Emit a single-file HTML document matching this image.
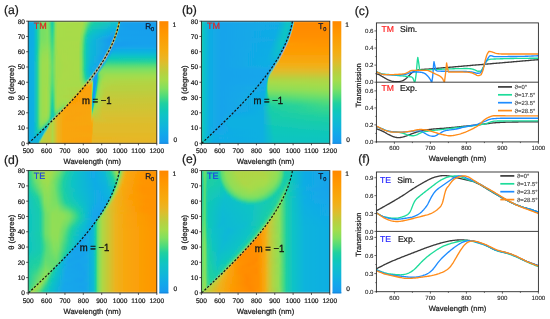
<!DOCTYPE html>
<html><head><meta charset="utf-8"><title>Figure</title>
<style>html,body{margin:0;padding:0;background:#fff;}svg{display:block;}text{font-family:"Liberation Sans", Arial, sans-serif;text-rendering:geometricPrecision;}</style>
</head><body>
<svg xmlns="http://www.w3.org/2000/svg" width="550" height="319" viewBox="0 0 550 319">
<defs>
<linearGradient id="cmap" x1="0" y1="1" x2="0" y2="0"><stop offset="0.0" stop-color="#1898F0"/><stop offset="0.08" stop-color="#12A8EA"/><stop offset="0.15" stop-color="#10B6DA"/><stop offset="0.24" stop-color="#10C4C4"/><stop offset="0.27" stop-color="#10C8B8"/><stop offset="0.33" stop-color="#20D0A0"/><stop offset="0.38" stop-color="#48DA80"/><stop offset="0.45" stop-color="#80E060"/><stop offset="0.52" stop-color="#A6DC4A"/><stop offset="0.58" stop-color="#B8D040"/><stop offset="0.65" stop-color="#D8C030"/><stop offset="0.7" stop-color="#EBB422"/><stop offset="0.76" stop-color="#F5AC10"/><stop offset="0.9" stop-color="#FF9800"/><stop offset="1.0" stop-color="#FF8800"/></linearGradient>
<filter id="vb" x="0" y="0" width="1" height="1"><feGaussianBlur stdDeviation="0 0.8" edgeMode="duplicate"/></filter>
<linearGradient id="a0"><stop offset="0.39%" stop-color="#11ace5"/><stop offset="4.26%" stop-color="#11afe2"/><stop offset="6.59%" stop-color="#10c7bb"/><stop offset="8.14%" stop-color="#33d591"/><stop offset="9.69%" stop-color="#67dd6e"/><stop offset="10.47%" stop-color="#74df67"/><stop offset="15.12%" stop-color="#80e060"/><stop offset="15.89%" stop-color="#77df65"/><stop offset="17.44%" stop-color="#41d886"/><stop offset="18.22%" stop-color="#20d0a0"/><stop offset="18.99%" stop-color="#1dcea5"/><stop offset="19.77%" stop-color="#30d493"/><stop offset="21.32%" stop-color="#88df5b"/><stop offset="22.87%" stop-color="#a6dc4a"/><stop offset="42.25%" stop-color="#a8da49"/><stop offset="45.35%" stop-color="#81e05f"/><stop offset="49.22%" stop-color="#2dd395"/><stop offset="51.55%" stop-color="#1dcfa4"/><stop offset="63.95%" stop-color="#10c5c0"/><stop offset="69.38%" stop-color="#10c0ca"/><stop offset="70.16%" stop-color="#abd947"/><stop offset="70.93%" stop-color="#f8a70c"/><stop offset="71.71%" stop-color="#10b6d9"/><stop offset="72.48%" stop-color="#169eee"/><stop offset="99.61%" stop-color="#169eee"/></linearGradient>
<linearGradient id="a1"><stop offset="0.39%" stop-color="#11ace5"/><stop offset="4.26%" stop-color="#11afe2"/><stop offset="6.59%" stop-color="#10c7bb"/><stop offset="8.14%" stop-color="#33d591"/><stop offset="9.69%" stop-color="#67dd6e"/><stop offset="10.47%" stop-color="#74df67"/><stop offset="15.12%" stop-color="#80e060"/><stop offset="15.89%" stop-color="#77df65"/><stop offset="17.44%" stop-color="#43d984"/><stop offset="18.22%" stop-color="#23d19e"/><stop offset="18.99%" stop-color="#1ecfa3"/><stop offset="19.77%" stop-color="#34d590"/><stop offset="21.32%" stop-color="#89df5b"/><stop offset="22.87%" stop-color="#a7dc4a"/><stop offset="42.25%" stop-color="#a7dc4a"/><stop offset="45.35%" stop-color="#75df66"/><stop offset="48.45%" stop-color="#2ad298"/><stop offset="50.78%" stop-color="#19cdaa"/><stop offset="68.6%" stop-color="#10bbd3"/><stop offset="69.38%" stop-color="#10c6bf"/><stop offset="70.16%" stop-color="#f6aa0e"/><stop offset="70.93%" stop-color="#a3dc4c"/><stop offset="71.71%" stop-color="#13a4eb"/><stop offset="99.61%" stop-color="#169eee"/></linearGradient>
<linearGradient id="a2"><stop offset="0.39%" stop-color="#11ace5"/><stop offset="4.26%" stop-color="#11afe2"/><stop offset="6.59%" stop-color="#10c7bb"/><stop offset="8.14%" stop-color="#33d591"/><stop offset="9.69%" stop-color="#67dd6e"/><stop offset="10.47%" stop-color="#74df67"/><stop offset="15.12%" stop-color="#80e060"/><stop offset="16.67%" stop-color="#63dd71"/><stop offset="18.22%" stop-color="#27d29b"/><stop offset="18.99%" stop-color="#1fd0a1"/><stop offset="19.77%" stop-color="#37d68d"/><stop offset="21.32%" stop-color="#8adf5a"/><stop offset="22.87%" stop-color="#a7dc4a"/><stop offset="41.47%" stop-color="#a8da49"/><stop offset="43.8%" stop-color="#8cdf59"/><stop offset="47.67%" stop-color="#29d299"/><stop offset="50%" stop-color="#15cbb0"/><stop offset="68.6%" stop-color="#10b8d7"/><stop offset="69.38%" stop-color="#6fde69"/><stop offset="70.16%" stop-color="#fba006"/><stop offset="70.93%" stop-color="#10c0cb"/><stop offset="71.71%" stop-color="#159fed"/><stop offset="99.61%" stop-color="#159fed"/></linearGradient>
<linearGradient id="a3"><stop offset="0.39%" stop-color="#11ace5"/><stop offset="4.26%" stop-color="#11afe2"/><stop offset="6.59%" stop-color="#10c7bb"/><stop offset="8.14%" stop-color="#33d591"/><stop offset="9.69%" stop-color="#67dd6e"/><stop offset="10.47%" stop-color="#74df67"/><stop offset="15.12%" stop-color="#80e060"/><stop offset="16.67%" stop-color="#64dd70"/><stop offset="18.22%" stop-color="#2ad398"/><stop offset="18.99%" stop-color="#22d19e"/><stop offset="19.77%" stop-color="#3bd78b"/><stop offset="21.32%" stop-color="#8adf5a"/><stop offset="22.87%" stop-color="#a7dc4a"/><stop offset="41.47%" stop-color="#a7db4a"/><stop offset="43.8%" stop-color="#84e05e"/><stop offset="46.9%" stop-color="#2ad398"/><stop offset="49.22%" stop-color="#13c9b4"/><stop offset="67.83%" stop-color="#11b2de"/><stop offset="68.6%" stop-color="#10bece"/><stop offset="69.38%" stop-color="#f3ae14"/><stop offset="70.16%" stop-color="#aed645"/><stop offset="70.93%" stop-color="#13a6eb"/><stop offset="78.68%" stop-color="#159fed"/><stop offset="99.61%" stop-color="#159fed"/></linearGradient>
<linearGradient id="a4"><stop offset="0.39%" stop-color="#11ace5"/><stop offset="4.26%" stop-color="#11afe2"/><stop offset="6.59%" stop-color="#10c7bb"/><stop offset="8.14%" stop-color="#33d591"/><stop offset="9.69%" stop-color="#67dd6e"/><stop offset="10.47%" stop-color="#74df67"/><stop offset="15.12%" stop-color="#81e060"/><stop offset="16.67%" stop-color="#65dd6f"/><stop offset="18.22%" stop-color="#2ed495"/><stop offset="18.99%" stop-color="#26d29b"/><stop offset="19.77%" stop-color="#3ed888"/><stop offset="21.32%" stop-color="#8bdf5a"/><stop offset="22.87%" stop-color="#a7dc4a"/><stop offset="40.7%" stop-color="#a9da48"/><stop offset="43.02%" stop-color="#8bdf59"/><stop offset="46.9%" stop-color="#1dcfa4"/><stop offset="50%" stop-color="#10c5c0"/><stop offset="66.28%" stop-color="#11b0e1"/><stop offset="67.83%" stop-color="#11b0e1"/><stop offset="68.6%" stop-color="#74df67"/><stop offset="69.38%" stop-color="#faa208"/><stop offset="70.16%" stop-color="#10bcd0"/><stop offset="70.93%" stop-color="#15a0ed"/><stop offset="99.61%" stop-color="#159fed"/></linearGradient>
<linearGradient id="a5"><stop offset="0.39%" stop-color="#11ace5"/><stop offset="4.26%" stop-color="#11afe2"/><stop offset="6.59%" stop-color="#10c7bb"/><stop offset="8.14%" stop-color="#33d591"/><stop offset="9.69%" stop-color="#67dd6e"/><stop offset="10.47%" stop-color="#74df67"/><stop offset="15.12%" stop-color="#81e060"/><stop offset="16.67%" stop-color="#66dd6f"/><stop offset="18.22%" stop-color="#32d492"/><stop offset="18.99%" stop-color="#2ad398"/><stop offset="19.77%" stop-color="#42d885"/><stop offset="21.32%" stop-color="#8cdf59"/><stop offset="22.87%" stop-color="#a7dc4a"/><stop offset="40.7%" stop-color="#a7db49"/><stop offset="43.02%" stop-color="#83e05e"/><stop offset="46.12%" stop-color="#1fcfa2"/><stop offset="48.45%" stop-color="#10c5c0"/><stop offset="67.05%" stop-color="#12a9e9"/><stop offset="67.83%" stop-color="#10bfcd"/><stop offset="68.6%" stop-color="#f9a40a"/><stop offset="69.38%" stop-color="#76df66"/><stop offset="70.16%" stop-color="#14a3ec"/><stop offset="99.61%" stop-color="#15a0ed"/></linearGradient>
<linearGradient id="a6"><stop offset="0.39%" stop-color="#11ace5"/><stop offset="4.26%" stop-color="#11afe2"/><stop offset="6.59%" stop-color="#10c7bb"/><stop offset="8.14%" stop-color="#33d591"/><stop offset="9.69%" stop-color="#67dd6e"/><stop offset="10.47%" stop-color="#74df67"/><stop offset="15.12%" stop-color="#81e060"/><stop offset="16.67%" stop-color="#68dd6e"/><stop offset="18.22%" stop-color="#35d58f"/><stop offset="18.99%" stop-color="#2fd494"/><stop offset="19.77%" stop-color="#45d982"/><stop offset="21.32%" stop-color="#8cdf59"/><stop offset="22.87%" stop-color="#a7dc4a"/><stop offset="39.92%" stop-color="#a9da48"/><stop offset="42.25%" stop-color="#8bdf5a"/><stop offset="44.57%" stop-color="#3fd887"/><stop offset="45.35%" stop-color="#23d19e"/><stop offset="46.9%" stop-color="#10c8b8"/><stop offset="50%" stop-color="#10c0cb"/><stop offset="63.18%" stop-color="#11ace5"/><stop offset="66.28%" stop-color="#13a5eb"/><stop offset="67.05%" stop-color="#12abe6"/><stop offset="67.83%" stop-color="#bbce3e"/><stop offset="68.6%" stop-color="#ecb320"/><stop offset="69.38%" stop-color="#11afe2"/><stop offset="70.16%" stop-color="#15a0ed"/><stop offset="99.61%" stop-color="#15a0ed"/></linearGradient>
<linearGradient id="a7"><stop offset="0.39%" stop-color="#11ace5"/><stop offset="4.26%" stop-color="#11afe2"/><stop offset="6.59%" stop-color="#10c7bb"/><stop offset="8.14%" stop-color="#33d591"/><stop offset="9.69%" stop-color="#67dd6e"/><stop offset="10.47%" stop-color="#74df67"/><stop offset="15.12%" stop-color="#81e060"/><stop offset="16.67%" stop-color="#69de6d"/><stop offset="18.22%" stop-color="#39d68c"/><stop offset="18.99%" stop-color="#33d591"/><stop offset="19.77%" stop-color="#49da7f"/><stop offset="21.32%" stop-color="#8ddf58"/><stop offset="22.87%" stop-color="#a7dc4a"/><stop offset="39.92%" stop-color="#a8db49"/><stop offset="42.25%" stop-color="#82e05f"/><stop offset="44.57%" stop-color="#2dd396"/><stop offset="46.12%" stop-color="#11c9b6"/><stop offset="48.45%" stop-color="#10becd"/><stop offset="62.4%" stop-color="#12a9e9"/><stop offset="66.28%" stop-color="#15a1ed"/><stop offset="67.05%" stop-color="#2cd397"/><stop offset="67.83%" stop-color="#fb9f06"/><stop offset="68.6%" stop-color="#10c2c7"/><stop offset="69.38%" stop-color="#15a1ed"/><stop offset="99.61%" stop-color="#15a0ed"/></linearGradient>
<linearGradient id="a8"><stop offset="0.39%" stop-color="#11ace5"/><stop offset="4.26%" stop-color="#11afe2"/><stop offset="6.59%" stop-color="#10c7bb"/><stop offset="8.14%" stop-color="#33d591"/><stop offset="9.69%" stop-color="#67dd6e"/><stop offset="10.47%" stop-color="#75df67"/><stop offset="15.12%" stop-color="#81e05f"/><stop offset="16.67%" stop-color="#6ade6d"/><stop offset="18.22%" stop-color="#3cd789"/><stop offset="18.99%" stop-color="#36d68e"/><stop offset="19.77%" stop-color="#4cda7e"/><stop offset="21.32%" stop-color="#8edf58"/><stop offset="22.87%" stop-color="#a7db4a"/><stop offset="39.92%" stop-color="#a7db4a"/><stop offset="42.25%" stop-color="#7bdf63"/><stop offset="44.57%" stop-color="#20d0a1"/><stop offset="46.9%" stop-color="#10c2c8"/><stop offset="52.33%" stop-color="#10b8d7"/><stop offset="65.5%" stop-color="#179bef"/><stop offset="66.28%" stop-color="#10bad4"/><stop offset="67.05%" stop-color="#faa208"/><stop offset="67.83%" stop-color="#52db7a"/><stop offset="68.6%" stop-color="#14a3ec"/><stop offset="99.61%" stop-color="#15a1ed"/></linearGradient>
<linearGradient id="a9"><stop offset="0.39%" stop-color="#11ace5"/><stop offset="4.26%" stop-color="#11afe2"/><stop offset="6.59%" stop-color="#10c7ba"/><stop offset="7.36%" stop-color="#1ccea6"/><stop offset="9.69%" stop-color="#69de6d"/><stop offset="10.47%" stop-color="#77df65"/><stop offset="15.12%" stop-color="#82e05f"/><stop offset="16.67%" stop-color="#6cde6b"/><stop offset="18.22%" stop-color="#40d887"/><stop offset="18.99%" stop-color="#3ad78b"/><stop offset="19.77%" stop-color="#4fdb7c"/><stop offset="21.32%" stop-color="#8ede58"/><stop offset="22.87%" stop-color="#a7db4a"/><stop offset="39.92%" stop-color="#a6dc4a"/><stop offset="42.25%" stop-color="#74df67"/><stop offset="44.57%" stop-color="#1ccea6"/><stop offset="46.12%" stop-color="#10c4c4"/><stop offset="50%" stop-color="#10b7d8"/><stop offset="64.73%" stop-color="#1898f0"/><stop offset="65.5%" stop-color="#12a8ea"/><stop offset="66.28%" stop-color="#eeb21d"/><stop offset="67.05%" stop-color="#b2d443"/><stop offset="67.83%" stop-color="#12a8ea"/><stop offset="74.03%" stop-color="#15a1ed"/><stop offset="99.61%" stop-color="#15a1ed"/></linearGradient>
<linearGradient id="a10"><stop offset="0.39%" stop-color="#11ace5"/><stop offset="4.26%" stop-color="#11afe2"/><stop offset="6.59%" stop-color="#10c7ba"/><stop offset="7.36%" stop-color="#1ccea6"/><stop offset="9.69%" stop-color="#6cde6c"/><stop offset="10.47%" stop-color="#7adf64"/><stop offset="15.12%" stop-color="#85e05d"/><stop offset="16.67%" stop-color="#6fde6a"/><stop offset="18.22%" stop-color="#44d983"/><stop offset="18.99%" stop-color="#3ed788"/><stop offset="19.77%" stop-color="#52db7a"/><stop offset="21.32%" stop-color="#8fde57"/><stop offset="22.87%" stop-color="#a7db4a"/><stop offset="39.15%" stop-color="#aada48"/><stop offset="40.7%" stop-color="#98dd52"/><stop offset="42.25%" stop-color="#71de69"/><stop offset="44.57%" stop-color="#1bcea7"/><stop offset="46.12%" stop-color="#10c4c5"/><stop offset="50%" stop-color="#10b7d8"/><stop offset="63.95%" stop-color="#1899f0"/><stop offset="64.73%" stop-color="#15a1ed"/><stop offset="65.5%" stop-color="#bbcf3f"/><stop offset="66.28%" stop-color="#e7b625"/><stop offset="67.05%" stop-color="#11ade4"/><stop offset="67.83%" stop-color="#15a0ed"/><stop offset="99.61%" stop-color="#14a1ec"/></linearGradient>
<linearGradient id="a11"><stop offset="0.39%" stop-color="#11ace5"/><stop offset="4.26%" stop-color="#11afe2"/><stop offset="6.59%" stop-color="#10c8b9"/><stop offset="7.36%" stop-color="#1dcea5"/><stop offset="9.69%" stop-color="#6fde6a"/><stop offset="10.47%" stop-color="#7ee061"/><stop offset="15.12%" stop-color="#87df5c"/><stop offset="16.67%" stop-color="#73df68"/><stop offset="18.22%" stop-color="#48da80"/><stop offset="18.99%" stop-color="#42d985"/><stop offset="19.77%" stop-color="#56db78"/><stop offset="21.32%" stop-color="#90de57"/><stop offset="22.87%" stop-color="#a7db49"/><stop offset="39.15%" stop-color="#a9da48"/><stop offset="41.47%" stop-color="#86df5c"/><stop offset="43.8%" stop-color="#2fd494"/><stop offset="45.35%" stop-color="#10c8b8"/><stop offset="48.45%" stop-color="#10b9d6"/><stop offset="63.95%" stop-color="#169eee"/><stop offset="64.73%" stop-color="#90de56"/><stop offset="65.5%" stop-color="#f6aa0f"/><stop offset="66.28%" stop-color="#11b2de"/><stop offset="67.05%" stop-color="#169eee"/><stop offset="99.61%" stop-color="#14a2ec"/></linearGradient>
<linearGradient id="a12"><stop offset="0.39%" stop-color="#11ace5"/><stop offset="4.26%" stop-color="#11afe2"/><stop offset="6.59%" stop-color="#10c8b9"/><stop offset="7.36%" stop-color="#1dcfa4"/><stop offset="9.69%" stop-color="#73df67"/><stop offset="10.47%" stop-color="#82e05f"/><stop offset="15.12%" stop-color="#8bdf5a"/><stop offset="16.67%" stop-color="#77df65"/><stop offset="18.22%" stop-color="#4cda7d"/><stop offset="18.99%" stop-color="#47da81"/><stop offset="19.77%" stop-color="#59dc76"/><stop offset="21.32%" stop-color="#91de56"/><stop offset="22.87%" stop-color="#a7db49"/><stop offset="39.15%" stop-color="#a9da48"/><stop offset="41.47%" stop-color="#84e05d"/><stop offset="43.02%" stop-color="#4dda7d"/><stop offset="43.8%" stop-color="#2cd396"/><stop offset="45.35%" stop-color="#10c8b9"/><stop offset="48.45%" stop-color="#10b9d6"/><stop offset="63.18%" stop-color="#169dee"/><stop offset="63.95%" stop-color="#62dd71"/><stop offset="64.73%" stop-color="#f9a40a"/><stop offset="65.5%" stop-color="#10b7d9"/><stop offset="66.28%" stop-color="#179cef"/><stop offset="80.23%" stop-color="#14a3ec"/><stop offset="99.61%" stop-color="#14a3ec"/></linearGradient>
<linearGradient id="a13"><stop offset="0.39%" stop-color="#11ace5"/><stop offset="4.26%" stop-color="#11afe2"/><stop offset="6.59%" stop-color="#10c8b8"/><stop offset="7.36%" stop-color="#1ecfa3"/><stop offset="9.69%" stop-color="#77df65"/><stop offset="11.24%" stop-color="#87df5c"/><stop offset="15.12%" stop-color="#8edf58"/><stop offset="16.67%" stop-color="#7bdf63"/><stop offset="18.22%" stop-color="#51db7b"/><stop offset="18.99%" stop-color="#4bda7e"/><stop offset="19.77%" stop-color="#5ddc74"/><stop offset="21.32%" stop-color="#91de56"/><stop offset="22.87%" stop-color="#a7db49"/><stop offset="39.15%" stop-color="#a8da49"/><stop offset="41.47%" stop-color="#82e05f"/><stop offset="43.02%" stop-color="#49da7f"/><stop offset="43.8%" stop-color="#29d299"/><stop offset="45.35%" stop-color="#10c7bb"/><stop offset="48.45%" stop-color="#10b9d6"/><stop offset="62.4%" stop-color="#169eee"/><stop offset="63.18%" stop-color="#48da80"/><stop offset="63.95%" stop-color="#faa208"/><stop offset="64.73%" stop-color="#10b9d5"/><stop offset="65.5%" stop-color="#179aef"/><stop offset="68.6%" stop-color="#12a8ea"/><stop offset="99.61%" stop-color="#12a8ea"/></linearGradient>
<linearGradient id="a14"><stop offset="0.39%" stop-color="#11ace5"/><stop offset="4.26%" stop-color="#11b0e1"/><stop offset="6.59%" stop-color="#11c8b7"/><stop offset="7.36%" stop-color="#1fcfa2"/><stop offset="8.91%" stop-color="#61dd72"/><stop offset="9.69%" stop-color="#7ce062"/><stop offset="11.24%" stop-color="#8bdf59"/><stop offset="15.12%" stop-color="#92de56"/><stop offset="16.67%" stop-color="#7fe060"/><stop offset="18.22%" stop-color="#56db78"/><stop offset="18.99%" stop-color="#50db7c"/><stop offset="19.77%" stop-color="#60dd72"/><stop offset="21.32%" stop-color="#92de56"/><stop offset="23.64%" stop-color="#a9da48"/><stop offset="39.15%" stop-color="#a8db49"/><stop offset="41.47%" stop-color="#80e060"/><stop offset="43.02%" stop-color="#46da81"/><stop offset="43.8%" stop-color="#26d19b"/><stop offset="45.35%" stop-color="#10c7bc"/><stop offset="48.45%" stop-color="#10b9d6"/><stop offset="61.63%" stop-color="#169fee"/><stop offset="62.4%" stop-color="#49da80"/><stop offset="63.18%" stop-color="#faa208"/><stop offset="63.95%" stop-color="#10b9d5"/><stop offset="64.73%" stop-color="#179bef"/><stop offset="67.05%" stop-color="#11ade4"/><stop offset="99.61%" stop-color="#11ade4"/></linearGradient>
<linearGradient id="a15"><stop offset="0.39%" stop-color="#11ace5"/><stop offset="4.26%" stop-color="#11b0e1"/><stop offset="6.59%" stop-color="#11c9b6"/><stop offset="7.36%" stop-color="#1fd0a1"/><stop offset="8.91%" stop-color="#64dd70"/><stop offset="9.69%" stop-color="#80e060"/><stop offset="12.02%" stop-color="#92de55"/><stop offset="15.12%" stop-color="#95de54"/><stop offset="16.67%" stop-color="#82e05f"/><stop offset="18.22%" stop-color="#5adc75"/><stop offset="18.99%" stop-color="#54db79"/><stop offset="19.77%" stop-color="#64dd70"/><stop offset="21.32%" stop-color="#93de55"/><stop offset="23.64%" stop-color="#a9da48"/><stop offset="39.15%" stop-color="#a7db49"/><stop offset="41.47%" stop-color="#7ee061"/><stop offset="43.8%" stop-color="#23d19d"/><stop offset="45.35%" stop-color="#10c6bd"/><stop offset="48.45%" stop-color="#10b9d6"/><stop offset="60.85%" stop-color="#15a0ed"/><stop offset="61.63%" stop-color="#62dd71"/><stop offset="62.4%" stop-color="#f9a309"/><stop offset="63.18%" stop-color="#10b7d9"/><stop offset="63.95%" stop-color="#179cef"/><stop offset="65.5%" stop-color="#11b1df"/><stop offset="99.61%" stop-color="#10b3dd"/></linearGradient>
<linearGradient id="a16"><stop offset="0.39%" stop-color="#11ace5"/><stop offset="4.26%" stop-color="#11b0e1"/><stop offset="6.59%" stop-color="#11c9b6"/><stop offset="7.36%" stop-color="#20d0a0"/><stop offset="8.91%" stop-color="#68dd6e"/><stop offset="9.69%" stop-color="#83e05e"/><stop offset="11.24%" stop-color="#93de55"/><stop offset="15.12%" stop-color="#98dd52"/><stop offset="17.44%" stop-color="#73df67"/><stop offset="18.22%" stop-color="#5edc73"/><stop offset="18.99%" stop-color="#57dc77"/><stop offset="19.77%" stop-color="#66dd6f"/><stop offset="21.32%" stop-color="#93de55"/><stop offset="23.64%" stop-color="#a9da48"/><stop offset="39.15%" stop-color="#a7db49"/><stop offset="41.47%" stop-color="#7ee061"/><stop offset="43.8%" stop-color="#24d19d"/><stop offset="45.35%" stop-color="#10c6bd"/><stop offset="48.45%" stop-color="#10b9d6"/><stop offset="60.08%" stop-color="#14a2ec"/><stop offset="60.85%" stop-color="#8fde57"/><stop offset="61.63%" stop-color="#f7a80d"/><stop offset="62.4%" stop-color="#11b1e0"/><stop offset="63.18%" stop-color="#169eee"/><stop offset="64.73%" stop-color="#10b9d5"/><stop offset="99.61%" stop-color="#10bbd3"/></linearGradient>
<linearGradient id="a17"><stop offset="0.39%" stop-color="#11ace5"/><stop offset="4.26%" stop-color="#11b0e1"/><stop offset="6.59%" stop-color="#12c9b5"/><stop offset="7.36%" stop-color="#22d09e"/><stop offset="8.91%" stop-color="#6ade6c"/><stop offset="9.69%" stop-color="#85df5d"/><stop offset="11.24%" stop-color="#96de53"/><stop offset="15.12%" stop-color="#9bdd51"/><stop offset="17.44%" stop-color="#76df66"/><stop offset="18.22%" stop-color="#61dd72"/><stop offset="18.99%" stop-color="#5adc76"/><stop offset="22.09%" stop-color="#a0dd4d"/><stop offset="26.74%" stop-color="#aada48"/><stop offset="39.15%" stop-color="#a7db49"/><stop offset="41.47%" stop-color="#7fe061"/><stop offset="43.8%" stop-color="#24d19d"/><stop offset="45.35%" stop-color="#10c6bd"/><stop offset="48.45%" stop-color="#10b8d6"/><stop offset="58.53%" stop-color="#15a0ed"/><stop offset="59.3%" stop-color="#13a6eb"/><stop offset="60.08%" stop-color="#b7d141"/><stop offset="60.85%" stop-color="#eeb11c"/><stop offset="61.63%" stop-color="#12a8ea"/><stop offset="62.4%" stop-color="#14a2ec"/><stop offset="63.18%" stop-color="#10b8d7"/><stop offset="64.73%" stop-color="#10c2c8"/><stop offset="99.61%" stop-color="#10c2c8"/></linearGradient>
<linearGradient id="a18"><stop offset="0.39%" stop-color="#11ace5"/><stop offset="4.26%" stop-color="#11b0e1"/><stop offset="6.59%" stop-color="#12c9b5"/><stop offset="7.36%" stop-color="#23d19d"/><stop offset="8.91%" stop-color="#6dde6b"/><stop offset="9.69%" stop-color="#87df5c"/><stop offset="11.24%" stop-color="#98dd52"/><stop offset="15.12%" stop-color="#9ddd4f"/><stop offset="17.44%" stop-color="#79df64"/><stop offset="18.22%" stop-color="#64dd70"/><stop offset="18.99%" stop-color="#5ddc74"/><stop offset="22.09%" stop-color="#a1dd4d"/><stop offset="27.52%" stop-color="#aada48"/><stop offset="39.15%" stop-color="#a7db49"/><stop offset="41.47%" stop-color="#7fe061"/><stop offset="43.8%" stop-color="#24d19c"/><stop offset="45.35%" stop-color="#10c6bd"/><stop offset="48.45%" stop-color="#10b8d7"/><stop offset="57.75%" stop-color="#15a1ed"/><stop offset="58.53%" stop-color="#11ade4"/><stop offset="59.3%" stop-color="#eab523"/><stop offset="60.08%" stop-color="#c6c939"/><stop offset="60.85%" stop-color="#15a1ed"/><stop offset="61.63%" stop-color="#12a8ea"/><stop offset="62.4%" stop-color="#10bfcb"/><stop offset="63.18%" stop-color="#10c7bb"/><stop offset="99.61%" stop-color="#10c8b8"/></linearGradient>
<linearGradient id="a19"><stop offset="0.39%" stop-color="#11ace5"/><stop offset="4.26%" stop-color="#11b0e1"/><stop offset="6.59%" stop-color="#12c9b5"/><stop offset="7.36%" stop-color="#24d19d"/><stop offset="8.91%" stop-color="#6ede6a"/><stop offset="9.69%" stop-color="#88df5b"/><stop offset="11.24%" stop-color="#99dd51"/><stop offset="15.12%" stop-color="#9edd4f"/><stop offset="17.44%" stop-color="#7bdf63"/><stop offset="18.22%" stop-color="#66dd6f"/><stop offset="18.99%" stop-color="#60dd73"/><stop offset="22.09%" stop-color="#a1dd4d"/><stop offset="27.52%" stop-color="#aada48"/><stop offset="39.15%" stop-color="#a7db49"/><stop offset="41.47%" stop-color="#7fe061"/><stop offset="43.02%" stop-color="#45d982"/><stop offset="43.8%" stop-color="#24d19c"/><stop offset="45.35%" stop-color="#10c6bd"/><stop offset="48.45%" stop-color="#10b7d8"/><stop offset="56.98%" stop-color="#14a2ec"/><stop offset="57.75%" stop-color="#10bad4"/><stop offset="58.53%" stop-color="#f9a50a"/><stop offset="59.3%" stop-color="#84e05e"/><stop offset="60.08%" stop-color="#169cee"/><stop offset="60.85%" stop-color="#11b1e0"/><stop offset="61.63%" stop-color="#10c7bb"/><stop offset="62.4%" stop-color="#19cdaa"/><stop offset="99.61%" stop-color="#1bcda8"/></linearGradient>
<linearGradient id="a20"><stop offset="0.39%" stop-color="#11ace5"/><stop offset="4.26%" stop-color="#11b0e1"/><stop offset="6.59%" stop-color="#12c9b4"/><stop offset="7.36%" stop-color="#25d19c"/><stop offset="8.91%" stop-color="#6fde6a"/><stop offset="9.69%" stop-color="#89df5b"/><stop offset="11.24%" stop-color="#9add51"/><stop offset="15.12%" stop-color="#9edd4e"/><stop offset="17.44%" stop-color="#7ce062"/><stop offset="18.22%" stop-color="#69dd6d"/><stop offset="18.99%" stop-color="#62dd71"/><stop offset="22.09%" stop-color="#a1dd4d"/><stop offset="28.29%" stop-color="#aad948"/><stop offset="39.15%" stop-color="#a8db49"/><stop offset="41.47%" stop-color="#7fe060"/><stop offset="43.02%" stop-color="#45d982"/><stop offset="43.8%" stop-color="#24d19d"/><stop offset="45.35%" stop-color="#10c6bd"/><stop offset="48.45%" stop-color="#10b6da"/><stop offset="56.2%" stop-color="#14a3ec"/><stop offset="56.98%" stop-color="#18ccac"/><stop offset="57.75%" stop-color="#fc9e05"/><stop offset="58.53%" stop-color="#13cab3"/><stop offset="59.3%" stop-color="#169dee"/><stop offset="60.08%" stop-color="#10bbd2"/><stop offset="60.85%" stop-color="#1acda9"/><stop offset="61.63%" stop-color="#27d29b"/><stop offset="99.61%" stop-color="#29d299"/></linearGradient>
<linearGradient id="a21"><stop offset="0.39%" stop-color="#11ace5"/><stop offset="4.26%" stop-color="#11b0e1"/><stop offset="6.59%" stop-color="#13c9b4"/><stop offset="7.36%" stop-color="#25d19c"/><stop offset="8.91%" stop-color="#70de69"/><stop offset="9.69%" stop-color="#89df5b"/><stop offset="11.24%" stop-color="#9bdd50"/><stop offset="15.12%" stop-color="#9fdd4e"/><stop offset="17.44%" stop-color="#7ee061"/><stop offset="18.22%" stop-color="#6bde6c"/><stop offset="18.99%" stop-color="#64dd70"/><stop offset="22.09%" stop-color="#a1dd4d"/><stop offset="28.29%" stop-color="#aad948"/><stop offset="39.15%" stop-color="#a8db49"/><stop offset="41.47%" stop-color="#7fe060"/><stop offset="43.02%" stop-color="#45d983"/><stop offset="43.8%" stop-color="#24d19d"/><stop offset="45.35%" stop-color="#10c6be"/><stop offset="48.45%" stop-color="#10b5dc"/><stop offset="55.43%" stop-color="#12a7ea"/><stop offset="56.2%" stop-color="#9add51"/><stop offset="56.98%" stop-color="#f7a80c"/><stop offset="57.75%" stop-color="#11b1df"/><stop offset="58.53%" stop-color="#13a4eb"/><stop offset="59.3%" stop-color="#10c5c0"/><stop offset="60.08%" stop-color="#32d492"/><stop offset="60.85%" stop-color="#41d885"/><stop offset="99.61%" stop-color="#42d984"/></linearGradient>
<linearGradient id="a22"><stop offset="0.39%" stop-color="#11ace5"/><stop offset="4.26%" stop-color="#11b0e1"/><stop offset="6.59%" stop-color="#13c9b4"/><stop offset="7.36%" stop-color="#25d19c"/><stop offset="8.91%" stop-color="#70de69"/><stop offset="9.69%" stop-color="#8adf5a"/><stop offset="11.24%" stop-color="#9cdd50"/><stop offset="15.12%" stop-color="#9fdd4e"/><stop offset="18.99%" stop-color="#66dd6f"/><stop offset="22.09%" stop-color="#a1dd4d"/><stop offset="29.07%" stop-color="#aad948"/><stop offset="39.15%" stop-color="#a8db49"/><stop offset="41.47%" stop-color="#7fe060"/><stop offset="43.02%" stop-color="#44d983"/><stop offset="43.8%" stop-color="#22d19e"/><stop offset="45.35%" stop-color="#10c5c0"/><stop offset="48.45%" stop-color="#10b3de"/><stop offset="53.88%" stop-color="#13a4eb"/><stop offset="54.65%" stop-color="#10b3dd"/><stop offset="55.43%" stop-color="#f0b019"/><stop offset="56.2%" stop-color="#becd3d"/><stop offset="56.98%" stop-color="#159fed"/><stop offset="57.75%" stop-color="#11b2df"/><stop offset="58.53%" stop-color="#1ecfa3"/><stop offset="59.3%" stop-color="#53db7a"/><stop offset="62.4%" stop-color="#5cdc75"/><stop offset="99.61%" stop-color="#5cdc75"/></linearGradient>
<linearGradient id="a23"><stop offset="0.39%" stop-color="#11ace5"/><stop offset="4.26%" stop-color="#11b0e1"/><stop offset="6.59%" stop-color="#13c9b4"/><stop offset="7.36%" stop-color="#25d19c"/><stop offset="8.91%" stop-color="#70de69"/><stop offset="9.69%" stop-color="#8adf5a"/><stop offset="11.24%" stop-color="#9cdd50"/><stop offset="15.12%" stop-color="#9fdd4e"/><stop offset="18.99%" stop-color="#66dd6f"/><stop offset="22.09%" stop-color="#a1dd4d"/><stop offset="29.07%" stop-color="#aad948"/><stop offset="39.15%" stop-color="#a8db49"/><stop offset="41.47%" stop-color="#7fe061"/><stop offset="43.02%" stop-color="#43d984"/><stop offset="43.8%" stop-color="#20d0a0"/><stop offset="45.35%" stop-color="#10c5c2"/><stop offset="48.45%" stop-color="#11b1e0"/><stop offset="53.1%" stop-color="#13a6eb"/><stop offset="53.88%" stop-color="#14cab3"/><stop offset="54.65%" stop-color="#fc9e05"/><stop offset="55.43%" stop-color="#1ecfa3"/><stop offset="56.2%" stop-color="#169dee"/><stop offset="56.98%" stop-color="#10c1c9"/><stop offset="57.75%" stop-color="#4bda7e"/><stop offset="58.53%" stop-color="#6dde6b"/><stop offset="99.61%" stop-color="#70de69"/></linearGradient>
<linearGradient id="a24"><stop offset="0.39%" stop-color="#11ace5"/><stop offset="4.26%" stop-color="#11b0e1"/><stop offset="6.59%" stop-color="#13c9b4"/><stop offset="7.36%" stop-color="#25d19c"/><stop offset="8.91%" stop-color="#70de69"/><stop offset="9.69%" stop-color="#8adf5a"/><stop offset="11.24%" stop-color="#9cdd50"/><stop offset="15.12%" stop-color="#9fdd4e"/><stop offset="17.44%" stop-color="#7ee061"/><stop offset="18.22%" stop-color="#6bde6c"/><stop offset="18.99%" stop-color="#64dd70"/><stop offset="22.09%" stop-color="#a1dd4d"/><stop offset="28.29%" stop-color="#aad948"/><stop offset="39.15%" stop-color="#a8db49"/><stop offset="41.47%" stop-color="#7ee061"/><stop offset="43.02%" stop-color="#41d885"/><stop offset="43.8%" stop-color="#1fd0a1"/><stop offset="45.35%" stop-color="#10c4c4"/><stop offset="48.45%" stop-color="#11aee3"/><stop offset="52.33%" stop-color="#11ace6"/><stop offset="53.1%" stop-color="#b0d544"/><stop offset="53.88%" stop-color="#f5ab10"/><stop offset="54.65%" stop-color="#11ade5"/><stop offset="55.43%" stop-color="#12a9e9"/><stop offset="56.2%" stop-color="#1dcea5"/><stop offset="56.98%" stop-color="#70de69"/><stop offset="57.75%" stop-color="#80e060"/><stop offset="99.61%" stop-color="#81e060"/></linearGradient>
<linearGradient id="a25"><stop offset="0.39%" stop-color="#11ace5"/><stop offset="4.26%" stop-color="#11b0e1"/><stop offset="6.59%" stop-color="#13c9b4"/><stop offset="7.36%" stop-color="#25d19c"/><stop offset="8.91%" stop-color="#70de69"/><stop offset="9.69%" stop-color="#8adf5a"/><stop offset="11.24%" stop-color="#9cdd50"/><stop offset="15.12%" stop-color="#9fdd4e"/><stop offset="17.44%" stop-color="#7de062"/><stop offset="18.22%" stop-color="#69de6d"/><stop offset="18.99%" stop-color="#62dd71"/><stop offset="22.09%" stop-color="#a1dd4d"/><stop offset="28.29%" stop-color="#aad948"/><stop offset="39.15%" stop-color="#a8db49"/><stop offset="41.47%" stop-color="#82e05f"/><stop offset="43.02%" stop-color="#48da80"/><stop offset="43.8%" stop-color="#26d19b"/><stop offset="45.35%" stop-color="#10c5c0"/><stop offset="48.45%" stop-color="#11b2df"/><stop offset="50.78%" stop-color="#11ade4"/><stop offset="51.55%" stop-color="#10c3c6"/><stop offset="52.33%" stop-color="#f9a309"/><stop offset="53.1%" stop-color="#87df5c"/><stop offset="53.88%" stop-color="#179cef"/><stop offset="54.65%" stop-color="#10bdcf"/><stop offset="55.43%" stop-color="#57dc77"/><stop offset="56.2%" stop-color="#87df5c"/><stop offset="99.61%" stop-color="#8cdf59"/></linearGradient>
<linearGradient id="a26"><stop offset="0.39%" stop-color="#11ace5"/><stop offset="4.26%" stop-color="#11b0e1"/><stop offset="6.59%" stop-color="#13c9b4"/><stop offset="7.36%" stop-color="#25d19c"/><stop offset="8.91%" stop-color="#70de69"/><stop offset="9.69%" stop-color="#8adf5a"/><stop offset="11.24%" stop-color="#9cdd50"/><stop offset="15.12%" stop-color="#9fdd4e"/><stop offset="17.44%" stop-color="#7ce062"/><stop offset="18.22%" stop-color="#67dd6e"/><stop offset="18.99%" stop-color="#60dd72"/><stop offset="22.09%" stop-color="#a1dd4d"/><stop offset="27.52%" stop-color="#aada48"/><stop offset="39.15%" stop-color="#a8db49"/><stop offset="41.47%" stop-color="#84e05d"/><stop offset="43.02%" stop-color="#4fdb7c"/><stop offset="43.8%" stop-color="#2ed395"/><stop offset="45.35%" stop-color="#10c7ba"/><stop offset="48.45%" stop-color="#10b6da"/><stop offset="50%" stop-color="#10b7d9"/><stop offset="50.78%" stop-color="#a0dd4e"/><stop offset="51.55%" stop-color="#f9a50a"/><stop offset="52.33%" stop-color="#12abe7"/><stop offset="53.1%" stop-color="#1899f0"/><stop offset="53.88%" stop-color="#10bdcf"/><stop offset="54.65%" stop-color="#54db79"/><stop offset="55.43%" stop-color="#7fe060"/><stop offset="60.08%" stop-color="#96de53"/><stop offset="99.61%" stop-color="#98de52"/></linearGradient>
<linearGradient id="a27"><stop offset="0.39%" stop-color="#11ace5"/><stop offset="4.26%" stop-color="#11b0e1"/><stop offset="6.59%" stop-color="#13c9b4"/><stop offset="7.36%" stop-color="#25d19c"/><stop offset="8.91%" stop-color="#70de69"/><stop offset="9.69%" stop-color="#8adf5a"/><stop offset="11.24%" stop-color="#9cdd50"/><stop offset="15.12%" stop-color="#9fdd4e"/><stop offset="17.44%" stop-color="#7bdf63"/><stop offset="18.22%" stop-color="#65dd6f"/><stop offset="18.99%" stop-color="#5edc73"/><stop offset="22.09%" stop-color="#a1dd4d"/><stop offset="27.52%" stop-color="#aada48"/><stop offset="39.15%" stop-color="#a8da49"/><stop offset="41.47%" stop-color="#87df5c"/><stop offset="43.8%" stop-color="#36d58f"/><stop offset="44.57%" stop-color="#1dcea5"/><stop offset="46.12%" stop-color="#10c4c3"/><stop offset="48.45%" stop-color="#10bad3"/><stop offset="49.22%" stop-color="#12c9b5"/><stop offset="50%" stop-color="#f9a40a"/><stop offset="50.78%" stop-color="#9cdd50"/><stop offset="51.55%" stop-color="#1898f0"/><stop offset="52.33%" stop-color="#13a6eb"/><stop offset="53.1%" stop-color="#1898f0"/><stop offset="53.88%" stop-color="#10c2c7"/><stop offset="54.65%" stop-color="#3cd78a"/><stop offset="55.43%" stop-color="#67dd6e"/><stop offset="56.98%" stop-color="#89df5b"/><stop offset="60.85%" stop-color="#a0dd4e"/><stop offset="99.61%" stop-color="#a1dd4d"/></linearGradient>
<linearGradient id="a28"><stop offset="0.39%" stop-color="#11ace5"/><stop offset="4.26%" stop-color="#11b0e1"/><stop offset="6.59%" stop-color="#13c9b4"/><stop offset="7.36%" stop-color="#25d19c"/><stop offset="8.91%" stop-color="#70de69"/><stop offset="9.69%" stop-color="#8adf5a"/><stop offset="11.24%" stop-color="#9cdd50"/><stop offset="15.12%" stop-color="#9fdd4e"/><stop offset="17.44%" stop-color="#79df64"/><stop offset="18.22%" stop-color="#64dd70"/><stop offset="18.99%" stop-color="#5cdc75"/><stop offset="22.09%" stop-color="#a1dd4d"/><stop offset="27.52%" stop-color="#aada48"/><stop offset="39.15%" stop-color="#a8da49"/><stop offset="41.47%" stop-color="#8adf5a"/><stop offset="43.8%" stop-color="#3fd888"/><stop offset="44.57%" stop-color="#21d09f"/><stop offset="46.9%" stop-color="#10c3c5"/><stop offset="47.67%" stop-color="#10c3c5"/><stop offset="48.45%" stop-color="#b2d443"/><stop offset="49.22%" stop-color="#f9a50a"/><stop offset="50%" stop-color="#10bbd2"/><stop offset="51.55%" stop-color="#1898f0"/><stop offset="53.1%" stop-color="#1898f0"/><stop offset="53.88%" stop-color="#10c1c8"/><stop offset="54.65%" stop-color="#39d68c"/><stop offset="55.43%" stop-color="#67dd6e"/><stop offset="56.2%" stop-color="#81e060"/><stop offset="59.3%" stop-color="#a3dc4c"/><stop offset="99.61%" stop-color="#a8db49"/></linearGradient>
<linearGradient id="a29"><stop offset="0.39%" stop-color="#11ace5"/><stop offset="4.26%" stop-color="#11b0e1"/><stop offset="6.59%" stop-color="#13c9b4"/><stop offset="7.36%" stop-color="#25d19c"/><stop offset="8.91%" stop-color="#70de69"/><stop offset="9.69%" stop-color="#8adf5a"/><stop offset="11.24%" stop-color="#9cdd50"/><stop offset="15.12%" stop-color="#9fdd4e"/><stop offset="17.44%" stop-color="#78df64"/><stop offset="18.22%" stop-color="#62dd71"/><stop offset="18.99%" stop-color="#5adc76"/><stop offset="19.77%" stop-color="#68dd6e"/><stop offset="21.32%" stop-color="#94de55"/><stop offset="23.64%" stop-color="#a9da48"/><stop offset="39.15%" stop-color="#a9da48"/><stop offset="41.47%" stop-color="#8edf58"/><stop offset="43.02%" stop-color="#68dd6e"/><stop offset="45.35%" stop-color="#1ecfa2"/><stop offset="46.12%" stop-color="#18ccad"/><stop offset="46.9%" stop-color="#53db7a"/><stop offset="47.67%" stop-color="#fba006"/><stop offset="48.45%" stop-color="#acd847"/><stop offset="49.22%" stop-color="#10bfcc"/><stop offset="50%" stop-color="#10becd"/><stop offset="51.55%" stop-color="#1898f0"/><stop offset="53.1%" stop-color="#14a3ec"/><stop offset="53.88%" stop-color="#10c7ba"/><stop offset="54.65%" stop-color="#4fdb7c"/><stop offset="55.43%" stop-color="#78df64"/><stop offset="57.75%" stop-color="#a1dc4d"/><stop offset="64.73%" stop-color="#add846"/><stop offset="99.61%" stop-color="#add846"/></linearGradient>
<linearGradient id="a30"><stop offset="0.39%" stop-color="#11ace5"/><stop offset="4.26%" stop-color="#11b0e1"/><stop offset="6.59%" stop-color="#13c9b4"/><stop offset="7.36%" stop-color="#25d19c"/><stop offset="8.91%" stop-color="#70de69"/><stop offset="9.69%" stop-color="#8adf5a"/><stop offset="11.24%" stop-color="#9cdd50"/><stop offset="15.12%" stop-color="#9fdd4e"/><stop offset="17.44%" stop-color="#77df65"/><stop offset="18.22%" stop-color="#60dd72"/><stop offset="18.99%" stop-color="#58dc77"/><stop offset="19.77%" stop-color="#66dd6f"/><stop offset="21.32%" stop-color="#93de55"/><stop offset="23.64%" stop-color="#a9da48"/><stop offset="39.92%" stop-color="#a6dc4a"/><stop offset="43.02%" stop-color="#7de062"/><stop offset="44.57%" stop-color="#54db79"/><stop offset="45.35%" stop-color="#56dc78"/><stop offset="46.12%" stop-color="#ecb321"/><stop offset="46.9%" stop-color="#f8a60b"/><stop offset="47.67%" stop-color="#71de69"/><stop offset="48.45%" stop-color="#8ddf59"/><stop offset="49.22%" stop-color="#ccc636"/><stop offset="50%" stop-color="#a6dc4a"/><stop offset="50.78%" stop-color="#10b9d5"/><stop offset="51.55%" stop-color="#1898f0"/><stop offset="52.33%" stop-color="#1898f0"/><stop offset="53.1%" stop-color="#11ace6"/><stop offset="53.88%" stop-color="#1acda9"/><stop offset="54.65%" stop-color="#64dd70"/><stop offset="55.43%" stop-color="#86df5c"/><stop offset="57.75%" stop-color="#a9da48"/><stop offset="71.71%" stop-color="#b1d444"/><stop offset="99.61%" stop-color="#b1d444"/></linearGradient>
<linearGradient id="a31"><stop offset="0.39%" stop-color="#11ace5"/><stop offset="4.26%" stop-color="#11b0e1"/><stop offset="6.59%" stop-color="#13c9b4"/><stop offset="7.36%" stop-color="#25d19c"/><stop offset="8.91%" stop-color="#70de69"/><stop offset="9.69%" stop-color="#8adf5a"/><stop offset="11.24%" stop-color="#9cdd50"/><stop offset="15.12%" stop-color="#9fdd4e"/><stop offset="17.44%" stop-color="#74df67"/><stop offset="18.22%" stop-color="#5cdc75"/><stop offset="18.99%" stop-color="#53db7a"/><stop offset="19.77%" stop-color="#62dd71"/><stop offset="21.32%" stop-color="#93de55"/><stop offset="23.64%" stop-color="#a9da48"/><stop offset="39.92%" stop-color="#a8db49"/><stop offset="43.8%" stop-color="#86df5d"/><stop offset="44.57%" stop-color="#bcce3e"/><stop offset="45.35%" stop-color="#fc9e05"/><stop offset="46.12%" stop-color="#e3b928"/><stop offset="46.9%" stop-color="#c4ca3a"/><stop offset="47.67%" stop-color="#efb11b"/><stop offset="48.45%" stop-color="#f7a80c"/><stop offset="49.22%" stop-color="#f1af18"/><stop offset="50%" stop-color="#a3dc4c"/><stop offset="50.78%" stop-color="#11b0e1"/><stop offset="51.55%" stop-color="#1898f0"/><stop offset="52.33%" stop-color="#1898f0"/><stop offset="53.1%" stop-color="#10b6d9"/><stop offset="53.88%" stop-color="#2ed494"/><stop offset="54.65%" stop-color="#74df67"/><stop offset="56.2%" stop-color="#9cdd50"/><stop offset="59.3%" stop-color="#b1d544"/><stop offset="99.61%" stop-color="#b4d342"/></linearGradient>
<linearGradient id="a32"><stop offset="0.39%" stop-color="#11ace5"/><stop offset="4.26%" stop-color="#11b0e1"/><stop offset="6.59%" stop-color="#13c9b4"/><stop offset="7.36%" stop-color="#25d19c"/><stop offset="8.91%" stop-color="#70de69"/><stop offset="9.69%" stop-color="#8adf5a"/><stop offset="11.24%" stop-color="#9cdd50"/><stop offset="15.12%" stop-color="#9fdd4e"/><stop offset="16.67%" stop-color="#87df5c"/><stop offset="18.22%" stop-color="#57dc77"/><stop offset="18.99%" stop-color="#4edb7d"/><stop offset="19.77%" stop-color="#5edc74"/><stop offset="21.32%" stop-color="#92de56"/><stop offset="22.87%" stop-color="#a7db49"/><stop offset="41.47%" stop-color="#a6dc4a"/><stop offset="42.25%" stop-color="#a2dc4c"/><stop offset="43.02%" stop-color="#b0d544"/><stop offset="43.8%" stop-color="#faa208"/><stop offset="45.35%" stop-color="#f4ad12"/><stop offset="48.45%" stop-color="#f9a40a"/><stop offset="49.22%" stop-color="#f0b019"/><stop offset="50%" stop-color="#95de54"/><stop offset="50.78%" stop-color="#13a5eb"/><stop offset="51.55%" stop-color="#1898f0"/><stop offset="52.33%" stop-color="#169dee"/><stop offset="53.1%" stop-color="#10c0cb"/><stop offset="53.88%" stop-color="#4bda7e"/><stop offset="54.65%" stop-color="#81e060"/><stop offset="56.98%" stop-color="#aada48"/><stop offset="64.73%" stop-color="#b6d241"/><stop offset="99.61%" stop-color="#b6d241"/></linearGradient>
<linearGradient id="a33"><stop offset="0.39%" stop-color="#11ace5"/><stop offset="4.26%" stop-color="#11b0e1"/><stop offset="6.59%" stop-color="#13c9b4"/><stop offset="7.36%" stop-color="#25d19c"/><stop offset="8.91%" stop-color="#70de69"/><stop offset="9.69%" stop-color="#8adf5a"/><stop offset="11.24%" stop-color="#9cdd50"/><stop offset="14.34%" stop-color="#a4dc4b"/><stop offset="16.67%" stop-color="#86df5c"/><stop offset="18.22%" stop-color="#52db7a"/><stop offset="18.99%" stop-color="#48da80"/><stop offset="19.77%" stop-color="#59dc76"/><stop offset="21.32%" stop-color="#91de56"/><stop offset="22.87%" stop-color="#a7db49"/><stop offset="41.47%" stop-color="#b0d645"/><stop offset="42.25%" stop-color="#f4ad12"/><stop offset="43.02%" stop-color="#fc9f05"/><stop offset="48.45%" stop-color="#f9a40a"/><stop offset="49.22%" stop-color="#efb01a"/><stop offset="50%" stop-color="#85e05d"/><stop offset="50.78%" stop-color="#179bef"/><stop offset="51.55%" stop-color="#1898f0"/><stop offset="52.33%" stop-color="#13a7eb"/><stop offset="53.1%" stop-color="#10c8b8"/><stop offset="53.88%" stop-color="#62dd71"/><stop offset="54.65%" stop-color="#88df5b"/><stop offset="56.2%" stop-color="#a6dc4a"/><stop offset="61.63%" stop-color="#b7d040"/><stop offset="99.61%" stop-color="#b8d040"/></linearGradient>
<linearGradient id="a34"><stop offset="0.39%" stop-color="#11ace5"/><stop offset="4.26%" stop-color="#11b0e1"/><stop offset="6.59%" stop-color="#13c9b4"/><stop offset="7.36%" stop-color="#25d19c"/><stop offset="8.91%" stop-color="#70de69"/><stop offset="9.69%" stop-color="#8adf5a"/><stop offset="11.24%" stop-color="#9cdd50"/><stop offset="14.34%" stop-color="#a4dc4b"/><stop offset="16.67%" stop-color="#85df5d"/><stop offset="18.22%" stop-color="#4edb7d"/><stop offset="18.99%" stop-color="#43d984"/><stop offset="19.77%" stop-color="#55db79"/><stop offset="21.32%" stop-color="#90de57"/><stop offset="22.87%" stop-color="#a7db49"/><stop offset="39.92%" stop-color="#add746"/><stop offset="40.7%" stop-color="#dfbb2b"/><stop offset="41.47%" stop-color="#fc9e05"/><stop offset="48.45%" stop-color="#f9a40a"/><stop offset="49.22%" stop-color="#eeb11c"/><stop offset="50%" stop-color="#6ade6c"/><stop offset="50.78%" stop-color="#1898f0"/><stop offset="51.55%" stop-color="#1898f0"/><stop offset="52.33%" stop-color="#11b2df"/><stop offset="53.1%" stop-color="#1fcfa2"/><stop offset="53.88%" stop-color="#74df67"/><stop offset="55.43%" stop-color="#9fdd4e"/><stop offset="58.53%" stop-color="#b6d141"/><stop offset="99.61%" stop-color="#bacf3f"/></linearGradient>
<linearGradient id="a35"><stop offset="0.39%" stop-color="#11ace5"/><stop offset="4.26%" stop-color="#11b0e1"/><stop offset="6.59%" stop-color="#13c9b4"/><stop offset="7.36%" stop-color="#25d19c"/><stop offset="8.91%" stop-color="#70de69"/><stop offset="9.69%" stop-color="#8adf5a"/><stop offset="11.24%" stop-color="#9cdd50"/><stop offset="14.34%" stop-color="#a4dc4b"/><stop offset="15.89%" stop-color="#95de54"/><stop offset="17.44%" stop-color="#68dd6e"/><stop offset="18.22%" stop-color="#49da7f"/><stop offset="18.99%" stop-color="#3ed788"/><stop offset="19.77%" stop-color="#50db7b"/><stop offset="21.32%" stop-color="#8fde57"/><stop offset="22.87%" stop-color="#a7db49"/><stop offset="38.37%" stop-color="#acd847"/><stop offset="39.15%" stop-color="#c5c939"/><stop offset="39.92%" stop-color="#fc9f05"/><stop offset="48.45%" stop-color="#f9a40a"/><stop offset="49.22%" stop-color="#edb21e"/><stop offset="50%" stop-color="#49da80"/><stop offset="50.78%" stop-color="#1898f0"/><stop offset="51.55%" stop-color="#1898f0"/><stop offset="52.33%" stop-color="#10bcd1"/><stop offset="53.1%" stop-color="#41d886"/><stop offset="53.88%" stop-color="#82e05f"/><stop offset="55.43%" stop-color="#a5dc4b"/><stop offset="60.08%" stop-color="#bcce3e"/><stop offset="99.61%" stop-color="#bdcd3d"/></linearGradient>
<linearGradient id="a36"><stop offset="0.39%" stop-color="#11ace5"/><stop offset="4.26%" stop-color="#11b0e1"/><stop offset="6.59%" stop-color="#13c9b4"/><stop offset="7.36%" stop-color="#25d19c"/><stop offset="8.91%" stop-color="#70de69"/><stop offset="9.69%" stop-color="#8adf5a"/><stop offset="11.24%" stop-color="#9cdd50"/><stop offset="14.34%" stop-color="#a4dc4b"/><stop offset="15.89%" stop-color="#95de54"/><stop offset="16.67%" stop-color="#83e05e"/><stop offset="18.22%" stop-color="#45d983"/><stop offset="18.99%" stop-color="#39d68c"/><stop offset="19.77%" stop-color="#4cda7e"/><stop offset="21.32%" stop-color="#8edf58"/><stop offset="22.87%" stop-color="#a7db49"/><stop offset="36.82%" stop-color="#abd947"/><stop offset="37.6%" stop-color="#b6d141"/><stop offset="38.37%" stop-color="#f9a40a"/><stop offset="48.45%" stop-color="#f9a40a"/><stop offset="49.22%" stop-color="#ecb320"/><stop offset="50%" stop-color="#22d09f"/><stop offset="50.78%" stop-color="#1898f0"/><stop offset="51.55%" stop-color="#179aef"/><stop offset="52.33%" stop-color="#10c5c1"/><stop offset="53.1%" stop-color="#5edc73"/><stop offset="53.88%" stop-color="#8adf5a"/><stop offset="56.2%" stop-color="#afd645"/><stop offset="61.63%" stop-color="#c0cc3c"/><stop offset="99.61%" stop-color="#c0cc3c"/></linearGradient>
<linearGradient id="a37"><stop offset="0.39%" stop-color="#11ace5"/><stop offset="4.26%" stop-color="#11b0e1"/><stop offset="6.59%" stop-color="#13c9b4"/><stop offset="7.36%" stop-color="#25d19c"/><stop offset="8.91%" stop-color="#70de69"/><stop offset="9.69%" stop-color="#8adf5a"/><stop offset="11.24%" stop-color="#9cdd50"/><stop offset="14.34%" stop-color="#a4dc4b"/><stop offset="15.89%" stop-color="#94de54"/><stop offset="16.67%" stop-color="#82e05f"/><stop offset="18.22%" stop-color="#40d886"/><stop offset="18.99%" stop-color="#33d590"/><stop offset="19.77%" stop-color="#47da80"/><stop offset="21.32%" stop-color="#8ddf58"/><stop offset="22.87%" stop-color="#a7db49"/><stop offset="36.05%" stop-color="#b0d544"/><stop offset="36.82%" stop-color="#f5ac10"/><stop offset="37.6%" stop-color="#fc9f05"/><stop offset="48.45%" stop-color="#f9a40a"/><stop offset="49.22%" stop-color="#eab523"/><stop offset="50%" stop-color="#13c9b4"/><stop offset="50.78%" stop-color="#1898f0"/><stop offset="51.55%" stop-color="#13a7eb"/><stop offset="52.33%" stop-color="#1acda9"/><stop offset="53.1%" stop-color="#75df66"/><stop offset="54.65%" stop-color="#a2dc4d"/><stop offset="59.3%" stop-color="#c1cb3b"/><stop offset="99.61%" stop-color="#c3ca3a"/></linearGradient>
<linearGradient id="a38"><stop offset="0.39%" stop-color="#11ace5"/><stop offset="4.26%" stop-color="#11b0e1"/><stop offset="6.59%" stop-color="#13c9b4"/><stop offset="7.36%" stop-color="#25d19c"/><stop offset="8.91%" stop-color="#70de69"/><stop offset="9.69%" stop-color="#8adf5a"/><stop offset="11.24%" stop-color="#9cdd50"/><stop offset="14.34%" stop-color="#a4dc4b"/><stop offset="15.89%" stop-color="#94de55"/><stop offset="16.67%" stop-color="#81e05f"/><stop offset="18.22%" stop-color="#3cd78a"/><stop offset="18.99%" stop-color="#2ed495"/><stop offset="19.77%" stop-color="#43d984"/><stop offset="21.32%" stop-color="#8cdf59"/><stop offset="22.87%" stop-color="#a7db49"/><stop offset="34.5%" stop-color="#add746"/><stop offset="35.27%" stop-color="#ecb321"/><stop offset="36.05%" stop-color="#fc9e05"/><stop offset="48.45%" stop-color="#f9a40a"/><stop offset="49.22%" stop-color="#e6b726"/><stop offset="50%" stop-color="#10c3c6"/><stop offset="50.78%" stop-color="#1898f0"/><stop offset="51.55%" stop-color="#10b7d8"/><stop offset="52.33%" stop-color="#3bd78a"/><stop offset="53.1%" stop-color="#85df5d"/><stop offset="54.65%" stop-color="#a7db49"/><stop offset="59.3%" stop-color="#c4ca3a"/><stop offset="99.61%" stop-color="#c6c939"/></linearGradient>
<linearGradient id="a39"><stop offset="0.39%" stop-color="#11ace5"/><stop offset="4.26%" stop-color="#11b0e1"/><stop offset="6.59%" stop-color="#13c9b4"/><stop offset="7.36%" stop-color="#25d19c"/><stop offset="8.91%" stop-color="#70de69"/><stop offset="9.69%" stop-color="#8adf5a"/><stop offset="11.24%" stop-color="#9cdd50"/><stop offset="14.34%" stop-color="#a4dc4b"/><stop offset="15.89%" stop-color="#93de55"/><stop offset="16.67%" stop-color="#80e060"/><stop offset="18.22%" stop-color="#37d68e"/><stop offset="18.99%" stop-color="#29d299"/><stop offset="19.77%" stop-color="#3ed888"/><stop offset="21.32%" stop-color="#8bdf59"/><stop offset="22.87%" stop-color="#a7db4a"/><stop offset="32.95%" stop-color="#a8db49"/><stop offset="33.72%" stop-color="#d8c030"/><stop offset="34.5%" stop-color="#fc9e05"/><stop offset="48.45%" stop-color="#f9a40a"/><stop offset="49.22%" stop-color="#e3b928"/><stop offset="50%" stop-color="#10bdce"/><stop offset="50.78%" stop-color="#1898f0"/><stop offset="51.55%" stop-color="#10c5c0"/><stop offset="52.33%" stop-color="#62dd71"/><stop offset="53.1%" stop-color="#90de57"/><stop offset="55.43%" stop-color="#b2d443"/><stop offset="60.08%" stop-color="#c7c838"/><stop offset="99.61%" stop-color="#c8c838"/></linearGradient>
<linearGradient id="a40"><stop offset="0.39%" stop-color="#11ace5"/><stop offset="4.26%" stop-color="#11b0e1"/><stop offset="6.59%" stop-color="#13c9b4"/><stop offset="7.36%" stop-color="#25d19c"/><stop offset="8.91%" stop-color="#70de69"/><stop offset="9.69%" stop-color="#8adf5a"/><stop offset="11.24%" stop-color="#9cdd50"/><stop offset="14.34%" stop-color="#a4dc4b"/><stop offset="15.89%" stop-color="#93de55"/><stop offset="16.67%" stop-color="#7fe060"/><stop offset="18.22%" stop-color="#32d591"/><stop offset="18.99%" stop-color="#24d19d"/><stop offset="19.77%" stop-color="#3ad68b"/><stop offset="21.32%" stop-color="#8adf5a"/><stop offset="22.87%" stop-color="#a6dc4a"/><stop offset="30.62%" stop-color="#9fdd4e"/><stop offset="31.4%" stop-color="#9cdd50"/><stop offset="32.17%" stop-color="#bdcd3d"/><stop offset="32.95%" stop-color="#fc9e05"/><stop offset="48.45%" stop-color="#f9a409"/><stop offset="49.22%" stop-color="#e0bb2a"/><stop offset="50%" stop-color="#10bad4"/><stop offset="50.78%" stop-color="#14a4ec"/><stop offset="51.55%" stop-color="#2ad398"/><stop offset="52.33%" stop-color="#82e05f"/><stop offset="53.88%" stop-color="#a7db49"/><stop offset="58.53%" stop-color="#c7c838"/><stop offset="99.61%" stop-color="#cac737"/></linearGradient>
<linearGradient id="a41"><stop offset="0.39%" stop-color="#11ace5"/><stop offset="4.26%" stop-color="#11b0e1"/><stop offset="6.59%" stop-color="#13c9b4"/><stop offset="7.36%" stop-color="#25d19c"/><stop offset="8.91%" stop-color="#70de69"/><stop offset="9.69%" stop-color="#8adf5a"/><stop offset="11.24%" stop-color="#9cdd50"/><stop offset="14.34%" stop-color="#a4dc4b"/><stop offset="15.89%" stop-color="#93de55"/><stop offset="16.67%" stop-color="#7ee061"/><stop offset="18.22%" stop-color="#2ed395"/><stop offset="18.99%" stop-color="#1fd0a1"/><stop offset="19.77%" stop-color="#35d58f"/><stop offset="21.32%" stop-color="#89df5b"/><stop offset="22.87%" stop-color="#a5dc4a"/><stop offset="28.29%" stop-color="#9add51"/><stop offset="29.84%" stop-color="#8bdf59"/><stop offset="30.62%" stop-color="#aad948"/><stop offset="31.4%" stop-color="#fb9f06"/><stop offset="48.45%" stop-color="#f9a409"/><stop offset="49.22%" stop-color="#ddbd2d"/><stop offset="50%" stop-color="#10b9d5"/><stop offset="50.78%" stop-color="#10b8d6"/><stop offset="51.55%" stop-color="#6bde6c"/><stop offset="52.33%" stop-color="#93de55"/><stop offset="54.65%" stop-color="#b2d443"/><stop offset="59.3%" stop-color="#cbc737"/><stop offset="99.61%" stop-color="#ccc636"/></linearGradient>
<linearGradient id="a42"><stop offset="0.39%" stop-color="#11ace5"/><stop offset="4.26%" stop-color="#11b0e1"/><stop offset="6.59%" stop-color="#13c9b4"/><stop offset="7.36%" stop-color="#25d19c"/><stop offset="8.91%" stop-color="#70de69"/><stop offset="9.69%" stop-color="#8adf5a"/><stop offset="11.24%" stop-color="#9bdd50"/><stop offset="14.34%" stop-color="#a4dc4b"/><stop offset="15.89%" stop-color="#92de56"/><stop offset="16.67%" stop-color="#7ce062"/><stop offset="18.22%" stop-color="#29d299"/><stop offset="18.99%" stop-color="#1ecfa4"/><stop offset="19.77%" stop-color="#30d493"/><stop offset="21.32%" stop-color="#86df5c"/><stop offset="22.87%" stop-color="#a2dc4d"/><stop offset="26.74%" stop-color="#91de56"/><stop offset="28.29%" stop-color="#78df64"/><stop offset="29.07%" stop-color="#91de56"/><stop offset="29.84%" stop-color="#faa208"/><stop offset="48.45%" stop-color="#f9a409"/><stop offset="49.22%" stop-color="#d6c131"/><stop offset="50%" stop-color="#10bcd1"/><stop offset="50.78%" stop-color="#12c9b5"/><stop offset="51.55%" stop-color="#8fde57"/><stop offset="53.1%" stop-color="#aad948"/><stop offset="58.53%" stop-color="#ccc636"/><stop offset="99.61%" stop-color="#cec535"/></linearGradient>
<linearGradient id="a43"><stop offset="0.39%" stop-color="#11ace5"/><stop offset="4.26%" stop-color="#11b0e1"/><stop offset="6.59%" stop-color="#13c9b4"/><stop offset="7.36%" stop-color="#25d19c"/><stop offset="8.91%" stop-color="#70de69"/><stop offset="9.69%" stop-color="#8adf5a"/><stop offset="11.24%" stop-color="#9bdd50"/><stop offset="14.34%" stop-color="#a3dc4c"/><stop offset="15.89%" stop-color="#91de56"/><stop offset="16.67%" stop-color="#7adf64"/><stop offset="18.22%" stop-color="#23d19d"/><stop offset="18.99%" stop-color="#1ccea7"/><stop offset="19.77%" stop-color="#2ad398"/><stop offset="21.32%" stop-color="#82e05f"/><stop offset="22.87%" stop-color="#99dd51"/><stop offset="25.19%" stop-color="#89df5b"/><stop offset="26.74%" stop-color="#62dd71"/><stop offset="27.52%" stop-color="#74df67"/><stop offset="28.29%" stop-color="#f8a50b"/><stop offset="48.45%" stop-color="#f9a40a"/><stop offset="49.22%" stop-color="#ccc636"/><stop offset="50%" stop-color="#10c3c6"/><stop offset="50.78%" stop-color="#4ada7f"/><stop offset="51.55%" stop-color="#a2dc4c"/><stop offset="57.75%" stop-color="#cdc535"/><stop offset="99.61%" stop-color="#d0c434"/></linearGradient>
<linearGradient id="a44"><stop offset="0.39%" stop-color="#11ace5"/><stop offset="4.26%" stop-color="#11b0e1"/><stop offset="6.59%" stop-color="#13c9b4"/><stop offset="7.36%" stop-color="#25d19c"/><stop offset="8.91%" stop-color="#70de69"/><stop offset="9.69%" stop-color="#8adf5a"/><stop offset="11.24%" stop-color="#9bdd50"/><stop offset="14.34%" stop-color="#a3dc4c"/><stop offset="15.89%" stop-color="#90de57"/><stop offset="16.67%" stop-color="#77df65"/><stop offset="18.22%" stop-color="#1fd0a1"/><stop offset="18.99%" stop-color="#19cdaa"/><stop offset="19.77%" stop-color="#23d19e"/><stop offset="20.54%" stop-color="#50db7b"/><stop offset="21.32%" stop-color="#77df65"/><stop offset="22.09%" stop-color="#87df5c"/><stop offset="23.64%" stop-color="#82e05f"/><stop offset="25.19%" stop-color="#52db7b"/><stop offset="25.97%" stop-color="#58dc77"/><stop offset="26.74%" stop-color="#f7a90e"/><stop offset="28.29%" stop-color="#faa309"/><stop offset="48.45%" stop-color="#f9a50a"/><stop offset="49.22%" stop-color="#c4ca3a"/><stop offset="50%" stop-color="#19ccab"/><stop offset="50.78%" stop-color="#8ddf59"/><stop offset="51.55%" stop-color="#acd847"/><stop offset="57.75%" stop-color="#d0c434"/><stop offset="99.61%" stop-color="#d2c333"/></linearGradient>
<linearGradient id="a45"><stop offset="0.39%" stop-color="#11ace5"/><stop offset="4.26%" stop-color="#11b0e1"/><stop offset="6.59%" stop-color="#13c9b4"/><stop offset="7.36%" stop-color="#25d19c"/><stop offset="8.91%" stop-color="#70de69"/><stop offset="9.69%" stop-color="#89df5b"/><stop offset="11.24%" stop-color="#9bdd50"/><stop offset="14.34%" stop-color="#a2dc4c"/><stop offset="15.89%" stop-color="#8edf58"/><stop offset="16.67%" stop-color="#72df68"/><stop offset="18.22%" stop-color="#1dcea5"/><stop offset="18.99%" stop-color="#17cbae"/><stop offset="19.77%" stop-color="#1ecfa3"/><stop offset="20.54%" stop-color="#43d984"/><stop offset="21.32%" stop-color="#63dd70"/><stop offset="22.09%" stop-color="#6dde6b"/><stop offset="22.87%" stop-color="#63dd70"/><stop offset="23.64%" stop-color="#48da80"/><stop offset="24.42%" stop-color="#48da80"/><stop offset="25.19%" stop-color="#f3ae13"/><stop offset="25.97%" stop-color="#faa308"/><stop offset="48.45%" stop-color="#f8a50b"/><stop offset="49.22%" stop-color="#c1cc3c"/><stop offset="50%" stop-color="#51db7b"/><stop offset="50.78%" stop-color="#aed746"/><stop offset="57.75%" stop-color="#d2c333"/><stop offset="99.61%" stop-color="#d4c232"/></linearGradient>
<linearGradient id="a46"><stop offset="0.39%" stop-color="#11ace5"/><stop offset="4.26%" stop-color="#11b0e1"/><stop offset="6.59%" stop-color="#13c9b4"/><stop offset="7.36%" stop-color="#25d19c"/><stop offset="8.91%" stop-color="#6fde69"/><stop offset="9.69%" stop-color="#89df5b"/><stop offset="11.24%" stop-color="#9add51"/><stop offset="14.34%" stop-color="#a0dd4e"/><stop offset="15.89%" stop-color="#8bdf5a"/><stop offset="16.67%" stop-color="#6dde6b"/><stop offset="18.22%" stop-color="#1bcda8"/><stop offset="18.99%" stop-color="#15cab1"/><stop offset="19.77%" stop-color="#1bcda8"/><stop offset="21.32%" stop-color="#43d984"/><stop offset="22.87%" stop-color="#40d887"/><stop offset="23.64%" stop-color="#ecb321"/><stop offset="24.42%" stop-color="#f8a50b"/><stop offset="25.97%" stop-color="#f6aa0e"/><stop offset="39.15%" stop-color="#faa208"/><stop offset="48.45%" stop-color="#f8a60b"/><stop offset="49.22%" stop-color="#c4ca3a"/><stop offset="50%" stop-color="#95de54"/><stop offset="50.78%" stop-color="#c1cc3c"/><stop offset="51.55%" stop-color="#b8d040"/><stop offset="57.75%" stop-color="#d5c232"/><stop offset="99.61%" stop-color="#d6c131"/></linearGradient>
<linearGradient id="a47"><stop offset="0.39%" stop-color="#11ace5"/><stop offset="4.26%" stop-color="#11b0e1"/><stop offset="6.59%" stop-color="#13c9b4"/><stop offset="7.36%" stop-color="#25d19c"/><stop offset="8.91%" stop-color="#6fde6a"/><stop offset="9.69%" stop-color="#89df5b"/><stop offset="11.24%" stop-color="#9add51"/><stop offset="14.34%" stop-color="#9ddd4f"/><stop offset="15.89%" stop-color="#86df5d"/><stop offset="16.67%" stop-color="#65dd70"/><stop offset="17.44%" stop-color="#37d68e"/><stop offset="18.22%" stop-color="#19ccab"/><stop offset="18.99%" stop-color="#12c9b5"/><stop offset="20.54%" stop-color="#1bcea7"/><stop offset="21.32%" stop-color="#2cd396"/><stop offset="22.09%" stop-color="#d8c030"/><stop offset="22.87%" stop-color="#f6a90e"/><stop offset="23.64%" stop-color="#efb11b"/><stop offset="29.84%" stop-color="#faa208"/><stop offset="48.45%" stop-color="#f8a60b"/><stop offset="49.22%" stop-color="#cdc535"/><stop offset="50%" stop-color="#b7d040"/><stop offset="50.78%" stop-color="#d1c434"/><stop offset="51.55%" stop-color="#c1cb3b"/><stop offset="58.53%" stop-color="#d8c030"/><stop offset="99.61%" stop-color="#d8c030"/></linearGradient>
<linearGradient id="a48"><stop offset="0.39%" stop-color="#11ace5"/><stop offset="4.26%" stop-color="#11b0e1"/><stop offset="6.59%" stop-color="#13c9b4"/><stop offset="7.36%" stop-color="#25d19c"/><stop offset="8.91%" stop-color="#6ede6a"/><stop offset="9.69%" stop-color="#88df5b"/><stop offset="11.24%" stop-color="#98dd52"/><stop offset="14.34%" stop-color="#97de53"/><stop offset="15.89%" stop-color="#7bdf63"/><stop offset="16.67%" stop-color="#55db79"/><stop offset="17.44%" stop-color="#27d29a"/><stop offset="18.22%" stop-color="#14cab2"/><stop offset="18.99%" stop-color="#10c7bc"/><stop offset="19.77%" stop-color="#18ccad"/><stop offset="20.54%" stop-color="#bbce3e"/><stop offset="21.32%" stop-color="#f1af17"/><stop offset="22.09%" stop-color="#e2b928"/><stop offset="27.52%" stop-color="#f9a50a"/><stop offset="48.45%" stop-color="#f8a60b"/><stop offset="49.22%" stop-color="#dcbe2d"/><stop offset="50.78%" stop-color="#dabf2f"/><stop offset="51.55%" stop-color="#cac737"/><stop offset="60.08%" stop-color="#dabf2f"/><stop offset="99.61%" stop-color="#dabf2f"/></linearGradient>
<linearGradient id="a49"><stop offset="0.39%" stop-color="#11ace5"/><stop offset="4.26%" stop-color="#11b0e1"/><stop offset="6.59%" stop-color="#13c9b4"/><stop offset="7.36%" stop-color="#24d19d"/><stop offset="8.91%" stop-color="#6dde6b"/><stop offset="9.69%" stop-color="#86df5c"/><stop offset="11.24%" stop-color="#95de54"/><stop offset="14.34%" stop-color="#8cdf59"/><stop offset="15.12%" stop-color="#7fe061"/><stop offset="15.89%" stop-color="#61dd72"/><stop offset="17.44%" stop-color="#19ccab"/><stop offset="18.22%" stop-color="#15cbb0"/><stop offset="18.99%" stop-color="#a4dc4b"/><stop offset="19.77%" stop-color="#dfbc2b"/><stop offset="20.54%" stop-color="#cbc636"/><stop offset="23.64%" stop-color="#eeb21d"/><stop offset="29.07%" stop-color="#faa208"/><stop offset="48.45%" stop-color="#f8a60b"/><stop offset="49.22%" stop-color="#ecb321"/><stop offset="50%" stop-color="#edb21f"/><stop offset="51.55%" stop-color="#d2c333"/><stop offset="67.83%" stop-color="#dbbe2d"/><stop offset="99.61%" stop-color="#dbbe2d"/></linearGradient>
<linearGradient id="a50"><stop offset="0.39%" stop-color="#11ace5"/><stop offset="4.26%" stop-color="#11b0e1"/><stop offset="6.59%" stop-color="#12c9b4"/><stop offset="7.36%" stop-color="#24d19d"/><stop offset="8.91%" stop-color="#6ade6c"/><stop offset="9.69%" stop-color="#84e05e"/><stop offset="11.24%" stop-color="#8fde57"/><stop offset="13.57%" stop-color="#83e05e"/><stop offset="14.34%" stop-color="#74df67"/><stop offset="15.89%" stop-color="#32d492"/><stop offset="16.67%" stop-color="#1dcfa4"/><stop offset="17.44%" stop-color="#81e060"/><stop offset="18.22%" stop-color="#c0cc3c"/><stop offset="18.99%" stop-color="#aed746"/><stop offset="22.87%" stop-color="#eab523"/><stop offset="27.52%" stop-color="#f9a50a"/><stop offset="48.45%" stop-color="#f8a50a"/><stop offset="50%" stop-color="#f3ae14"/><stop offset="50.78%" stop-color="#e0bb2a"/><stop offset="52.33%" stop-color="#d8c030"/><stop offset="99.61%" stop-color="#ddbd2d"/></linearGradient>
<linearGradient id="a51"><stop offset="0.39%" stop-color="#11ace5"/><stop offset="4.26%" stop-color="#11b0e1"/><stop offset="6.59%" stop-color="#12c9b5"/><stop offset="7.36%" stop-color="#22d19e"/><stop offset="8.91%" stop-color="#66dd6f"/><stop offset="9.69%" stop-color="#7ee061"/><stop offset="11.24%" stop-color="#85e05d"/><stop offset="12.79%" stop-color="#71de68"/><stop offset="14.34%" stop-color="#3dd789"/><stop offset="15.12%" stop-color="#21d09f"/><stop offset="16.67%" stop-color="#7fe061"/><stop offset="17.44%" stop-color="#a8da49"/><stop offset="18.22%" stop-color="#b5d242"/><stop offset="18.99%" stop-color="#add846"/><stop offset="22.87%" stop-color="#eab523"/><stop offset="27.52%" stop-color="#f9a50a"/><stop offset="49.22%" stop-color="#f7a70c"/><stop offset="50%" stop-color="#f5ac10"/><stop offset="50.78%" stop-color="#e0bb2a"/><stop offset="99.61%" stop-color="#debc2c"/></linearGradient>
<linearGradient id="a52"><stop offset="0.39%" stop-color="#11ace5"/><stop offset="4.26%" stop-color="#11b0e1"/><stop offset="6.59%" stop-color="#12c9b5"/><stop offset="7.36%" stop-color="#20d0a0"/><stop offset="8.91%" stop-color="#5ddc74"/><stop offset="9.69%" stop-color="#70de69"/><stop offset="10.47%" stop-color="#75df66"/><stop offset="12.02%" stop-color="#56dc78"/><stop offset="13.57%" stop-color="#1ecfa3"/><stop offset="14.34%" stop-color="#1ecfa3"/><stop offset="15.12%" stop-color="#10c4c3"/><stop offset="15.89%" stop-color="#1ccea6"/><stop offset="16.67%" stop-color="#aed746"/><stop offset="17.44%" stop-color="#c1cb3b"/><stop offset="18.99%" stop-color="#add846"/><stop offset="22.87%" stop-color="#eab523"/><stop offset="27.52%" stop-color="#f9a50a"/><stop offset="49.22%" stop-color="#f9a309"/><stop offset="50%" stop-color="#f5ac10"/><stop offset="50.78%" stop-color="#e0bb2a"/><stop offset="99.61%" stop-color="#dfbc2b"/></linearGradient>
<linearGradient id="a53"><stop offset="0.39%" stop-color="#11ace5"/><stop offset="4.26%" stop-color="#11b1e0"/><stop offset="6.59%" stop-color="#11c9b6"/><stop offset="8.14%" stop-color="#37d68e"/><stop offset="8.91%" stop-color="#4cda7e"/><stop offset="9.69%" stop-color="#55db78"/><stop offset="10.47%" stop-color="#4ddb7d"/><stop offset="12.02%" stop-color="#1bcda8"/><stop offset="12.79%" stop-color="#10c7ba"/><stop offset="13.57%" stop-color="#10b7d9"/><stop offset="14.34%" stop-color="#10b4dc"/><stop offset="15.12%" stop-color="#1ecfa3"/><stop offset="15.89%" stop-color="#b6d241"/><stop offset="16.67%" stop-color="#cac737"/><stop offset="18.99%" stop-color="#add846"/><stop offset="22.87%" stop-color="#eab523"/><stop offset="27.52%" stop-color="#f9a50a"/><stop offset="49.22%" stop-color="#faa208"/><stop offset="50%" stop-color="#f3ad13"/><stop offset="50.78%" stop-color="#e0bb2a"/><stop offset="99.61%" stop-color="#e0bb2a"/></linearGradient>
<linearGradient id="a54"><stop offset="0.39%" stop-color="#11ace5"/><stop offset="4.26%" stop-color="#11b1df"/><stop offset="6.59%" stop-color="#10c8b8"/><stop offset="8.91%" stop-color="#2dd396"/><stop offset="10.47%" stop-color="#17cbae"/><stop offset="12.02%" stop-color="#10b4dc"/><stop offset="13.57%" stop-color="#10b7d8"/><stop offset="14.34%" stop-color="#45d982"/><stop offset="15.12%" stop-color="#c0cc3c"/><stop offset="16.67%" stop-color="#cac737"/><stop offset="18.99%" stop-color="#add846"/><stop offset="22.87%" stop-color="#eab523"/><stop offset="27.52%" stop-color="#f9a50a"/><stop offset="49.22%" stop-color="#faa309"/><stop offset="50.78%" stop-color="#e1bb2a"/><stop offset="99.61%" stop-color="#e1bb2a"/></linearGradient>
<linearGradient id="a55"><stop offset="0.39%" stop-color="#11ade5"/><stop offset="4.26%" stop-color="#11b2de"/><stop offset="7.36%" stop-color="#15cbb0"/><stop offset="8.91%" stop-color="#12c9b5"/><stop offset="9.69%" stop-color="#10b4dc"/><stop offset="12.02%" stop-color="#10b4dc"/><stop offset="12.79%" stop-color="#10bbd2"/><stop offset="13.57%" stop-color="#6ede6a"/><stop offset="14.34%" stop-color="#c5ca3a"/><stop offset="16.67%" stop-color="#cac737"/><stop offset="18.99%" stop-color="#add846"/><stop offset="22.87%" stop-color="#eab523"/><stop offset="27.52%" stop-color="#f9a50a"/><stop offset="49.22%" stop-color="#f9a409"/><stop offset="50.78%" stop-color="#e2ba29"/><stop offset="99.61%" stop-color="#e2ba29"/></linearGradient>
<linearGradient id="a56"><stop offset="0.39%" stop-color="#11ade4"/><stop offset="4.26%" stop-color="#10b3dd"/><stop offset="7.36%" stop-color="#10c8b9"/><stop offset="8.14%" stop-color="#10b4dc"/><stop offset="11.24%" stop-color="#10b4dc"/><stop offset="12.02%" stop-color="#10c1c8"/><stop offset="12.79%" stop-color="#8ddf58"/><stop offset="13.57%" stop-color="#c3cb3b"/><stop offset="16.67%" stop-color="#cac737"/><stop offset="18.99%" stop-color="#add846"/><stop offset="22.87%" stop-color="#eab523"/><stop offset="27.52%" stop-color="#f9a50a"/><stop offset="49.22%" stop-color="#f8a50b"/><stop offset="50.78%" stop-color="#e3b928"/><stop offset="99.61%" stop-color="#e3b928"/></linearGradient>
<linearGradient id="a57"><stop offset="0.39%" stop-color="#11ade4"/><stop offset="4.26%" stop-color="#10b4dc"/><stop offset="5.81%" stop-color="#10c1c8"/><stop offset="6.59%" stop-color="#10b4dc"/><stop offset="10.47%" stop-color="#10b4dc"/><stop offset="11.24%" stop-color="#10c7ba"/><stop offset="12.02%" stop-color="#a3dc4c"/><stop offset="12.79%" stop-color="#c0cc3c"/><stop offset="16.67%" stop-color="#cac737"/><stop offset="18.99%" stop-color="#add846"/><stop offset="22.87%" stop-color="#eab523"/><stop offset="27.52%" stop-color="#f9a50a"/><stop offset="49.22%" stop-color="#f8a70c"/><stop offset="50%" stop-color="#ebb421"/><stop offset="53.1%" stop-color="#e4b927"/><stop offset="99.61%" stop-color="#e4b927"/></linearGradient>
<linearGradient id="a58"><stop offset="0.39%" stop-color="#11ade5"/><stop offset="9.69%" stop-color="#10b4dc"/><stop offset="10.47%" stop-color="#1ccea6"/><stop offset="11.24%" stop-color="#aed746"/><stop offset="12.79%" stop-color="#c0cc3c"/><stop offset="16.67%" stop-color="#cac737"/><stop offset="18.99%" stop-color="#add846"/><stop offset="22.87%" stop-color="#eab523"/><stop offset="27.52%" stop-color="#f9a50a"/><stop offset="48.45%" stop-color="#faa208"/><stop offset="49.22%" stop-color="#f7a90d"/><stop offset="50%" stop-color="#e9b523"/><stop offset="99.61%" stop-color="#e5b827"/></linearGradient>
<linearGradient id="a59"><stop offset="0.39%" stop-color="#11ace5"/><stop offset="8.91%" stop-color="#10b7d8"/><stop offset="9.69%" stop-color="#3dd789"/><stop offset="10.47%" stop-color="#b4d342"/><stop offset="16.67%" stop-color="#cac737"/><stop offset="18.99%" stop-color="#add846"/><stop offset="22.87%" stop-color="#eab523"/><stop offset="27.52%" stop-color="#f9a50a"/><stop offset="48.45%" stop-color="#faa208"/><stop offset="49.22%" stop-color="#f6aa0f"/><stop offset="50%" stop-color="#e7b625"/><stop offset="99.61%" stop-color="#e6b726"/></linearGradient>
<linearGradient id="a60"><stop offset="0.39%" stop-color="#11ace5"/><stop offset="5.04%" stop-color="#10b4dc"/><stop offset="7.36%" stop-color="#10b4dc"/><stop offset="8.14%" stop-color="#10bcd1"/><stop offset="8.91%" stop-color="#67dd6e"/><stop offset="9.69%" stop-color="#b8d040"/><stop offset="16.67%" stop-color="#cac737"/><stop offset="18.99%" stop-color="#add846"/><stop offset="22.87%" stop-color="#eab523"/><stop offset="27.52%" stop-color="#f9a50a"/><stop offset="48.45%" stop-color="#faa208"/><stop offset="49.22%" stop-color="#f5ac10"/><stop offset="50%" stop-color="#e7b725"/><stop offset="99.61%" stop-color="#e7b725"/></linearGradient>
<linearGradient id="a61"><stop offset="0.39%" stop-color="#11ace5"/><stop offset="2.71%" stop-color="#10b4dc"/><stop offset="7.36%" stop-color="#10b7d8"/><stop offset="8.14%" stop-color="#3ad78b"/><stop offset="8.91%" stop-color="#b4d342"/><stop offset="16.67%" stop-color="#cac737"/><stop offset="18.99%" stop-color="#add846"/><stop offset="22.87%" stop-color="#eab523"/><stop offset="27.52%" stop-color="#f9a50a"/><stop offset="48.45%" stop-color="#faa208"/><stop offset="50%" stop-color="#e7b625"/><stop offset="99.61%" stop-color="#e7b625"/></linearGradient>
<linearGradient id="b0"><stop offset="0.39%" stop-color="#1dcea5"/><stop offset="1.94%" stop-color="#10c3c6"/><stop offset="6.59%" stop-color="#11aee3"/><stop offset="15.89%" stop-color="#13a4eb"/><stop offset="60.08%" stop-color="#11ade5"/><stop offset="67.05%" stop-color="#10c4c4"/><stop offset="70.16%" stop-color="#10bece"/><stop offset="70.93%" stop-color="#13a6eb"/><stop offset="71.71%" stop-color="#12aae7"/><stop offset="72.48%" stop-color="#ff8a00"/><stop offset="99.61%" stop-color="#ff8a00"/></linearGradient>
<linearGradient id="b1"><stop offset="0.39%" stop-color="#1dcea5"/><stop offset="1.94%" stop-color="#10c3c6"/><stop offset="6.59%" stop-color="#11aee3"/><stop offset="15.89%" stop-color="#13a4eb"/><stop offset="59.3%" stop-color="#12abe6"/><stop offset="67.05%" stop-color="#10c4c4"/><stop offset="70.16%" stop-color="#10bcd0"/><stop offset="70.93%" stop-color="#13a6eb"/><stop offset="71.71%" stop-color="#8adf5a"/><stop offset="72.48%" stop-color="#ff8a00"/><stop offset="99.61%" stop-color="#ff8a00"/></linearGradient>
<linearGradient id="b2"><stop offset="0.39%" stop-color="#1dcea5"/><stop offset="1.94%" stop-color="#10c3c6"/><stop offset="6.59%" stop-color="#11aee3"/><stop offset="15.89%" stop-color="#13a4eb"/><stop offset="59.3%" stop-color="#11ace5"/><stop offset="67.05%" stop-color="#10c4c4"/><stop offset="69.38%" stop-color="#10becd"/><stop offset="70.16%" stop-color="#13a6eb"/><stop offset="70.93%" stop-color="#13a6eb"/><stop offset="71.71%" stop-color="#ff9400"/><stop offset="73.26%" stop-color="#ff8b00"/><stop offset="99.61%" stop-color="#ff8b00"/></linearGradient>
<linearGradient id="b3"><stop offset="0.39%" stop-color="#1dcea5"/><stop offset="1.94%" stop-color="#10c3c6"/><stop offset="6.59%" stop-color="#11aee3"/><stop offset="15.89%" stop-color="#13a4eb"/><stop offset="58.53%" stop-color="#12abe6"/><stop offset="66.28%" stop-color="#10c4c4"/><stop offset="69.38%" stop-color="#10bdd0"/><stop offset="70.16%" stop-color="#13a6eb"/><stop offset="70.93%" stop-color="#62dd71"/><stop offset="71.71%" stop-color="#ff8b00"/><stop offset="99.61%" stop-color="#ff8b00"/></linearGradient>
<linearGradient id="b4"><stop offset="0.39%" stop-color="#1dcea5"/><stop offset="1.94%" stop-color="#10c3c6"/><stop offset="6.59%" stop-color="#11aee3"/><stop offset="15.89%" stop-color="#13a4eb"/><stop offset="58.53%" stop-color="#11ade5"/><stop offset="65.5%" stop-color="#10c4c4"/><stop offset="68.6%" stop-color="#10bece"/><stop offset="69.38%" stop-color="#13a6eb"/><stop offset="70.16%" stop-color="#12a7ea"/><stop offset="70.93%" stop-color="#ff9300"/><stop offset="74.81%" stop-color="#ff8c00"/><stop offset="99.61%" stop-color="#ff8c00"/></linearGradient>
<linearGradient id="b5"><stop offset="0.39%" stop-color="#1dcea5"/><stop offset="1.94%" stop-color="#10c3c6"/><stop offset="6.59%" stop-color="#11aee3"/><stop offset="15.89%" stop-color="#13a4eb"/><stop offset="57.75%" stop-color="#11ace6"/><stop offset="65.5%" stop-color="#10c4c4"/><stop offset="68.6%" stop-color="#10bcd0"/><stop offset="69.38%" stop-color="#13a6eb"/><stop offset="70.16%" stop-color="#b2d444"/><stop offset="70.93%" stop-color="#ff8d00"/><stop offset="99.61%" stop-color="#ff8d00"/></linearGradient>
<linearGradient id="b6"><stop offset="0.39%" stop-color="#1dcea5"/><stop offset="1.94%" stop-color="#10c3c6"/><stop offset="6.59%" stop-color="#11aee3"/><stop offset="15.89%" stop-color="#13a4eb"/><stop offset="57.75%" stop-color="#11ade4"/><stop offset="64.73%" stop-color="#10c4c4"/><stop offset="67.83%" stop-color="#10bdcf"/><stop offset="68.6%" stop-color="#13a6eb"/><stop offset="69.38%" stop-color="#10becd"/><stop offset="70.16%" stop-color="#ff8e00"/><stop offset="99.61%" stop-color="#ff8e00"/></linearGradient>
<linearGradient id="b7"><stop offset="0.39%" stop-color="#1dcea5"/><stop offset="1.94%" stop-color="#10c3c6"/><stop offset="6.59%" stop-color="#11aee3"/><stop offset="15.89%" stop-color="#13a4eb"/><stop offset="56.98%" stop-color="#11ace5"/><stop offset="64.73%" stop-color="#10c4c4"/><stop offset="67.05%" stop-color="#10becd"/><stop offset="67.83%" stop-color="#13a6eb"/><stop offset="68.6%" stop-color="#13a6eb"/><stop offset="69.38%" stop-color="#faa107"/><stop offset="70.16%" stop-color="#ff8f00"/><stop offset="99.61%" stop-color="#ff8f00"/></linearGradient>
<linearGradient id="b8"><stop offset="0.39%" stop-color="#1dcea5"/><stop offset="1.94%" stop-color="#10c3c6"/><stop offset="6.59%" stop-color="#11aee3"/><stop offset="15.89%" stop-color="#13a4eb"/><stop offset="56.2%" stop-color="#11ace6"/><stop offset="63.95%" stop-color="#10c4c4"/><stop offset="67.05%" stop-color="#10bcd1"/><stop offset="67.83%" stop-color="#13a6eb"/><stop offset="68.6%" stop-color="#bbcf3f"/><stop offset="69.38%" stop-color="#ff9000"/><stop offset="99.61%" stop-color="#ff9000"/></linearGradient>
<linearGradient id="b9"><stop offset="0.39%" stop-color="#1dcea5"/><stop offset="1.94%" stop-color="#10c3c6"/><stop offset="6.59%" stop-color="#11aee3"/><stop offset="15.89%" stop-color="#13a4eb"/><stop offset="55.43%" stop-color="#12abe6"/><stop offset="63.18%" stop-color="#10c4c4"/><stop offset="66.28%" stop-color="#10bdd0"/><stop offset="67.05%" stop-color="#13a6eb"/><stop offset="67.83%" stop-color="#3ad68c"/><stop offset="68.6%" stop-color="#ff9200"/><stop offset="99.61%" stop-color="#ff9200"/></linearGradient>
<linearGradient id="b10"><stop offset="0.39%" stop-color="#1dcea5"/><stop offset="1.94%" stop-color="#10c3c6"/><stop offset="6.59%" stop-color="#11aee3"/><stop offset="15.89%" stop-color="#13a4eb"/><stop offset="55.43%" stop-color="#11ade4"/><stop offset="62.4%" stop-color="#10c4c4"/><stop offset="65.5%" stop-color="#10bdcf"/><stop offset="66.28%" stop-color="#13a6eb"/><stop offset="67.05%" stop-color="#10bfcb"/><stop offset="67.83%" stop-color="#ff9400"/><stop offset="99.61%" stop-color="#ff9400"/></linearGradient>
<linearGradient id="b11"><stop offset="0.39%" stop-color="#1dcea5"/><stop offset="1.94%" stop-color="#10c3c6"/><stop offset="6.59%" stop-color="#11aee3"/><stop offset="15.89%" stop-color="#13a4eb"/><stop offset="54.65%" stop-color="#11ade5"/><stop offset="61.63%" stop-color="#10c3c5"/><stop offset="64.73%" stop-color="#10bdcf"/><stop offset="65.5%" stop-color="#13a6eb"/><stop offset="66.28%" stop-color="#11b1df"/><stop offset="67.05%" stop-color="#fd9c03"/><stop offset="91.86%" stop-color="#ff9500"/><stop offset="99.61%" stop-color="#ff9500"/></linearGradient>
<linearGradient id="b12"><stop offset="0.39%" stop-color="#1dcea5"/><stop offset="1.94%" stop-color="#10c3c6"/><stop offset="6.59%" stop-color="#11aee3"/><stop offset="15.89%" stop-color="#13a4eb"/><stop offset="53.88%" stop-color="#11ace5"/><stop offset="61.63%" stop-color="#10c2c7"/><stop offset="63.95%" stop-color="#10bcd0"/><stop offset="64.73%" stop-color="#13a6eb"/><stop offset="65.5%" stop-color="#12aae7"/><stop offset="66.28%" stop-color="#f8a50a"/><stop offset="67.05%" stop-color="#ff9700"/><stop offset="99.61%" stop-color="#ff9700"/></linearGradient>
<linearGradient id="b13"><stop offset="0.39%" stop-color="#1dcea5"/><stop offset="1.94%" stop-color="#10c3c6"/><stop offset="6.59%" stop-color="#11aee3"/><stop offset="15.89%" stop-color="#13a4eb"/><stop offset="53.1%" stop-color="#11ace6"/><stop offset="60.85%" stop-color="#10c1c9"/><stop offset="63.18%" stop-color="#10bcd1"/><stop offset="63.95%" stop-color="#13a6eb"/><stop offset="64.73%" stop-color="#12a8ea"/><stop offset="65.5%" stop-color="#f5ac11"/><stop offset="66.28%" stop-color="#fe9901"/><stop offset="99.61%" stop-color="#fe9901"/></linearGradient>
<linearGradient id="b14"><stop offset="0.39%" stop-color="#1dcea5"/><stop offset="1.94%" stop-color="#10c3c6"/><stop offset="6.59%" stop-color="#11aee3"/><stop offset="15.89%" stop-color="#13a4eb"/><stop offset="53.1%" stop-color="#11aee4"/><stop offset="60.08%" stop-color="#10bfcb"/><stop offset="62.4%" stop-color="#10bad3"/><stop offset="63.18%" stop-color="#13a6eb"/><stop offset="63.95%" stop-color="#12a8ea"/><stop offset="64.73%" stop-color="#f0b019"/><stop offset="65.5%" stop-color="#fe9b02"/><stop offset="99.61%" stop-color="#fe9b02"/></linearGradient>
<linearGradient id="b15"><stop offset="0.39%" stop-color="#1dcea5"/><stop offset="1.94%" stop-color="#10c3c6"/><stop offset="6.59%" stop-color="#11aee3"/><stop offset="15.89%" stop-color="#13a4eb"/><stop offset="52.33%" stop-color="#11ade4"/><stop offset="59.3%" stop-color="#10bece"/><stop offset="61.63%" stop-color="#10b9d5"/><stop offset="62.4%" stop-color="#13a6eb"/><stop offset="63.18%" stop-color="#12a9e9"/><stop offset="63.95%" stop-color="#efb01a"/><stop offset="64.73%" stop-color="#fd9d04"/><stop offset="99.61%" stop-color="#fd9d04"/></linearGradient>
<linearGradient id="b16"><stop offset="0.39%" stop-color="#1dcea5"/><stop offset="1.94%" stop-color="#10c3c6"/><stop offset="6.59%" stop-color="#11aee3"/><stop offset="15.89%" stop-color="#13a4eb"/><stop offset="51.55%" stop-color="#11ade5"/><stop offset="58.53%" stop-color="#10bcd1"/><stop offset="60.85%" stop-color="#10b8d8"/><stop offset="61.63%" stop-color="#13a6eb"/><stop offset="62.4%" stop-color="#11ade5"/><stop offset="63.18%" stop-color="#f2ae15"/><stop offset="63.95%" stop-color="#fb9f06"/><stop offset="99.61%" stop-color="#fb9f06"/></linearGradient>
<linearGradient id="b17"><stop offset="0.39%" stop-color="#1dcea5"/><stop offset="1.94%" stop-color="#10c3c6"/><stop offset="6.59%" stop-color="#11aee3"/><stop offset="15.89%" stop-color="#13a4eb"/><stop offset="50.78%" stop-color="#11ace5"/><stop offset="57.75%" stop-color="#10bad4"/><stop offset="60.08%" stop-color="#10b6da"/><stop offset="60.85%" stop-color="#13a6eb"/><stop offset="61.63%" stop-color="#10b5dc"/><stop offset="62.4%" stop-color="#f6aa0f"/><stop offset="64.73%" stop-color="#faa208"/><stop offset="99.61%" stop-color="#faa208"/></linearGradient>
<linearGradient id="b18"><stop offset="0.39%" stop-color="#1dcea5"/><stop offset="1.94%" stop-color="#10c3c6"/><stop offset="6.59%" stop-color="#11aee3"/><stop offset="15.89%" stop-color="#13a4eb"/><stop offset="50.78%" stop-color="#11aee4"/><stop offset="57.75%" stop-color="#10b7d8"/><stop offset="59.3%" stop-color="#10b4dd"/><stop offset="60.08%" stop-color="#13a6eb"/><stop offset="60.85%" stop-color="#10c0cb"/><stop offset="61.63%" stop-color="#f8a70c"/><stop offset="99.61%" stop-color="#f9a409"/></linearGradient>
<linearGradient id="b19"><stop offset="0.39%" stop-color="#1dcea5"/><stop offset="1.94%" stop-color="#10c3c6"/><stop offset="6.59%" stop-color="#11aee3"/><stop offset="15.89%" stop-color="#13a4eb"/><stop offset="50%" stop-color="#11ade4"/><stop offset="56.98%" stop-color="#10b5dc"/><stop offset="58.53%" stop-color="#11b1df"/><stop offset="59.3%" stop-color="#13a6eb"/><stop offset="60.08%" stop-color="#1bcda8"/><stop offset="60.85%" stop-color="#f8a60b"/><stop offset="99.61%" stop-color="#f8a60b"/></linearGradient>
<linearGradient id="b20"><stop offset="0.39%" stop-color="#1dcea5"/><stop offset="1.94%" stop-color="#10c3c6"/><stop offset="6.59%" stop-color="#11aee3"/><stop offset="15.89%" stop-color="#13a4eb"/><stop offset="50%" stop-color="#11aee3"/><stop offset="57.75%" stop-color="#11afe2"/><stop offset="58.53%" stop-color="#13a6eb"/><stop offset="59.3%" stop-color="#6dde6b"/><stop offset="60.08%" stop-color="#f6aa0e"/><stop offset="99.61%" stop-color="#f6a90e"/></linearGradient>
<linearGradient id="b21"><stop offset="0.39%" stop-color="#1dcea5"/><stop offset="1.94%" stop-color="#10c3c6"/><stop offset="6.59%" stop-color="#11aee3"/><stop offset="15.89%" stop-color="#13a4eb"/><stop offset="50%" stop-color="#11aee3"/><stop offset="56.2%" stop-color="#11aee3"/><stop offset="57.75%" stop-color="#12a7ea"/><stop offset="58.53%" stop-color="#aed746"/><stop offset="59.3%" stop-color="#f4ad12"/><stop offset="99.61%" stop-color="#f4ad12"/></linearGradient>
<linearGradient id="b22"><stop offset="0.39%" stop-color="#1dcea5"/><stop offset="1.94%" stop-color="#10c3c6"/><stop offset="6.59%" stop-color="#11aee3"/><stop offset="15.89%" stop-color="#13a4eb"/><stop offset="50.78%" stop-color="#11aee3"/><stop offset="56.2%" stop-color="#13a6eb"/><stop offset="56.98%" stop-color="#10b3de"/><stop offset="57.75%" stop-color="#d5c131"/><stop offset="58.53%" stop-color="#f0b019"/><stop offset="99.61%" stop-color="#f0b019"/></linearGradient>
<linearGradient id="b23"><stop offset="0.39%" stop-color="#1dcea5"/><stop offset="1.94%" stop-color="#10c3c6"/><stop offset="6.59%" stop-color="#11aee3"/><stop offset="15.89%" stop-color="#13a4eb"/><stop offset="54.65%" stop-color="#12abe7"/><stop offset="55.43%" stop-color="#13a6eb"/><stop offset="56.2%" stop-color="#10c4c3"/><stop offset="56.98%" stop-color="#e8b624"/><stop offset="99.61%" stop-color="#ecb320"/></linearGradient>
<linearGradient id="b24"><stop offset="0.39%" stop-color="#1dcea5"/><stop offset="1.94%" stop-color="#10c3c6"/><stop offset="6.59%" stop-color="#11aee3"/><stop offset="15.89%" stop-color="#13a4eb"/><stop offset="54.65%" stop-color="#13a6eb"/><stop offset="55.43%" stop-color="#3dd789"/><stop offset="56.2%" stop-color="#e4b927"/><stop offset="99.61%" stop-color="#e5b827"/></linearGradient>
<linearGradient id="b25"><stop offset="0.39%" stop-color="#1dcea5"/><stop offset="1.94%" stop-color="#10c3c6"/><stop offset="6.59%" stop-color="#11aee3"/><stop offset="15.89%" stop-color="#13a4eb"/><stop offset="53.88%" stop-color="#12a7ea"/><stop offset="54.65%" stop-color="#88df5b"/><stop offset="55.43%" stop-color="#dbbe2e"/><stop offset="99.61%" stop-color="#dcbd2d"/></linearGradient>
<linearGradient id="b26"><stop offset="0.39%" stop-color="#1dcea5"/><stop offset="1.94%" stop-color="#10c3c6"/><stop offset="6.59%" stop-color="#11aee3"/><stop offset="15.89%" stop-color="#13a4eb"/><stop offset="52.33%" stop-color="#13a6eb"/><stop offset="53.1%" stop-color="#11ade4"/><stop offset="53.88%" stop-color="#a3dc4c"/><stop offset="54.65%" stop-color="#d0c434"/><stop offset="99.61%" stop-color="#d2c333"/></linearGradient>
<linearGradient id="b27"><stop offset="0.39%" stop-color="#1dcea5"/><stop offset="1.94%" stop-color="#10c3c6"/><stop offset="6.59%" stop-color="#11aee3"/><stop offset="15.89%" stop-color="#13a4eb"/><stop offset="51.55%" stop-color="#13a6eb"/><stop offset="52.33%" stop-color="#11b2df"/><stop offset="53.1%" stop-color="#97de53"/><stop offset="53.88%" stop-color="#c4ca3a"/><stop offset="99.61%" stop-color="#c7c838"/></linearGradient>
<linearGradient id="b28"><stop offset="0.39%" stop-color="#1dcea5"/><stop offset="1.94%" stop-color="#10c3c6"/><stop offset="6.59%" stop-color="#11aee3"/><stop offset="15.89%" stop-color="#13a4eb"/><stop offset="50.78%" stop-color="#13a6eb"/><stop offset="51.55%" stop-color="#11ade4"/><stop offset="52.33%" stop-color="#5bdc75"/><stop offset="53.1%" stop-color="#b7d040"/><stop offset="99.61%" stop-color="#bbcf3f"/></linearGradient>
<linearGradient id="b29"><stop offset="0.39%" stop-color="#1dcea5"/><stop offset="1.94%" stop-color="#10c3c6"/><stop offset="6.59%" stop-color="#11aee3"/><stop offset="15.89%" stop-color="#13a4eb"/><stop offset="50.78%" stop-color="#12a7ea"/><stop offset="51.55%" stop-color="#10c7bb"/><stop offset="52.33%" stop-color="#a3dc4c"/><stop offset="53.88%" stop-color="#afd645"/><stop offset="99.61%" stop-color="#b2d443"/></linearGradient>
<linearGradient id="b30"><stop offset="0.39%" stop-color="#1dcea5"/><stop offset="1.94%" stop-color="#10c3c6"/><stop offset="6.59%" stop-color="#11aee3"/><stop offset="15.89%" stop-color="#13a4eb"/><stop offset="50%" stop-color="#12a7ea"/><stop offset="50.78%" stop-color="#11b2de"/><stop offset="51.55%" stop-color="#37d68e"/><stop offset="52.33%" stop-color="#a8db49"/><stop offset="99.61%" stop-color="#add746"/></linearGradient>
<linearGradient id="b31"><stop offset="0.39%" stop-color="#1dcea5"/><stop offset="1.94%" stop-color="#10c3c6"/><stop offset="6.59%" stop-color="#11aee3"/><stop offset="15.89%" stop-color="#13a4eb"/><stop offset="50%" stop-color="#12a8ea"/><stop offset="50.78%" stop-color="#10bcd1"/><stop offset="51.55%" stop-color="#56db78"/><stop offset="52.33%" stop-color="#a2dc4c"/><stop offset="99.61%" stop-color="#a8da49"/></linearGradient>
<linearGradient id="b32"><stop offset="0.39%" stop-color="#1dcea5"/><stop offset="1.94%" stop-color="#10c3c6"/><stop offset="6.59%" stop-color="#11aee3"/><stop offset="15.89%" stop-color="#13a4eb"/><stop offset="50%" stop-color="#12aae7"/><stop offset="50.78%" stop-color="#10c1c8"/><stop offset="51.55%" stop-color="#5fdc73"/><stop offset="52.33%" stop-color="#99dd52"/><stop offset="99.61%" stop-color="#a3dc4c"/></linearGradient>
<linearGradient id="b33"><stop offset="0.39%" stop-color="#1dcea5"/><stop offset="1.94%" stop-color="#10c3c6"/><stop offset="6.59%" stop-color="#11aee3"/><stop offset="15.89%" stop-color="#13a4eb"/><stop offset="50%" stop-color="#11aee3"/><stop offset="50.78%" stop-color="#10c5c1"/><stop offset="51.55%" stop-color="#5fdc73"/><stop offset="52.33%" stop-color="#92de56"/><stop offset="99.61%" stop-color="#9ddd4f"/></linearGradient>
<linearGradient id="b34"><stop offset="0.39%" stop-color="#1dcea5"/><stop offset="1.94%" stop-color="#10c3c6"/><stop offset="6.59%" stop-color="#11aee3"/><stop offset="15.89%" stop-color="#13a4eb"/><stop offset="49.22%" stop-color="#12aae7"/><stop offset="50%" stop-color="#11b2df"/><stop offset="50.78%" stop-color="#10c7bc"/><stop offset="51.55%" stop-color="#59dc76"/><stop offset="52.33%" stop-color="#8adf5a"/><stop offset="99.61%" stop-color="#97de52"/></linearGradient>
<linearGradient id="b35"><stop offset="0.39%" stop-color="#1dcea5"/><stop offset="1.94%" stop-color="#10c3c6"/><stop offset="6.59%" stop-color="#11aee3"/><stop offset="15.89%" stop-color="#13a4eb"/><stop offset="49.22%" stop-color="#11ace6"/><stop offset="50%" stop-color="#10b7d8"/><stop offset="50.78%" stop-color="#10c7bb"/><stop offset="51.55%" stop-color="#40d887"/><stop offset="52.33%" stop-color="#77df65"/><stop offset="99.61%" stop-color="#8ddf58"/></linearGradient>
<linearGradient id="b36"><stop offset="0.39%" stop-color="#1dcea5"/><stop offset="1.94%" stop-color="#10c3c6"/><stop offset="6.59%" stop-color="#11aee3"/><stop offset="15.89%" stop-color="#13a4eb"/><stop offset="49.22%" stop-color="#11afe2"/><stop offset="50.78%" stop-color="#10c7bc"/><stop offset="51.55%" stop-color="#2ad398"/><stop offset="52.33%" stop-color="#5cdc75"/><stop offset="53.1%" stop-color="#6cde6b"/><stop offset="77.91%" stop-color="#77df65"/><stop offset="99.61%" stop-color="#83e05e"/></linearGradient>
<linearGradient id="b37"><stop offset="0.39%" stop-color="#1dcea5"/><stop offset="1.94%" stop-color="#10c3c6"/><stop offset="6.59%" stop-color="#11aee3"/><stop offset="15.89%" stop-color="#13a4eb"/><stop offset="48.45%" stop-color="#11ace5"/><stop offset="50%" stop-color="#10bcd1"/><stop offset="50.78%" stop-color="#10c6be"/><stop offset="51.55%" stop-color="#1ecfa4"/><stop offset="52.33%" stop-color="#44d983"/><stop offset="53.1%" stop-color="#5bdc75"/><stop offset="77.91%" stop-color="#69de6d"/><stop offset="99.61%" stop-color="#77df65"/></linearGradient>
<linearGradient id="b38"><stop offset="0.39%" stop-color="#1dcea5"/><stop offset="1.94%" stop-color="#10c3c6"/><stop offset="6.59%" stop-color="#11aee3"/><stop offset="15.89%" stop-color="#13a4eb"/><stop offset="48.45%" stop-color="#11aee3"/><stop offset="50.78%" stop-color="#10c5c1"/><stop offset="51.55%" stop-color="#18ccab"/><stop offset="53.1%" stop-color="#47da80"/><stop offset="81.78%" stop-color="#61dd72"/><stop offset="99.61%" stop-color="#6ade6c"/></linearGradient>
<linearGradient id="b39"><stop offset="0.39%" stop-color="#1dcea5"/><stop offset="1.94%" stop-color="#10c3c6"/><stop offset="6.59%" stop-color="#11aee3"/><stop offset="15.89%" stop-color="#13a4eb"/><stop offset="48.45%" stop-color="#11b0e1"/><stop offset="50.78%" stop-color="#10c4c4"/><stop offset="52.33%" stop-color="#1fcfa2"/><stop offset="53.88%" stop-color="#3fd888"/><stop offset="76.36%" stop-color="#4bda7f"/><stop offset="97.29%" stop-color="#5ddc74"/><stop offset="99.61%" stop-color="#5ddc74"/></linearGradient>
<linearGradient id="b40"><stop offset="0.39%" stop-color="#1dcea5"/><stop offset="1.94%" stop-color="#10c3c6"/><stop offset="6.59%" stop-color="#11aee3"/><stop offset="15.89%" stop-color="#13a4eb"/><stop offset="48.45%" stop-color="#11b1e0"/><stop offset="51.55%" stop-color="#10c8b8"/><stop offset="53.88%" stop-color="#30d493"/><stop offset="77.13%" stop-color="#40d886"/><stop offset="97.29%" stop-color="#52db7a"/><stop offset="99.61%" stop-color="#52db7a"/></linearGradient>
<linearGradient id="b41"><stop offset="0.39%" stop-color="#1dcea5"/><stop offset="1.94%" stop-color="#10c3c6"/><stop offset="6.59%" stop-color="#11aee3"/><stop offset="15.89%" stop-color="#13a4eb"/><stop offset="47.67%" stop-color="#11aee3"/><stop offset="51.55%" stop-color="#10c6bd"/><stop offset="54.65%" stop-color="#27d29b"/><stop offset="75.58%" stop-color="#32d492"/><stop offset="95.74%" stop-color="#47da81"/><stop offset="99.61%" stop-color="#47da81"/></linearGradient>
<linearGradient id="b42"><stop offset="0.39%" stop-color="#1dcea5"/><stop offset="1.94%" stop-color="#10c3c6"/><stop offset="6.59%" stop-color="#11aee3"/><stop offset="15.89%" stop-color="#13a4eb"/><stop offset="47.67%" stop-color="#11afe2"/><stop offset="52.33%" stop-color="#12c9b5"/><stop offset="54.65%" stop-color="#1fd0a1"/><stop offset="75.58%" stop-color="#29d299"/><stop offset="95.74%" stop-color="#3ed888"/><stop offset="99.61%" stop-color="#3ed888"/></linearGradient>
<linearGradient id="b43"><stop offset="0.39%" stop-color="#1dcea5"/><stop offset="1.94%" stop-color="#10c3c6"/><stop offset="6.59%" stop-color="#11aee3"/><stop offset="15.89%" stop-color="#13a4eb"/><stop offset="47.67%" stop-color="#11afe2"/><stop offset="53.1%" stop-color="#17cbae"/><stop offset="56.2%" stop-color="#1ecfa3"/><stop offset="77.91%" stop-color="#29d299"/><stop offset="97.29%" stop-color="#39d68c"/><stop offset="99.61%" stop-color="#39d68c"/></linearGradient>
<linearGradient id="b44"><stop offset="0.39%" stop-color="#1dcea5"/><stop offset="1.94%" stop-color="#10c3c6"/><stop offset="6.59%" stop-color="#11aee3"/><stop offset="15.89%" stop-color="#13a4eb"/><stop offset="47.67%" stop-color="#11afe2"/><stop offset="53.1%" stop-color="#15cbb0"/><stop offset="56.2%" stop-color="#1dcea5"/><stop offset="80.23%" stop-color="#28d29a"/><stop offset="99.61%" stop-color="#34d590"/></linearGradient>
<linearGradient id="b45"><stop offset="0.39%" stop-color="#1dcea5"/><stop offset="1.94%" stop-color="#10c3c6"/><stop offset="6.59%" stop-color="#11aee3"/><stop offset="15.89%" stop-color="#13a4eb"/><stop offset="39.92%" stop-color="#11ace5"/><stop offset="48.45%" stop-color="#10b3dd"/><stop offset="53.88%" stop-color="#18ccac"/><stop offset="85.66%" stop-color="#2ad398"/><stop offset="99.61%" stop-color="#2fd494"/></linearGradient>
<linearGradient id="b46"><stop offset="0.39%" stop-color="#1dcea5"/><stop offset="1.94%" stop-color="#10c3c6"/><stop offset="6.59%" stop-color="#11aee3"/><stop offset="15.89%" stop-color="#13a4eb"/><stop offset="29.84%" stop-color="#11ace5"/><stop offset="47.67%" stop-color="#11afe1"/><stop offset="53.88%" stop-color="#17cbae"/><stop offset="99.61%" stop-color="#28d299"/></linearGradient>
<linearGradient id="b47"><stop offset="0.39%" stop-color="#1dcea5"/><stop offset="1.94%" stop-color="#10c3c6"/><stop offset="6.59%" stop-color="#11aee3"/><stop offset="15.89%" stop-color="#13a4eb"/><stop offset="25.97%" stop-color="#11ade4"/><stop offset="47.67%" stop-color="#11b0e1"/><stop offset="55.43%" stop-color="#18ccab"/><stop offset="99.61%" stop-color="#22d19e"/></linearGradient>
<linearGradient id="b48"><stop offset="0.39%" stop-color="#1dcea5"/><stop offset="1.94%" stop-color="#10c3c6"/><stop offset="6.59%" stop-color="#11aee3"/><stop offset="15.89%" stop-color="#13a4eb"/><stop offset="24.42%" stop-color="#11afe2"/><stop offset="47.67%" stop-color="#11b0e1"/><stop offset="55.43%" stop-color="#17ccad"/><stop offset="99.61%" stop-color="#1ecfa2"/></linearGradient>
<linearGradient id="b49"><stop offset="0.39%" stop-color="#1dcea5"/><stop offset="1.94%" stop-color="#10c3c6"/><stop offset="6.59%" stop-color="#11aee3"/><stop offset="15.89%" stop-color="#13a4eb"/><stop offset="22.87%" stop-color="#11b0e1"/><stop offset="47.67%" stop-color="#11b0e1"/><stop offset="55.43%" stop-color="#16cbb0"/><stop offset="99.61%" stop-color="#1ccea6"/></linearGradient>
<linearGradient id="b50"><stop offset="0.39%" stop-color="#1dcea5"/><stop offset="1.94%" stop-color="#10c3c6"/><stop offset="6.59%" stop-color="#11aee3"/><stop offset="15.89%" stop-color="#13a4eb"/><stop offset="21.32%" stop-color="#11b0e1"/><stop offset="47.67%" stop-color="#11b0e1"/><stop offset="55.43%" stop-color="#14cab2"/><stop offset="99.61%" stop-color="#1acda9"/></linearGradient>
<linearGradient id="b51"><stop offset="0.39%" stop-color="#1dcea5"/><stop offset="1.94%" stop-color="#10c3c6"/><stop offset="6.59%" stop-color="#11aee3"/><stop offset="15.89%" stop-color="#13a4eb"/><stop offset="21.32%" stop-color="#11b0e1"/><stop offset="47.67%" stop-color="#11b0e1"/><stop offset="55.43%" stop-color="#13c9b4"/><stop offset="99.61%" stop-color="#18ccac"/></linearGradient>
<linearGradient id="b52"><stop offset="0.39%" stop-color="#1dcea5"/><stop offset="1.94%" stop-color="#10c3c6"/><stop offset="6.59%" stop-color="#11aee3"/><stop offset="14.34%" stop-color="#13a4eb"/><stop offset="22.87%" stop-color="#11b0e1"/><stop offset="47.67%" stop-color="#11b0e1"/><stop offset="55.43%" stop-color="#11c9b6"/><stop offset="99.61%" stop-color="#16cbb0"/></linearGradient>
<linearGradient id="b53"><stop offset="0.39%" stop-color="#1dcea5"/><stop offset="1.94%" stop-color="#10c3c6"/><stop offset="6.59%" stop-color="#11aee3"/><stop offset="12.79%" stop-color="#13a5eb"/><stop offset="24.42%" stop-color="#11afe2"/><stop offset="47.67%" stop-color="#11b0e1"/><stop offset="56.2%" stop-color="#10c8b8"/><stop offset="99.61%" stop-color="#14cab3"/></linearGradient>
<linearGradient id="b54"><stop offset="0.39%" stop-color="#1dcea5"/><stop offset="1.94%" stop-color="#10c3c6"/><stop offset="6.59%" stop-color="#11aee3"/><stop offset="11.24%" stop-color="#13a5eb"/><stop offset="25.19%" stop-color="#11aee3"/><stop offset="47.67%" stop-color="#11b0e1"/><stop offset="56.2%" stop-color="#10c7ba"/><stop offset="99.61%" stop-color="#12c9b5"/></linearGradient>
<linearGradient id="b55"><stop offset="0.39%" stop-color="#1dcea5"/><stop offset="1.94%" stop-color="#10c3c6"/><stop offset="6.59%" stop-color="#11aee3"/><stop offset="9.69%" stop-color="#13a6eb"/><stop offset="25.19%" stop-color="#11aee3"/><stop offset="47.67%" stop-color="#11b0e1"/><stop offset="56.2%" stop-color="#10c7bb"/><stop offset="99.61%" stop-color="#10c8b8"/></linearGradient>
<linearGradient id="b56"><stop offset="0.39%" stop-color="#1dcea5"/><stop offset="1.94%" stop-color="#10c3c6"/><stop offset="6.59%" stop-color="#11aee3"/><stop offset="15.89%" stop-color="#12aae8"/><stop offset="25.97%" stop-color="#11ade4"/><stop offset="47.67%" stop-color="#11b0e1"/><stop offset="56.2%" stop-color="#10c6bd"/><stop offset="99.61%" stop-color="#10c7ba"/></linearGradient>
<linearGradient id="b57"><stop offset="0.39%" stop-color="#1dcea5"/><stop offset="1.94%" stop-color="#10c3c6"/><stop offset="5.81%" stop-color="#11b1e0"/><stop offset="18.22%" stop-color="#11afe2"/><stop offset="47.67%" stop-color="#11b0e1"/><stop offset="56.98%" stop-color="#10c6be"/><stop offset="99.61%" stop-color="#10c7bc"/></linearGradient>
<linearGradient id="b58"><stop offset="0.39%" stop-color="#1dcea5"/><stop offset="1.94%" stop-color="#10c3c6"/><stop offset="4.26%" stop-color="#10b6da"/><stop offset="15.12%" stop-color="#12aae7"/><stop offset="28.29%" stop-color="#11ace5"/><stop offset="47.67%" stop-color="#11b0e1"/><stop offset="56.98%" stop-color="#10c5c0"/><stop offset="99.61%" stop-color="#10c6be"/></linearGradient>
<linearGradient id="b59"><stop offset="0.39%" stop-color="#1dcea5"/><stop offset="1.94%" stop-color="#10c3c6"/><stop offset="10.47%" stop-color="#11ace6"/><stop offset="47.67%" stop-color="#11b0e1"/><stop offset="56.98%" stop-color="#10c5c1"/><stop offset="99.61%" stop-color="#10c5c0"/></linearGradient>
<linearGradient id="b60"><stop offset="0.39%" stop-color="#1dcea5"/><stop offset="2.71%" stop-color="#10c3c5"/><stop offset="8.91%" stop-color="#11ace5"/><stop offset="47.67%" stop-color="#11b0e1"/><stop offset="56.98%" stop-color="#10c4c3"/><stop offset="99.61%" stop-color="#10c5c2"/></linearGradient>
<linearGradient id="b61"><stop offset="0.39%" stop-color="#1dcea5"/><stop offset="1.16%" stop-color="#1bcda8"/><stop offset="2.71%" stop-color="#10c3c5"/><stop offset="8.91%" stop-color="#11ace5"/><stop offset="47.67%" stop-color="#11b0e1"/><stop offset="56.98%" stop-color="#10c4c4"/><stop offset="99.61%" stop-color="#10c4c3"/></linearGradient>
<linearGradient id="d0"><stop offset="0.39%" stop-color="#1fd0a1"/><stop offset="4.26%" stop-color="#6cde6b"/><stop offset="7.36%" stop-color="#90de56"/><stop offset="12.79%" stop-color="#add746"/><stop offset="18.99%" stop-color="#a1dd4d"/><stop offset="24.42%" stop-color="#72de68"/><stop offset="30.62%" stop-color="#1fcfa2"/><stop offset="36.82%" stop-color="#10c3c5"/><stop offset="50.78%" stop-color="#12aae7"/><stop offset="59.3%" stop-color="#10bbd2"/><stop offset="62.4%" stop-color="#13cab3"/><stop offset="63.95%" stop-color="#25d19c"/><stop offset="67.83%" stop-color="#8ddf59"/><stop offset="70.16%" stop-color="#b3d343"/><stop offset="70.93%" stop-color="#11c9b6"/><stop offset="71.71%" stop-color="#61dd72"/><stop offset="72.48%" stop-color="#9edd4f"/><stop offset="74.03%" stop-color="#d4c232"/><stop offset="76.36%" stop-color="#f6aa0f"/><stop offset="89.53%" stop-color="#ff9500"/><stop offset="99.61%" stop-color="#ff9300"/></linearGradient>
<linearGradient id="d1"><stop offset="0.39%" stop-color="#1fcfa2"/><stop offset="4.26%" stop-color="#69dd6d"/><stop offset="7.36%" stop-color="#8edf58"/><stop offset="12.79%" stop-color="#abd947"/><stop offset="18.22%" stop-color="#a1dd4d"/><stop offset="23.64%" stop-color="#72de68"/><stop offset="29.84%" stop-color="#1fcfa2"/><stop offset="36.05%" stop-color="#10c4c5"/><stop offset="50.78%" stop-color="#12abe7"/><stop offset="59.3%" stop-color="#10b9d5"/><stop offset="63.18%" stop-color="#16cbaf"/><stop offset="64.73%" stop-color="#2ad398"/><stop offset="68.6%" stop-color="#8fde57"/><stop offset="70.16%" stop-color="#abd947"/><stop offset="70.93%" stop-color="#20d0a0"/><stop offset="71.71%" stop-color="#85e05d"/><stop offset="73.26%" stop-color="#c7c838"/><stop offset="74.81%" stop-color="#ecb421"/><stop offset="77.13%" stop-color="#f8a70c"/><stop offset="92.64%" stop-color="#ff9300"/><stop offset="99.61%" stop-color="#ff9300"/></linearGradient>
<linearGradient id="d2"><stop offset="0.39%" stop-color="#1ecfa3"/><stop offset="4.26%" stop-color="#64dd70"/><stop offset="7.36%" stop-color="#8adf5a"/><stop offset="12.79%" stop-color="#a9da49"/><stop offset="17.44%" stop-color="#a2dc4d"/><stop offset="23.64%" stop-color="#68dd6e"/><stop offset="29.07%" stop-color="#1fcfa2"/><stop offset="35.27%" stop-color="#10c4c4"/><stop offset="50.78%" stop-color="#12abe7"/><stop offset="59.3%" stop-color="#10b8d7"/><stop offset="63.95%" stop-color="#18ccac"/><stop offset="65.5%" stop-color="#2ed495"/><stop offset="69.38%" stop-color="#90de57"/><stop offset="70.16%" stop-color="#10c6be"/><stop offset="70.93%" stop-color="#50db7b"/><stop offset="71.71%" stop-color="#97de52"/><stop offset="73.26%" stop-color="#d1c333"/><stop offset="75.58%" stop-color="#f5ab0f"/><stop offset="87.98%" stop-color="#ff9600"/><stop offset="99.61%" stop-color="#ff9300"/></linearGradient>
<linearGradient id="d3"><stop offset="0.39%" stop-color="#1dcfa4"/><stop offset="5.04%" stop-color="#6bde6c"/><stop offset="8.91%" stop-color="#92de56"/><stop offset="14.34%" stop-color="#a8db49"/><stop offset="18.22%" stop-color="#97de53"/><stop offset="23.64%" stop-color="#60dd72"/><stop offset="28.29%" stop-color="#1fd0a1"/><stop offset="34.5%" stop-color="#10c4c3"/><stop offset="50.78%" stop-color="#12abe7"/><stop offset="59.3%" stop-color="#10b6da"/><stop offset="63.95%" stop-color="#14cab3"/><stop offset="65.5%" stop-color="#1fd0a1"/><stop offset="69.38%" stop-color="#82e05f"/><stop offset="70.16%" stop-color="#1ecfa4"/><stop offset="70.93%" stop-color="#82e05f"/><stop offset="72.48%" stop-color="#c5ca3a"/><stop offset="74.03%" stop-color="#ebb422"/><stop offset="76.36%" stop-color="#f8a70c"/><stop offset="91.86%" stop-color="#ff9300"/><stop offset="99.61%" stop-color="#ff9300"/></linearGradient>
<linearGradient id="d4"><stop offset="0.39%" stop-color="#1dcea5"/><stop offset="5.04%" stop-color="#66dd6f"/><stop offset="9.69%" stop-color="#93de55"/><stop offset="14.34%" stop-color="#a6dc4a"/><stop offset="18.99%" stop-color="#8cdf59"/><stop offset="25.19%" stop-color="#42d985"/><stop offset="28.29%" stop-color="#1dcfa4"/><stop offset="35.27%" stop-color="#10c3c6"/><stop offset="51.55%" stop-color="#11ace6"/><stop offset="60.08%" stop-color="#10b7d8"/><stop offset="64.73%" stop-color="#15cab1"/><stop offset="66.28%" stop-color="#21d09f"/><stop offset="68.6%" stop-color="#5adc76"/><stop offset="69.38%" stop-color="#10c6bd"/><stop offset="70.16%" stop-color="#53db79"/><stop offset="70.93%" stop-color="#99dd52"/><stop offset="72.48%" stop-color="#d2c333"/><stop offset="74.81%" stop-color="#f6ab0f"/><stop offset="87.21%" stop-color="#ff9600"/><stop offset="99.61%" stop-color="#ff9300"/></linearGradient>
<linearGradient id="d5"><stop offset="0.39%" stop-color="#1ccea6"/><stop offset="5.81%" stop-color="#69de6d"/><stop offset="11.24%" stop-color="#99dd52"/><stop offset="15.89%" stop-color="#9fdd4e"/><stop offset="22.09%" stop-color="#67dd6e"/><stop offset="27.52%" stop-color="#1ecfa2"/><stop offset="33.72%" stop-color="#10c4c3"/><stop offset="51.55%" stop-color="#11ace6"/><stop offset="60.08%" stop-color="#10b6da"/><stop offset="65.5%" stop-color="#15cbb0"/><stop offset="67.05%" stop-color="#22d19e"/><stop offset="68.6%" stop-color="#47da81"/><stop offset="69.38%" stop-color="#26d29b"/><stop offset="70.16%" stop-color="#87df5c"/><stop offset="71.71%" stop-color="#c9c737"/><stop offset="73.26%" stop-color="#ecb320"/><stop offset="74.81%" stop-color="#f7a90d"/><stop offset="88.76%" stop-color="#ff9400"/><stop offset="99.61%" stop-color="#ff9300"/></linearGradient>
<linearGradient id="d6"><stop offset="0.39%" stop-color="#1bcda8"/><stop offset="6.59%" stop-color="#6cde6c"/><stop offset="12.02%" stop-color="#99dd51"/><stop offset="15.89%" stop-color="#9cdd50"/><stop offset="22.09%" stop-color="#64dd70"/><stop offset="27.52%" stop-color="#1dcfa4"/><stop offset="34.5%" stop-color="#10c3c6"/><stop offset="52.33%" stop-color="#11ace5"/><stop offset="60.08%" stop-color="#10b4dc"/><stop offset="66.28%" stop-color="#16cbaf"/><stop offset="67.83%" stop-color="#23d19e"/><stop offset="68.6%" stop-color="#15cab1"/><stop offset="69.38%" stop-color="#6bde6c"/><stop offset="70.16%" stop-color="#a2dc4c"/><stop offset="71.71%" stop-color="#d6c131"/><stop offset="73.26%" stop-color="#f1b018"/><stop offset="75.58%" stop-color="#f8a50b"/><stop offset="92.64%" stop-color="#ff9300"/><stop offset="99.61%" stop-color="#ff9300"/></linearGradient>
<linearGradient id="d7"><stop offset="0.39%" stop-color="#1acda9"/><stop offset="3.49%" stop-color="#3cd789"/><stop offset="10.47%" stop-color="#8bdf5a"/><stop offset="15.12%" stop-color="#9cdd50"/><stop offset="19.77%" stop-color="#7de062"/><stop offset="25.19%" stop-color="#36d68e"/><stop offset="27.52%" stop-color="#1dcea5"/><stop offset="34.5%" stop-color="#10c3c6"/><stop offset="52.33%" stop-color="#11ace5"/><stop offset="60.08%" stop-color="#10b3de"/><stop offset="67.05%" stop-color="#16cbaf"/><stop offset="67.83%" stop-color="#1bcea7"/><stop offset="68.6%" stop-color="#48da80"/><stop offset="69.38%" stop-color="#94de54"/><stop offset="70.93%" stop-color="#d0c434"/><stop offset="73.26%" stop-color="#f5ac10"/><stop offset="86.43%" stop-color="#ff9500"/><stop offset="99.61%" stop-color="#ff9300"/></linearGradient>
<linearGradient id="d8"><stop offset="0.39%" stop-color="#18ccab"/><stop offset="2.71%" stop-color="#2bd397"/><stop offset="9.69%" stop-color="#80e060"/><stop offset="14.34%" stop-color="#9add51"/><stop offset="19.77%" stop-color="#7ce062"/><stop offset="25.19%" stop-color="#36d68e"/><stop offset="27.52%" stop-color="#1dcea5"/><stop offset="34.5%" stop-color="#10c3c6"/><stop offset="52.33%" stop-color="#11ace5"/><stop offset="60.08%" stop-color="#11b1df"/><stop offset="67.05%" stop-color="#11c8b7"/><stop offset="67.83%" stop-color="#2ad298"/><stop offset="68.6%" stop-color="#89df5b"/><stop offset="70.16%" stop-color="#cac737"/><stop offset="71.71%" stop-color="#ecb320"/><stop offset="73.26%" stop-color="#f7a90d"/><stop offset="88.76%" stop-color="#ff9300"/><stop offset="99.61%" stop-color="#ff9300"/></linearGradient>
<linearGradient id="d9"><stop offset="0.39%" stop-color="#17cbae"/><stop offset="3.49%" stop-color="#2bd397"/><stop offset="12.02%" stop-color="#8edf58"/><stop offset="15.89%" stop-color="#94de54"/><stop offset="20.54%" stop-color="#74df67"/><stop offset="25.97%" stop-color="#2cd396"/><stop offset="29.07%" stop-color="#17cbae"/><stop offset="37.6%" stop-color="#10bfcc"/><stop offset="53.88%" stop-color="#11ace6"/><stop offset="60.85%" stop-color="#10b3de"/><stop offset="66.28%" stop-color="#10c3c5"/><stop offset="67.05%" stop-color="#1bcda8"/><stop offset="67.83%" stop-color="#7de062"/><stop offset="68.6%" stop-color="#a8db49"/><stop offset="70.93%" stop-color="#eab523"/><stop offset="72.48%" stop-color="#f6aa0e"/><stop offset="87.98%" stop-color="#ff9300"/><stop offset="99.61%" stop-color="#ff9300"/></linearGradient>
<linearGradient id="d10"><stop offset="0.39%" stop-color="#14cab2"/><stop offset="4.26%" stop-color="#29d299"/><stop offset="12.02%" stop-color="#8adf5a"/><stop offset="15.12%" stop-color="#94de54"/><stop offset="20.54%" stop-color="#75df67"/><stop offset="25.97%" stop-color="#2ed495"/><stop offset="29.07%" stop-color="#18ccad"/><stop offset="38.37%" stop-color="#10bfcc"/><stop offset="53.88%" stop-color="#12abe6"/><stop offset="61.63%" stop-color="#10b4dd"/><stop offset="65.5%" stop-color="#10becd"/><stop offset="66.28%" stop-color="#14cab2"/><stop offset="67.05%" stop-color="#69de6d"/><stop offset="67.83%" stop-color="#a1dd4d"/><stop offset="69.38%" stop-color="#d6c131"/><stop offset="70.93%" stop-color="#f0b018"/><stop offset="74.03%" stop-color="#f7a70c"/><stop offset="88.76%" stop-color="#ff9300"/><stop offset="99.61%" stop-color="#ff9300"/></linearGradient>
<linearGradient id="d11"><stop offset="0.39%" stop-color="#12c9b6"/><stop offset="5.04%" stop-color="#24d19d"/><stop offset="9.69%" stop-color="#62dd71"/><stop offset="12.79%" stop-color="#8ddf58"/><stop offset="16.67%" stop-color="#8ddf58"/><stop offset="21.32%" stop-color="#6ede6a"/><stop offset="25.97%" stop-color="#31d492"/><stop offset="28.29%" stop-color="#1bcea7"/><stop offset="36.05%" stop-color="#10c2c7"/><stop offset="54.65%" stop-color="#12abe7"/><stop offset="62.4%" stop-color="#10b4dc"/><stop offset="64.73%" stop-color="#10bad3"/><stop offset="65.5%" stop-color="#10c7ba"/><stop offset="66.28%" stop-color="#59dc76"/><stop offset="67.05%" stop-color="#9bdd50"/><stop offset="68.6%" stop-color="#d3c232"/><stop offset="70.16%" stop-color="#efb11a"/><stop offset="74.81%" stop-color="#f8a60b"/><stop offset="90.31%" stop-color="#ff9300"/><stop offset="99.61%" stop-color="#ff9300"/></linearGradient>
<linearGradient id="d12"><stop offset="0.39%" stop-color="#10c8b9"/><stop offset="6.59%" stop-color="#27d29a"/><stop offset="9.69%" stop-color="#57dc77"/><stop offset="12.79%" stop-color="#8adf5a"/><stop offset="15.89%" stop-color="#8ede58"/><stop offset="21.32%" stop-color="#71de69"/><stop offset="25.97%" stop-color="#35d58f"/><stop offset="28.29%" stop-color="#1ccea5"/><stop offset="36.05%" stop-color="#10c3c5"/><stop offset="55.43%" stop-color="#12aae8"/><stop offset="63.95%" stop-color="#10b6d9"/><stop offset="64.73%" stop-color="#10c6bf"/><stop offset="65.5%" stop-color="#4edb7c"/><stop offset="66.28%" stop-color="#97de53"/><stop offset="67.83%" stop-color="#d1c333"/><stop offset="69.38%" stop-color="#efb11b"/><stop offset="77.13%" stop-color="#fba107"/><stop offset="92.64%" stop-color="#ff9300"/><stop offset="99.61%" stop-color="#ff9300"/></linearGradient>
<linearGradient id="d13"><stop offset="0.39%" stop-color="#10c6bd"/><stop offset="7.36%" stop-color="#23d19d"/><stop offset="12.79%" stop-color="#87df5c"/><stop offset="15.89%" stop-color="#8ddf59"/><stop offset="21.32%" stop-color="#73df67"/><stop offset="25.97%" stop-color="#39d68c"/><stop offset="28.29%" stop-color="#1ecfa3"/><stop offset="36.05%" stop-color="#10c4c3"/><stop offset="55.43%" stop-color="#12aae8"/><stop offset="63.95%" stop-color="#10b4dc"/><stop offset="64.73%" stop-color="#48da80"/><stop offset="65.5%" stop-color="#94de54"/><stop offset="67.05%" stop-color="#d0c434"/><stop offset="68.6%" stop-color="#eeb11c"/><stop offset="80.23%" stop-color="#fd9b03"/><stop offset="99.61%" stop-color="#ff9300"/></linearGradient>
<linearGradient id="d14"><stop offset="0.39%" stop-color="#10c6bf"/><stop offset="7.36%" stop-color="#1ecfa4"/><stop offset="8.91%" stop-color="#33d591"/><stop offset="12.79%" stop-color="#85e05d"/><stop offset="15.89%" stop-color="#8bdf59"/><stop offset="22.09%" stop-color="#70de69"/><stop offset="28.29%" stop-color="#1fd0a1"/><stop offset="36.82%" stop-color="#10c4c3"/><stop offset="55.43%" stop-color="#12a9e9"/><stop offset="63.18%" stop-color="#11b0e0"/><stop offset="63.95%" stop-color="#47da81"/><stop offset="64.73%" stop-color="#94de55"/><stop offset="66.28%" stop-color="#d0c434"/><stop offset="67.83%" stop-color="#edb31f"/><stop offset="77.91%" stop-color="#fba006"/><stop offset="91.86%" stop-color="#ff9300"/><stop offset="99.61%" stop-color="#ff9300"/></linearGradient>
<linearGradient id="d15"><stop offset="0.39%" stop-color="#10c5c0"/><stop offset="8.14%" stop-color="#1fcfa2"/><stop offset="12.79%" stop-color="#82e05f"/><stop offset="15.89%" stop-color="#8adf5a"/><stop offset="22.09%" stop-color="#74df67"/><stop offset="29.07%" stop-color="#1ecfa2"/><stop offset="38.37%" stop-color="#10c4c5"/><stop offset="55.43%" stop-color="#12a9e9"/><stop offset="62.4%" stop-color="#11ade4"/><stop offset="63.18%" stop-color="#4ada7f"/><stop offset="63.95%" stop-color="#95de54"/><stop offset="65.5%" stop-color="#d0c434"/><stop offset="67.05%" stop-color="#ebb422"/><stop offset="75.58%" stop-color="#f9a50a"/><stop offset="91.09%" stop-color="#ff9300"/><stop offset="99.61%" stop-color="#ff9300"/></linearGradient>
<linearGradient id="d16"><stop offset="0.39%" stop-color="#10c5c0"/><stop offset="8.14%" stop-color="#1dcea5"/><stop offset="9.69%" stop-color="#37d68e"/><stop offset="12.79%" stop-color="#7ee061"/><stop offset="15.89%" stop-color="#89df5b"/><stop offset="22.09%" stop-color="#78df64"/><stop offset="29.84%" stop-color="#1fd0a1"/><stop offset="39.92%" stop-color="#10c3c5"/><stop offset="54.65%" stop-color="#12a8ea"/><stop offset="60.85%" stop-color="#12aae8"/><stop offset="61.63%" stop-color="#10c6be"/><stop offset="62.4%" stop-color="#51db7b"/><stop offset="63.18%" stop-color="#98dd52"/><stop offset="64.73%" stop-color="#d2c333"/><stop offset="65.5%" stop-color="#e3b928"/><stop offset="74.81%" stop-color="#f8a60b"/><stop offset="91.86%" stop-color="#ff9300"/><stop offset="99.61%" stop-color="#ff9300"/></linearGradient>
<linearGradient id="d17"><stop offset="0.39%" stop-color="#10c5c0"/><stop offset="8.14%" stop-color="#1bcea7"/><stop offset="8.91%" stop-color="#20d0a0"/><stop offset="12.79%" stop-color="#78df64"/><stop offset="15.12%" stop-color="#87df5c"/><stop offset="22.87%" stop-color="#79df64"/><stop offset="30.62%" stop-color="#27d29a"/><stop offset="39.92%" stop-color="#10c5c1"/><stop offset="53.1%" stop-color="#12a9e9"/><stop offset="60.08%" stop-color="#12a8ea"/><stop offset="60.85%" stop-color="#10c8b8"/><stop offset="61.63%" stop-color="#5edc74"/><stop offset="62.4%" stop-color="#9ddd4f"/><stop offset="63.95%" stop-color="#d4c232"/><stop offset="67.83%" stop-color="#edb31f"/><stop offset="77.13%" stop-color="#faa208"/><stop offset="94.19%" stop-color="#ff9300"/><stop offset="99.61%" stop-color="#ff9300"/></linearGradient>
<linearGradient id="d18"><stop offset="0.39%" stop-color="#10c5c0"/><stop offset="8.14%" stop-color="#1acdaa"/><stop offset="9.69%" stop-color="#2bd397"/><stop offset="12.79%" stop-color="#72df68"/><stop offset="15.12%" stop-color="#85df5d"/><stop offset="22.87%" stop-color="#81e05f"/><stop offset="33.72%" stop-color="#22d19e"/><stop offset="41.47%" stop-color="#10c4c3"/><stop offset="52.33%" stop-color="#12a9e9"/><stop offset="59.3%" stop-color="#13a6eb"/><stop offset="60.08%" stop-color="#16cbaf"/><stop offset="60.85%" stop-color="#6ede6a"/><stop offset="61.63%" stop-color="#a3dc4c"/><stop offset="63.18%" stop-color="#d6c131"/><stop offset="70.93%" stop-color="#f4ad12"/><stop offset="89.53%" stop-color="#ff9300"/><stop offset="99.61%" stop-color="#ff9300"/></linearGradient>
<linearGradient id="d19"><stop offset="0.39%" stop-color="#10c5c0"/><stop offset="8.14%" stop-color="#18ccac"/><stop offset="9.69%" stop-color="#26d19b"/><stop offset="12.79%" stop-color="#6dde6b"/><stop offset="15.12%" stop-color="#83e05e"/><stop offset="22.87%" stop-color="#87df5c"/><stop offset="33.72%" stop-color="#37d68e"/><stop offset="37.6%" stop-color="#1bcea7"/><stop offset="43.8%" stop-color="#10c0cb"/><stop offset="51.55%" stop-color="#12a9e9"/><stop offset="58.53%" stop-color="#13a4eb"/><stop offset="59.3%" stop-color="#1dcea5"/><stop offset="60.08%" stop-color="#81e05f"/><stop offset="60.85%" stop-color="#a9da48"/><stop offset="61.63%" stop-color="#c4ca3a"/><stop offset="63.95%" stop-color="#dabf2e"/><stop offset="71.71%" stop-color="#f5ab10"/><stop offset="91.86%" stop-color="#ff9300"/><stop offset="99.61%" stop-color="#ff9300"/></linearGradient>
<linearGradient id="d20"><stop offset="0.39%" stop-color="#10c5c0"/><stop offset="8.14%" stop-color="#17cbae"/><stop offset="9.69%" stop-color="#21d09f"/><stop offset="12.79%" stop-color="#68dd6e"/><stop offset="15.12%" stop-color="#81e05f"/><stop offset="22.09%" stop-color="#8ede58"/><stop offset="30.62%" stop-color="#66dd6f"/><stop offset="38.37%" stop-color="#1dcea5"/><stop offset="43.8%" stop-color="#10c1c9"/><stop offset="50.78%" stop-color="#12a9e9"/><stop offset="57.75%" stop-color="#14a3ec"/><stop offset="58.53%" stop-color="#2fd494"/><stop offset="59.3%" stop-color="#8bdf5a"/><stop offset="60.85%" stop-color="#c7c939"/><stop offset="69.38%" stop-color="#f0b018"/><stop offset="87.98%" stop-color="#ff9500"/><stop offset="99.61%" stop-color="#ff9300"/></linearGradient>
<linearGradient id="d21"><stop offset="0.39%" stop-color="#10c5c0"/><stop offset="8.14%" stop-color="#16cbaf"/><stop offset="9.69%" stop-color="#1fd0a1"/><stop offset="13.57%" stop-color="#71de69"/><stop offset="18.99%" stop-color="#8fde57"/><stop offset="25.97%" stop-color="#8adf5a"/><stop offset="31.4%" stop-color="#71de69"/><stop offset="37.6%" stop-color="#2ed395"/><stop offset="41.47%" stop-color="#11c8b7"/><stop offset="50%" stop-color="#12a9e9"/><stop offset="56.98%" stop-color="#14a3ec"/><stop offset="57.75%" stop-color="#4dda7d"/><stop offset="58.53%" stop-color="#96de53"/><stop offset="59.3%" stop-color="#b4d242"/><stop offset="63.95%" stop-color="#dabf2e"/><stop offset="71.71%" stop-color="#f5ab10"/><stop offset="94.19%" stop-color="#ff9300"/><stop offset="99.61%" stop-color="#ff9300"/></linearGradient>
<linearGradient id="d22"><stop offset="0.39%" stop-color="#10c5c0"/><stop offset="8.14%" stop-color="#16cbb0"/><stop offset="9.69%" stop-color="#1fcfa2"/><stop offset="13.57%" stop-color="#6fde6a"/><stop offset="18.99%" stop-color="#91de56"/><stop offset="27.52%" stop-color="#8cdf59"/><stop offset="32.17%" stop-color="#75df66"/><stop offset="37.6%" stop-color="#36d58e"/><stop offset="39.92%" stop-color="#1bcea7"/><stop offset="44.57%" stop-color="#10bfcc"/><stop offset="50.78%" stop-color="#12a7ea"/><stop offset="55.43%" stop-color="#14a3ec"/><stop offset="56.2%" stop-color="#16cbaf"/><stop offset="56.98%" stop-color="#6ede6a"/><stop offset="57.75%" stop-color="#a3dc4c"/><stop offset="59.3%" stop-color="#b8d040"/><stop offset="67.83%" stop-color="#edb31f"/><stop offset="76.36%" stop-color="#f9a40a"/><stop offset="99.61%" stop-color="#ff9300"/></linearGradient>
<linearGradient id="d23"><stop offset="0.39%" stop-color="#10c5c0"/><stop offset="8.14%" stop-color="#15cbb0"/><stop offset="9.69%" stop-color="#1fcfa2"/><stop offset="13.57%" stop-color="#6ede6a"/><stop offset="18.99%" stop-color="#91de56"/><stop offset="27.52%" stop-color="#8ddf58"/><stop offset="32.17%" stop-color="#77df65"/><stop offset="37.6%" stop-color="#38d68d"/><stop offset="39.92%" stop-color="#1ccea7"/><stop offset="44.57%" stop-color="#10bfcc"/><stop offset="50%" stop-color="#12a8ea"/><stop offset="54.65%" stop-color="#14a3ec"/><stop offset="55.43%" stop-color="#27d29b"/><stop offset="56.2%" stop-color="#88df5c"/><stop offset="56.98%" stop-color="#a7dc4a"/><stop offset="67.05%" stop-color="#ebb422"/><stop offset="75.58%" stop-color="#f8a60b"/><stop offset="99.61%" stop-color="#ff9300"/></linearGradient>
<linearGradient id="d24"><stop offset="0.39%" stop-color="#10c5c0"/><stop offset="8.14%" stop-color="#15cbb0"/><stop offset="9.69%" stop-color="#1fcfa2"/><stop offset="13.57%" stop-color="#6ede6a"/><stop offset="18.99%" stop-color="#91de56"/><stop offset="26.74%" stop-color="#8edf58"/><stop offset="31.4%" stop-color="#7adf63"/><stop offset="37.6%" stop-color="#32d592"/><stop offset="40.7%" stop-color="#15cbb0"/><stop offset="49.22%" stop-color="#12aae8"/><stop offset="53.1%" stop-color="#13a4eb"/><stop offset="53.88%" stop-color="#10c6be"/><stop offset="54.65%" stop-color="#50db7b"/><stop offset="55.43%" stop-color="#8bdf5a"/><stop offset="57.75%" stop-color="#aed745"/><stop offset="67.83%" stop-color="#edb31f"/><stop offset="76.36%" stop-color="#f9a50a"/><stop offset="99.61%" stop-color="#ff9300"/></linearGradient>
<linearGradient id="d25"><stop offset="0.39%" stop-color="#10c5c0"/><stop offset="8.14%" stop-color="#15cbb0"/><stop offset="9.69%" stop-color="#1fcfa2"/><stop offset="13.57%" stop-color="#6ede6a"/><stop offset="18.99%" stop-color="#91de56"/><stop offset="25.97%" stop-color="#8ede58"/><stop offset="31.4%" stop-color="#73df68"/><stop offset="39.15%" stop-color="#1acda9"/><stop offset="44.57%" stop-color="#10bdcf"/><stop offset="50.78%" stop-color="#12a7ea"/><stop offset="52.33%" stop-color="#13a5eb"/><stop offset="53.1%" stop-color="#1bcda8"/><stop offset="53.88%" stop-color="#62dd71"/><stop offset="55.43%" stop-color="#8bdf5a"/><stop offset="57.75%" stop-color="#aed745"/><stop offset="67.83%" stop-color="#edb31f"/><stop offset="76.36%" stop-color="#f9a50a"/><stop offset="99.61%" stop-color="#ff9300"/></linearGradient>
<linearGradient id="d26"><stop offset="0.39%" stop-color="#10c5c0"/><stop offset="8.14%" stop-color="#15cbb0"/><stop offset="9.69%" stop-color="#1fcfa2"/><stop offset="13.57%" stop-color="#6ede6a"/><stop offset="18.99%" stop-color="#91de56"/><stop offset="25.19%" stop-color="#8fde57"/><stop offset="30.62%" stop-color="#71de69"/><stop offset="37.6%" stop-color="#1dcfa4"/><stop offset="42.25%" stop-color="#10c2c7"/><stop offset="50.78%" stop-color="#12a7ea"/><stop offset="51.55%" stop-color="#13a6eb"/><stop offset="52.33%" stop-color="#19ccab"/><stop offset="53.1%" stop-color="#36d68e"/><stop offset="53.88%" stop-color="#62dd71"/><stop offset="55.43%" stop-color="#8bdf5a"/><stop offset="57.75%" stop-color="#aed745"/><stop offset="67.83%" stop-color="#edb31f"/><stop offset="76.36%" stop-color="#f8a50a"/><stop offset="99.61%" stop-color="#ff9400"/></linearGradient>
<linearGradient id="d27"><stop offset="0.39%" stop-color="#10c5c0"/><stop offset="8.14%" stop-color="#15cbb0"/><stop offset="9.69%" stop-color="#1fcfa2"/><stop offset="13.57%" stop-color="#6ede6a"/><stop offset="18.99%" stop-color="#91de56"/><stop offset="24.42%" stop-color="#90de57"/><stop offset="29.84%" stop-color="#6fde6a"/><stop offset="36.05%" stop-color="#1fcfa2"/><stop offset="40.7%" stop-color="#10c4c4"/><stop offset="50%" stop-color="#12a8ea"/><stop offset="51.55%" stop-color="#10c4c4"/><stop offset="52.33%" stop-color="#19ccab"/><stop offset="53.1%" stop-color="#36d68e"/><stop offset="53.88%" stop-color="#62dd71"/><stop offset="55.43%" stop-color="#8bdf5a"/><stop offset="57.75%" stop-color="#aed745"/><stop offset="67.83%" stop-color="#edb31f"/><stop offset="75.58%" stop-color="#f8a60b"/><stop offset="99.61%" stop-color="#ff9400"/></linearGradient>
<linearGradient id="d28"><stop offset="0.39%" stop-color="#10c5c0"/><stop offset="8.14%" stop-color="#15cbb0"/><stop offset="9.69%" stop-color="#1fcfa2"/><stop offset="13.57%" stop-color="#6ede6a"/><stop offset="18.99%" stop-color="#91de56"/><stop offset="24.42%" stop-color="#8fde57"/><stop offset="29.84%" stop-color="#65dd70"/><stop offset="34.5%" stop-color="#21d09f"/><stop offset="39.92%" stop-color="#10c3c6"/><stop offset="49.22%" stop-color="#12a9e9"/><stop offset="51.55%" stop-color="#10c4c4"/><stop offset="52.33%" stop-color="#19ccab"/><stop offset="53.1%" stop-color="#36d68e"/><stop offset="53.88%" stop-color="#62dd71"/><stop offset="55.43%" stop-color="#8bdf5a"/><stop offset="57.75%" stop-color="#aed745"/><stop offset="67.83%" stop-color="#edb31f"/><stop offset="75.58%" stop-color="#f8a60b"/><stop offset="99.61%" stop-color="#ff9500"/></linearGradient>
<linearGradient id="d29"><stop offset="0.39%" stop-color="#10c5c0"/><stop offset="8.14%" stop-color="#15cbb0"/><stop offset="9.69%" stop-color="#1fcfa2"/><stop offset="13.57%" stop-color="#6ede6a"/><stop offset="18.99%" stop-color="#91de56"/><stop offset="23.64%" stop-color="#91de56"/><stop offset="29.07%" stop-color="#65dd70"/><stop offset="33.72%" stop-color="#20d0a1"/><stop offset="38.37%" stop-color="#10c4c3"/><stop offset="48.45%" stop-color="#11b0e1"/><stop offset="50.78%" stop-color="#10bad4"/><stop offset="52.33%" stop-color="#19ccab"/><stop offset="53.1%" stop-color="#36d68e"/><stop offset="53.88%" stop-color="#62dd71"/><stop offset="55.43%" stop-color="#8bdf5a"/><stop offset="57.75%" stop-color="#aed745"/><stop offset="67.83%" stop-color="#edb31f"/><stop offset="75.58%" stop-color="#f8a60c"/><stop offset="99.61%" stop-color="#ff9500"/></linearGradient>
<linearGradient id="d30"><stop offset="0.39%" stop-color="#10c5c0"/><stop offset="8.14%" stop-color="#15cbb0"/><stop offset="9.69%" stop-color="#1fcfa2"/><stop offset="13.57%" stop-color="#6ede6a"/><stop offset="18.99%" stop-color="#91de56"/><stop offset="23.64%" stop-color="#90de57"/><stop offset="28.29%" stop-color="#66dd6f"/><stop offset="32.17%" stop-color="#2ed495"/><stop offset="34.5%" stop-color="#18ccad"/><stop offset="41.47%" stop-color="#10bad4"/><stop offset="47.67%" stop-color="#11ade4"/><stop offset="50.78%" stop-color="#10bad4"/><stop offset="52.33%" stop-color="#19ccab"/><stop offset="53.1%" stop-color="#36d68e"/><stop offset="53.88%" stop-color="#62dd71"/><stop offset="55.43%" stop-color="#8bdf5a"/><stop offset="57.75%" stop-color="#aed745"/><stop offset="67.83%" stop-color="#edb31f"/><stop offset="75.58%" stop-color="#f8a70c"/><stop offset="99.61%" stop-color="#ff9600"/></linearGradient>
<linearGradient id="d31"><stop offset="0.39%" stop-color="#10c5c0"/><stop offset="8.91%" stop-color="#19cdaa"/><stop offset="10.47%" stop-color="#2cd396"/><stop offset="13.57%" stop-color="#6ede6b"/><stop offset="18.99%" stop-color="#91de56"/><stop offset="23.64%" stop-color="#8fde57"/><stop offset="28.29%" stop-color="#61dd72"/><stop offset="32.95%" stop-color="#1ecfa3"/><stop offset="37.6%" stop-color="#10c3c6"/><stop offset="46.9%" stop-color="#12aae8"/><stop offset="50.78%" stop-color="#10bad4"/><stop offset="52.33%" stop-color="#19ccab"/><stop offset="53.1%" stop-color="#36d68e"/><stop offset="53.88%" stop-color="#62dd71"/><stop offset="55.43%" stop-color="#8bdf5a"/><stop offset="57.75%" stop-color="#aed745"/><stop offset="67.83%" stop-color="#edb31f"/><stop offset="75.58%" stop-color="#f8a70c"/><stop offset="99.61%" stop-color="#ff9600"/></linearGradient>
<linearGradient id="d32"><stop offset="0.39%" stop-color="#10c5c0"/><stop offset="8.91%" stop-color="#19ccab"/><stop offset="10.47%" stop-color="#2ad398"/><stop offset="13.57%" stop-color="#6ade6c"/><stop offset="18.22%" stop-color="#8ddf59"/><stop offset="22.87%" stop-color="#91de56"/><stop offset="26.74%" stop-color="#70de69"/><stop offset="31.4%" stop-color="#2ed495"/><stop offset="33.72%" stop-color="#17ccad"/><stop offset="40.7%" stop-color="#10b9d6"/><stop offset="43.8%" stop-color="#11b1e0"/><stop offset="44.57%" stop-color="#13a4eb"/><stop offset="50.78%" stop-color="#10bad4"/><stop offset="52.33%" stop-color="#19ccab"/><stop offset="53.1%" stop-color="#36d68e"/><stop offset="53.88%" stop-color="#62dd71"/><stop offset="55.43%" stop-color="#8bdf5a"/><stop offset="57.75%" stop-color="#aed745"/><stop offset="67.83%" stop-color="#edb31f"/><stop offset="75.58%" stop-color="#f8a70c"/><stop offset="99.61%" stop-color="#ff9600"/></linearGradient>
<linearGradient id="d33"><stop offset="0.39%" stop-color="#10c5c0"/><stop offset="8.91%" stop-color="#18ccac"/><stop offset="10.47%" stop-color="#27d29a"/><stop offset="13.57%" stop-color="#65dd6f"/><stop offset="18.99%" stop-color="#8edf58"/><stop offset="22.87%" stop-color="#90de57"/><stop offset="25.97%" stop-color="#76df66"/><stop offset="31.4%" stop-color="#28d299"/><stop offset="35.27%" stop-color="#10c6bd"/><stop offset="43.02%" stop-color="#11b1df"/><stop offset="43.8%" stop-color="#14a3ec"/><stop offset="50%" stop-color="#10b7d9"/><stop offset="51.55%" stop-color="#10c4c4"/><stop offset="52.33%" stop-color="#19ccab"/><stop offset="53.1%" stop-color="#36d68e"/><stop offset="53.88%" stop-color="#62dd71"/><stop offset="55.43%" stop-color="#8bdf5a"/><stop offset="57.75%" stop-color="#aed745"/><stop offset="67.83%" stop-color="#edb31f"/><stop offset="75.58%" stop-color="#f8a70c"/><stop offset="99.61%" stop-color="#ff9600"/></linearGradient>
<linearGradient id="d34"><stop offset="0.39%" stop-color="#10c5c0"/><stop offset="8.91%" stop-color="#17ccad"/><stop offset="10.47%" stop-color="#23d19d"/><stop offset="13.57%" stop-color="#60dd73"/><stop offset="18.99%" stop-color="#8bdf5a"/><stop offset="22.87%" stop-color="#8ddf58"/><stop offset="26.74%" stop-color="#67dd6e"/><stop offset="32.17%" stop-color="#1dcea5"/><stop offset="36.05%" stop-color="#10c4c5"/><stop offset="41.47%" stop-color="#10b4dc"/><stop offset="42.25%" stop-color="#15a1ed"/><stop offset="48.45%" stop-color="#11b0e1"/><stop offset="50.78%" stop-color="#10bad4"/><stop offset="52.33%" stop-color="#19ccab"/><stop offset="53.1%" stop-color="#36d68e"/><stop offset="53.88%" stop-color="#62dd71"/><stop offset="55.43%" stop-color="#8bdf5a"/><stop offset="57.75%" stop-color="#aed745"/><stop offset="67.83%" stop-color="#edb31f"/><stop offset="75.58%" stop-color="#f8a70c"/><stop offset="99.61%" stop-color="#ff9600"/></linearGradient>
<linearGradient id="d35"><stop offset="0.39%" stop-color="#10c5c0"/><stop offset="8.91%" stop-color="#17cbae"/><stop offset="10.47%" stop-color="#20d0a0"/><stop offset="13.57%" stop-color="#59dc76"/><stop offset="18.99%" stop-color="#88df5b"/><stop offset="22.87%" stop-color="#8bdf5a"/><stop offset="25.97%" stop-color="#6dde6b"/><stop offset="32.17%" stop-color="#1bcea7"/><stop offset="36.82%" stop-color="#10c0ca"/><stop offset="39.92%" stop-color="#10b7d8"/><stop offset="40.7%" stop-color="#15a0ed"/><stop offset="48.45%" stop-color="#11b0e1"/><stop offset="50.78%" stop-color="#10bad4"/><stop offset="52.33%" stop-color="#19ccab"/><stop offset="53.1%" stop-color="#36d68e"/><stop offset="53.88%" stop-color="#62dd71"/><stop offset="55.43%" stop-color="#8bdf5a"/><stop offset="57.75%" stop-color="#aed745"/><stop offset="67.83%" stop-color="#edb31f"/><stop offset="75.58%" stop-color="#f8a70c"/><stop offset="99.61%" stop-color="#ff9600"/></linearGradient>
<linearGradient id="d36"><stop offset="0.39%" stop-color="#10c5c0"/><stop offset="8.91%" stop-color="#16cbaf"/><stop offset="11.24%" stop-color="#2bd397"/><stop offset="14.34%" stop-color="#5ddc74"/><stop offset="19.77%" stop-color="#88df5b"/><stop offset="23.64%" stop-color="#83e05e"/><stop offset="29.84%" stop-color="#32d492"/><stop offset="32.95%" stop-color="#15cab1"/><stop offset="38.37%" stop-color="#10bbd2"/><stop offset="39.15%" stop-color="#15a0ed"/><stop offset="48.45%" stop-color="#11b0e1"/><stop offset="50.78%" stop-color="#10bad4"/><stop offset="52.33%" stop-color="#19ccab"/><stop offset="53.1%" stop-color="#36d68e"/><stop offset="53.88%" stop-color="#62dd71"/><stop offset="55.43%" stop-color="#8bdf5a"/><stop offset="57.75%" stop-color="#aed745"/><stop offset="67.83%" stop-color="#edb31f"/><stop offset="75.58%" stop-color="#f8a70c"/><stop offset="99.61%" stop-color="#ff9600"/></linearGradient>
<linearGradient id="d37"><stop offset="0.39%" stop-color="#10c5c0"/><stop offset="8.91%" stop-color="#15cbb0"/><stop offset="11.24%" stop-color="#28d29a"/><stop offset="14.34%" stop-color="#59dc76"/><stop offset="19.77%" stop-color="#85df5d"/><stop offset="23.64%" stop-color="#81e060"/><stop offset="29.84%" stop-color="#2dd396"/><stop offset="32.95%" stop-color="#13cab3"/><stop offset="37.6%" stop-color="#10bcd0"/><stop offset="38.37%" stop-color="#15a0ed"/><stop offset="47.67%" stop-color="#11ade4"/><stop offset="50.78%" stop-color="#10bad4"/><stop offset="52.33%" stop-color="#19ccab"/><stop offset="53.1%" stop-color="#36d68e"/><stop offset="53.88%" stop-color="#62dd71"/><stop offset="55.43%" stop-color="#8bdf5a"/><stop offset="57.75%" stop-color="#aed745"/><stop offset="67.83%" stop-color="#edb31f"/><stop offset="75.58%" stop-color="#f8a70c"/><stop offset="99.61%" stop-color="#ff9600"/></linearGradient>
<linearGradient id="d38"><stop offset="0.39%" stop-color="#10c5c0"/><stop offset="8.91%" stop-color="#15cbb0"/><stop offset="11.24%" stop-color="#27d29b"/><stop offset="14.34%" stop-color="#57dc77"/><stop offset="19.77%" stop-color="#83e05f"/><stop offset="23.64%" stop-color="#7de062"/><stop offset="30.62%" stop-color="#1ecfa2"/><stop offset="35.27%" stop-color="#10c2c7"/><stop offset="36.05%" stop-color="#10c0ca"/><stop offset="36.82%" stop-color="#15a0ed"/><stop offset="47.67%" stop-color="#11ade4"/><stop offset="50.78%" stop-color="#10bad4"/><stop offset="52.33%" stop-color="#19ccab"/><stop offset="53.1%" stop-color="#36d68e"/><stop offset="53.88%" stop-color="#62dd71"/><stop offset="55.43%" stop-color="#8bdf5a"/><stop offset="57.75%" stop-color="#aed745"/><stop offset="67.83%" stop-color="#edb31f"/><stop offset="75.58%" stop-color="#f8a70c"/><stop offset="99.61%" stop-color="#ff9600"/></linearGradient>
<linearGradient id="d39"><stop offset="0.39%" stop-color="#10c6bf"/><stop offset="8.91%" stop-color="#15cbb0"/><stop offset="11.24%" stop-color="#28d29a"/><stop offset="14.34%" stop-color="#58dc77"/><stop offset="20.54%" stop-color="#82e05f"/><stop offset="23.64%" stop-color="#79df64"/><stop offset="30.62%" stop-color="#1ccea6"/><stop offset="34.5%" stop-color="#10c4c5"/><stop offset="35.27%" stop-color="#15a0ed"/><stop offset="46.9%" stop-color="#12aae8"/><stop offset="50.78%" stop-color="#10bad4"/><stop offset="52.33%" stop-color="#19ccab"/><stop offset="53.1%" stop-color="#36d68e"/><stop offset="53.88%" stop-color="#62dd71"/><stop offset="55.43%" stop-color="#8bdf5a"/><stop offset="57.75%" stop-color="#aed745"/><stop offset="67.83%" stop-color="#edb31f"/><stop offset="75.58%" stop-color="#f8a70c"/><stop offset="99.61%" stop-color="#ff9600"/></linearGradient>
<linearGradient id="d40"><stop offset="0.39%" stop-color="#10c6bd"/><stop offset="8.91%" stop-color="#16cbae"/><stop offset="11.24%" stop-color="#2ad398"/><stop offset="14.34%" stop-color="#59dc76"/><stop offset="21.32%" stop-color="#80e060"/><stop offset="24.42%" stop-color="#6bde6c"/><stop offset="29.84%" stop-color="#1ecfa4"/><stop offset="32.95%" stop-color="#10c7bc"/><stop offset="33.72%" stop-color="#15a1ed"/><stop offset="46.12%" stop-color="#12a7ea"/><stop offset="50.78%" stop-color="#10bad4"/><stop offset="52.33%" stop-color="#19ccab"/><stop offset="53.1%" stop-color="#36d68e"/><stop offset="53.88%" stop-color="#62dd71"/><stop offset="55.43%" stop-color="#8bdf5a"/><stop offset="57.75%" stop-color="#aed745"/><stop offset="67.83%" stop-color="#edb31f"/><stop offset="75.58%" stop-color="#f8a70c"/><stop offset="99.61%" stop-color="#ff9600"/></linearGradient>
<linearGradient id="d41"><stop offset="0.39%" stop-color="#10c7ba"/><stop offset="8.91%" stop-color="#18ccac"/><stop offset="10.47%" stop-color="#21d0a0"/><stop offset="13.57%" stop-color="#53db7a"/><stop offset="19.77%" stop-color="#77df65"/><stop offset="22.87%" stop-color="#76df66"/><stop offset="27.52%" stop-color="#33d591"/><stop offset="29.84%" stop-color="#1bcda8"/><stop offset="31.4%" stop-color="#13cab3"/><stop offset="32.17%" stop-color="#14a4ec"/><stop offset="45.35%" stop-color="#13a5eb"/><stop offset="50.78%" stop-color="#10bad4"/><stop offset="52.33%" stop-color="#19ccab"/><stop offset="53.1%" stop-color="#36d68e"/><stop offset="53.88%" stop-color="#62dd71"/><stop offset="55.43%" stop-color="#8bdf5a"/><stop offset="57.75%" stop-color="#aed745"/><stop offset="67.83%" stop-color="#edb31f"/><stop offset="75.58%" stop-color="#f8a70c"/><stop offset="99.61%" stop-color="#ff9600"/></linearGradient>
<linearGradient id="d42"><stop offset="0.39%" stop-color="#11c8b7"/><stop offset="8.91%" stop-color="#1acda9"/><stop offset="11.24%" stop-color="#34d590"/><stop offset="14.34%" stop-color="#5ddc74"/><stop offset="22.09%" stop-color="#76df66"/><stop offset="25.19%" stop-color="#54db79"/><stop offset="28.29%" stop-color="#1fd0a1"/><stop offset="29.84%" stop-color="#18ccac"/><stop offset="30.62%" stop-color="#12a7ea"/><stop offset="43.8%" stop-color="#14a3ec"/><stop offset="50%" stop-color="#10b7d9"/><stop offset="51.55%" stop-color="#10c4c4"/><stop offset="52.33%" stop-color="#19ccab"/><stop offset="53.1%" stop-color="#36d68e"/><stop offset="53.88%" stop-color="#62dd71"/><stop offset="55.43%" stop-color="#8bdf5a"/><stop offset="57.75%" stop-color="#aed745"/><stop offset="67.83%" stop-color="#edb31f"/><stop offset="75.58%" stop-color="#f8a70c"/><stop offset="99.61%" stop-color="#ff9600"/></linearGradient>
<linearGradient id="d43"><stop offset="0.39%" stop-color="#13cab3"/><stop offset="8.91%" stop-color="#1ccea6"/><stop offset="10.47%" stop-color="#2cd396"/><stop offset="13.57%" stop-color="#5adc76"/><stop offset="21.32%" stop-color="#72de68"/><stop offset="23.64%" stop-color="#65dd6f"/><stop offset="28.29%" stop-color="#1dcea5"/><stop offset="29.07%" stop-color="#11ade5"/><stop offset="39.15%" stop-color="#15a0ed"/><stop offset="48.45%" stop-color="#11b0e1"/><stop offset="50.78%" stop-color="#10bad4"/><stop offset="52.33%" stop-color="#19ccab"/><stop offset="53.1%" stop-color="#36d68e"/><stop offset="53.88%" stop-color="#62dd71"/><stop offset="55.43%" stop-color="#8bdf5a"/><stop offset="57.75%" stop-color="#aed745"/><stop offset="67.83%" stop-color="#edb31f"/><stop offset="75.58%" stop-color="#f8a70c"/><stop offset="99.61%" stop-color="#ff9600"/></linearGradient>
<linearGradient id="d44"><stop offset="0.39%" stop-color="#15cbb0"/><stop offset="8.91%" stop-color="#1ecfa2"/><stop offset="13.57%" stop-color="#5edc73"/><stop offset="22.09%" stop-color="#6dde6b"/><stop offset="25.19%" stop-color="#49da80"/><stop offset="26.74%" stop-color="#2cd396"/><stop offset="27.52%" stop-color="#10b4dc"/><stop offset="32.17%" stop-color="#14a3ec"/><stop offset="46.12%" stop-color="#12a7ea"/><stop offset="50.78%" stop-color="#10bad4"/><stop offset="52.33%" stop-color="#19ccab"/><stop offset="53.1%" stop-color="#36d68e"/><stop offset="53.88%" stop-color="#62dd71"/><stop offset="55.43%" stop-color="#8bdf5a"/><stop offset="57.75%" stop-color="#aed745"/><stop offset="67.83%" stop-color="#edb31f"/><stop offset="75.58%" stop-color="#f8a70c"/><stop offset="99.61%" stop-color="#ff9600"/></linearGradient>
<linearGradient id="d45"><stop offset="0.39%" stop-color="#17ccad"/><stop offset="8.91%" stop-color="#22d09e"/><stop offset="13.57%" stop-color="#63dd71"/><stop offset="22.87%" stop-color="#64dd70"/><stop offset="25.19%" stop-color="#44d983"/><stop offset="25.97%" stop-color="#10bad4"/><stop offset="31.4%" stop-color="#13a4eb"/><stop offset="45.35%" stop-color="#13a5eb"/><stop offset="50.78%" stop-color="#10bad4"/><stop offset="52.33%" stop-color="#19ccab"/><stop offset="53.1%" stop-color="#36d68e"/><stop offset="53.88%" stop-color="#62dd71"/><stop offset="55.43%" stop-color="#8bdf5a"/><stop offset="57.75%" stop-color="#aed745"/><stop offset="67.83%" stop-color="#edb31f"/><stop offset="75.58%" stop-color="#f8a70c"/><stop offset="99.61%" stop-color="#ff9600"/></linearGradient>
<linearGradient id="d46"><stop offset="0.39%" stop-color="#18ccab"/><stop offset="8.14%" stop-color="#20d0a0"/><stop offset="13.57%" stop-color="#67dd6e"/><stop offset="22.87%" stop-color="#61dd72"/><stop offset="23.64%" stop-color="#58dc77"/><stop offset="24.42%" stop-color="#10c1c9"/><stop offset="30.62%" stop-color="#13a5eb"/><stop offset="45.35%" stop-color="#13a5eb"/><stop offset="50.78%" stop-color="#10bad4"/><stop offset="52.33%" stop-color="#19ccab"/><stop offset="53.1%" stop-color="#36d68e"/><stop offset="53.88%" stop-color="#62dd71"/><stop offset="55.43%" stop-color="#8bdf5a"/><stop offset="57.75%" stop-color="#aed745"/><stop offset="67.83%" stop-color="#edb31f"/><stop offset="75.58%" stop-color="#f8a70c"/><stop offset="99.61%" stop-color="#ff9600"/></linearGradient>
<linearGradient id="d47"><stop offset="0.39%" stop-color="#19cdaa"/><stop offset="8.14%" stop-color="#27d29a"/><stop offset="13.57%" stop-color="#6cde6b"/><stop offset="22.09%" stop-color="#62dd71"/><stop offset="22.87%" stop-color="#10c7bb"/><stop offset="28.29%" stop-color="#11ade5"/><stop offset="39.15%" stop-color="#15a0ed"/><stop offset="48.45%" stop-color="#11b0e1"/><stop offset="50.78%" stop-color="#10bad4"/><stop offset="52.33%" stop-color="#19ccab"/><stop offset="53.1%" stop-color="#36d68e"/><stop offset="53.88%" stop-color="#62dd71"/><stop offset="55.43%" stop-color="#8bdf5a"/><stop offset="57.75%" stop-color="#aed745"/><stop offset="67.83%" stop-color="#edb31f"/><stop offset="75.58%" stop-color="#f8a70c"/><stop offset="99.61%" stop-color="#ff9600"/></linearGradient>
<linearGradient id="d48"><stop offset="0.39%" stop-color="#1acda9"/><stop offset="7.36%" stop-color="#2ad298"/><stop offset="13.57%" stop-color="#72df68"/><stop offset="20.54%" stop-color="#65dd6f"/><stop offset="21.32%" stop-color="#18ccac"/><stop offset="25.19%" stop-color="#10b9d5"/><stop offset="31.4%" stop-color="#14a3ec"/><stop offset="45.35%" stop-color="#13a5eb"/><stop offset="50.78%" stop-color="#10bad4"/><stop offset="52.33%" stop-color="#19ccab"/><stop offset="53.1%" stop-color="#36d68e"/><stop offset="53.88%" stop-color="#62dd71"/><stop offset="55.43%" stop-color="#8bdf5a"/><stop offset="57.75%" stop-color="#aed745"/><stop offset="67.83%" stop-color="#edb31f"/><stop offset="75.58%" stop-color="#f8a70c"/><stop offset="99.61%" stop-color="#ff9600"/></linearGradient>
<linearGradient id="d49"><stop offset="0.39%" stop-color="#1bcda8"/><stop offset="6.59%" stop-color="#2ed395"/><stop offset="10.47%" stop-color="#57dc77"/><stop offset="13.57%" stop-color="#79df64"/><stop offset="18.99%" stop-color="#6cde6b"/><stop offset="19.77%" stop-color="#24d19d"/><stop offset="22.09%" stop-color="#10c6bd"/><stop offset="28.29%" stop-color="#12abe7"/><stop offset="41.47%" stop-color="#15a0ed"/><stop offset="48.45%" stop-color="#11b0e1"/><stop offset="50.78%" stop-color="#10bad4"/><stop offset="52.33%" stop-color="#19ccab"/><stop offset="53.1%" stop-color="#36d68e"/><stop offset="53.88%" stop-color="#62dd71"/><stop offset="55.43%" stop-color="#8bdf5a"/><stop offset="57.75%" stop-color="#aed745"/><stop offset="67.83%" stop-color="#edb31f"/><stop offset="75.58%" stop-color="#f8a70c"/><stop offset="99.61%" stop-color="#ff9600"/></linearGradient>
<linearGradient id="d50"><stop offset="0.39%" stop-color="#1ccea7"/><stop offset="6.59%" stop-color="#36d68e"/><stop offset="13.57%" stop-color="#80e060"/><stop offset="17.44%" stop-color="#77df65"/><stop offset="18.22%" stop-color="#40d886"/><stop offset="19.77%" stop-color="#1ccea7"/><stop offset="22.87%" stop-color="#10c1c9"/><stop offset="29.84%" stop-color="#13a5eb"/><stop offset="45.35%" stop-color="#13a5eb"/><stop offset="50.78%" stop-color="#10bad4"/><stop offset="52.33%" stop-color="#19ccab"/><stop offset="53.1%" stop-color="#36d68e"/><stop offset="53.88%" stop-color="#62dd71"/><stop offset="55.43%" stop-color="#8bdf5a"/><stop offset="57.75%" stop-color="#aed745"/><stop offset="67.83%" stop-color="#edb31f"/><stop offset="75.58%" stop-color="#f8a70c"/><stop offset="99.61%" stop-color="#ff9600"/></linearGradient>
<linearGradient id="d51"><stop offset="0.39%" stop-color="#1ccea6"/><stop offset="6.59%" stop-color="#3fd888"/><stop offset="12.79%" stop-color="#82e05f"/><stop offset="15.89%" stop-color="#83e05e"/><stop offset="17.44%" stop-color="#46d982"/><stop offset="18.99%" stop-color="#1dcfa4"/><stop offset="21.32%" stop-color="#10c5c1"/><stop offset="29.07%" stop-color="#12a7ea"/><stop offset="43.8%" stop-color="#14a3ec"/><stop offset="50%" stop-color="#10b7d9"/><stop offset="51.55%" stop-color="#10c4c4"/><stop offset="52.33%" stop-color="#19ccab"/><stop offset="53.1%" stop-color="#36d68e"/><stop offset="53.88%" stop-color="#62dd71"/><stop offset="55.43%" stop-color="#8bdf5a"/><stop offset="57.75%" stop-color="#aed745"/><stop offset="67.83%" stop-color="#edb31f"/><stop offset="75.58%" stop-color="#f8a70c"/><stop offset="99.61%" stop-color="#ff9600"/></linearGradient>
<linearGradient id="d52"><stop offset="0.39%" stop-color="#1dcea5"/><stop offset="8.14%" stop-color="#55db79"/><stop offset="12.79%" stop-color="#87df5c"/><stop offset="14.34%" stop-color="#8bdf5a"/><stop offset="15.12%" stop-color="#7fe061"/><stop offset="18.22%" stop-color="#1fcfa2"/><stop offset="21.32%" stop-color="#10c3c6"/><stop offset="29.07%" stop-color="#13a7eb"/><stop offset="44.57%" stop-color="#13a4eb"/><stop offset="50.78%" stop-color="#10bad4"/><stop offset="52.33%" stop-color="#19ccab"/><stop offset="53.1%" stop-color="#36d68e"/><stop offset="53.88%" stop-color="#62dd71"/><stop offset="55.43%" stop-color="#8bdf5a"/><stop offset="57.75%" stop-color="#aed745"/><stop offset="67.83%" stop-color="#edb31f"/><stop offset="75.58%" stop-color="#f8a70c"/><stop offset="99.61%" stop-color="#ff9600"/></linearGradient>
<linearGradient id="d53"><stop offset="0.39%" stop-color="#1ecfa3"/><stop offset="9.69%" stop-color="#70de69"/><stop offset="13.57%" stop-color="#90de57"/><stop offset="15.12%" stop-color="#67dd6e"/><stop offset="17.44%" stop-color="#20d0a0"/><stop offset="20.54%" stop-color="#10c4c4"/><stop offset="29.07%" stop-color="#13a6eb"/><stop offset="45.35%" stop-color="#13a5eb"/><stop offset="50.78%" stop-color="#10bad4"/><stop offset="52.33%" stop-color="#19ccab"/><stop offset="53.1%" stop-color="#36d68e"/><stop offset="53.88%" stop-color="#62dd71"/><stop offset="55.43%" stop-color="#8bdf5a"/><stop offset="57.75%" stop-color="#aed745"/><stop offset="67.83%" stop-color="#edb31f"/><stop offset="75.58%" stop-color="#f8a70c"/><stop offset="99.61%" stop-color="#ff9600"/></linearGradient>
<linearGradient id="d54"><stop offset="0.39%" stop-color="#1fcfa2"/><stop offset="11.24%" stop-color="#86df5c"/><stop offset="12.02%" stop-color="#9cdd50"/><stop offset="14.34%" stop-color="#69de6d"/><stop offset="16.67%" stop-color="#24d19d"/><stop offset="18.99%" stop-color="#10c7bb"/><stop offset="27.52%" stop-color="#12aae8"/><stop offset="42.25%" stop-color="#15a1ed"/><stop offset="48.45%" stop-color="#11b0e1"/><stop offset="50.78%" stop-color="#10bad4"/><stop offset="52.33%" stop-color="#19ccab"/><stop offset="53.1%" stop-color="#36d68e"/><stop offset="53.88%" stop-color="#62dd71"/><stop offset="55.43%" stop-color="#8bdf5a"/><stop offset="57.75%" stop-color="#aed745"/><stop offset="67.83%" stop-color="#edb31f"/><stop offset="75.58%" stop-color="#f8a70c"/><stop offset="99.61%" stop-color="#ff9600"/></linearGradient>
<linearGradient id="d55"><stop offset="0.39%" stop-color="#20d0a0"/><stop offset="8.91%" stop-color="#77df65"/><stop offset="9.69%" stop-color="#7fe060"/><stop offset="10.47%" stop-color="#a7db49"/><stop offset="14.34%" stop-color="#53db7a"/><stop offset="15.89%" stop-color="#27d29a"/><stop offset="18.22%" stop-color="#10c8b9"/><stop offset="26.74%" stop-color="#12abe7"/><stop offset="41.47%" stop-color="#15a0ed"/><stop offset="48.45%" stop-color="#11b0e1"/><stop offset="50.78%" stop-color="#10bad4"/><stop offset="52.33%" stop-color="#19ccab"/><stop offset="53.1%" stop-color="#36d68e"/><stop offset="53.88%" stop-color="#62dd71"/><stop offset="55.43%" stop-color="#8bdf5a"/><stop offset="57.75%" stop-color="#aed745"/><stop offset="67.83%" stop-color="#edb31f"/><stop offset="75.58%" stop-color="#f8a70c"/><stop offset="99.61%" stop-color="#ff9600"/></linearGradient>
<linearGradient id="d56"><stop offset="0.39%" stop-color="#22d19e"/><stop offset="6.59%" stop-color="#68dd6e"/><stop offset="8.14%" stop-color="#77df65"/><stop offset="8.91%" stop-color="#aed746"/><stop offset="12.02%" stop-color="#75df66"/><stop offset="15.89%" stop-color="#1dcea5"/><stop offset="18.99%" stop-color="#10c3c6"/><stop offset="29.07%" stop-color="#13a5eb"/><stop offset="45.35%" stop-color="#13a5eb"/><stop offset="50.78%" stop-color="#10bad4"/><stop offset="52.33%" stop-color="#19ccab"/><stop offset="53.1%" stop-color="#36d68e"/><stop offset="53.88%" stop-color="#62dd71"/><stop offset="55.43%" stop-color="#8bdf5a"/><stop offset="57.75%" stop-color="#aed745"/><stop offset="67.83%" stop-color="#edb31f"/><stop offset="75.58%" stop-color="#f8a70c"/><stop offset="99.61%" stop-color="#ff9600"/></linearGradient>
<linearGradient id="d57"><stop offset="0.39%" stop-color="#26d19b"/><stop offset="6.59%" stop-color="#71de69"/><stop offset="7.36%" stop-color="#afd645"/><stop offset="9.69%" stop-color="#91de56"/><stop offset="15.12%" stop-color="#1dcfa4"/><stop offset="18.22%" stop-color="#10c3c5"/><stop offset="28.29%" stop-color="#13a6eb"/><stop offset="45.35%" stop-color="#13a5eb"/><stop offset="50.78%" stop-color="#10bad4"/><stop offset="52.33%" stop-color="#19ccab"/><stop offset="53.1%" stop-color="#36d68e"/><stop offset="53.88%" stop-color="#62dd71"/><stop offset="55.43%" stop-color="#8bdf5a"/><stop offset="57.75%" stop-color="#aed745"/><stop offset="67.83%" stop-color="#edb31f"/><stop offset="75.58%" stop-color="#f8a70c"/><stop offset="99.61%" stop-color="#ff9600"/></linearGradient>
<linearGradient id="d58"><stop offset="0.39%" stop-color="#29d299"/><stop offset="5.04%" stop-color="#69de6d"/><stop offset="5.81%" stop-color="#afd645"/><stop offset="9.69%" stop-color="#80e060"/><stop offset="13.57%" stop-color="#28d299"/><stop offset="16.67%" stop-color="#10c6bd"/><stop offset="26.74%" stop-color="#12a9e9"/><stop offset="43.02%" stop-color="#14a2ec"/><stop offset="49.22%" stop-color="#10b3dd"/><stop offset="50.78%" stop-color="#10bad4"/><stop offset="52.33%" stop-color="#19ccab"/><stop offset="53.1%" stop-color="#36d68e"/><stop offset="53.88%" stop-color="#62dd71"/><stop offset="55.43%" stop-color="#8bdf5a"/><stop offset="57.75%" stop-color="#aed745"/><stop offset="67.83%" stop-color="#edb31f"/><stop offset="75.58%" stop-color="#f8a70c"/><stop offset="99.61%" stop-color="#ff9600"/></linearGradient>
<linearGradient id="d59"><stop offset="0.39%" stop-color="#2dd396"/><stop offset="3.49%" stop-color="#5ddc74"/><stop offset="4.26%" stop-color="#afd645"/><stop offset="8.91%" stop-color="#7bdf63"/><stop offset="12.79%" stop-color="#25d19c"/><stop offset="16.67%" stop-color="#10c4c3"/><stop offset="27.52%" stop-color="#13a7eb"/><stop offset="44.57%" stop-color="#13a4eb"/><stop offset="50.78%" stop-color="#10bad4"/><stop offset="52.33%" stop-color="#19ccab"/><stop offset="53.1%" stop-color="#36d68e"/><stop offset="53.88%" stop-color="#62dd71"/><stop offset="55.43%" stop-color="#8bdf5a"/><stop offset="57.75%" stop-color="#aed745"/><stop offset="67.83%" stop-color="#edb31f"/><stop offset="75.58%" stop-color="#f8a70c"/><stop offset="99.61%" stop-color="#ff9600"/></linearGradient>
<linearGradient id="d60"><stop offset="0.39%" stop-color="#31d493"/><stop offset="1.94%" stop-color="#4cda7e"/><stop offset="2.71%" stop-color="#afd645"/><stop offset="8.14%" stop-color="#70de69"/><stop offset="12.02%" stop-color="#22d09e"/><stop offset="16.67%" stop-color="#10c2c7"/><stop offset="28.29%" stop-color="#13a5eb"/><stop offset="45.35%" stop-color="#13a5eb"/><stop offset="50.78%" stop-color="#10bad4"/><stop offset="52.33%" stop-color="#19ccab"/><stop offset="53.1%" stop-color="#36d68e"/><stop offset="53.88%" stop-color="#62dd71"/><stop offset="55.43%" stop-color="#8bdf5a"/><stop offset="57.75%" stop-color="#aed745"/><stop offset="67.83%" stop-color="#edb31f"/><stop offset="75.58%" stop-color="#f8a70c"/><stop offset="99.61%" stop-color="#ff9600"/></linearGradient>
<linearGradient id="d61"><stop offset="0.39%" stop-color="#34d590"/><stop offset="1.16%" stop-color="#b2d443"/><stop offset="6.59%" stop-color="#76df66"/><stop offset="10.47%" stop-color="#32d592"/><stop offset="12.02%" stop-color="#1ccea6"/><stop offset="15.89%" stop-color="#10c3c6"/><stop offset="27.52%" stop-color="#13a6eb"/><stop offset="45.35%" stop-color="#13a5eb"/><stop offset="50.78%" stop-color="#10bad4"/><stop offset="52.33%" stop-color="#19ccab"/><stop offset="53.1%" stop-color="#36d68e"/><stop offset="53.88%" stop-color="#62dd71"/><stop offset="55.43%" stop-color="#8bdf5a"/><stop offset="57.75%" stop-color="#aed745"/><stop offset="67.83%" stop-color="#edb31f"/><stop offset="75.58%" stop-color="#f8a70c"/><stop offset="99.61%" stop-color="#ff9600"/></linearGradient>
<linearGradient id="e0"><stop offset="0.39%" stop-color="#1dcfa4"/><stop offset="1.16%" stop-color="#2ed495"/><stop offset="2.71%" stop-color="#6bde6c"/><stop offset="3.49%" stop-color="#64dd70"/><stop offset="5.04%" stop-color="#31d493"/><stop offset="7.36%" stop-color="#27d29a"/><stop offset="13.57%" stop-color="#21d09f"/><stop offset="14.34%" stop-color="#29d299"/><stop offset="15.89%" stop-color="#5edc73"/><stop offset="19.77%" stop-color="#92de56"/><stop offset="29.07%" stop-color="#afd645"/><stop offset="46.12%" stop-color="#b1d444"/><stop offset="56.2%" stop-color="#9edd4f"/><stop offset="60.08%" stop-color="#88df5b"/><stop offset="63.18%" stop-color="#56db78"/><stop offset="64.73%" stop-color="#21d09f"/><stop offset="65.5%" stop-color="#18ccac"/><stop offset="70.16%" stop-color="#18ccac"/><stop offset="70.93%" stop-color="#10c3c5"/><stop offset="80.23%" stop-color="#11ace5"/><stop offset="99.61%" stop-color="#13a4eb"/></linearGradient>
<linearGradient id="e1"><stop offset="0.39%" stop-color="#1ccea5"/><stop offset="1.16%" stop-color="#2bd397"/><stop offset="2.71%" stop-color="#67dd6e"/><stop offset="3.49%" stop-color="#60dd72"/><stop offset="5.04%" stop-color="#2cd396"/><stop offset="7.36%" stop-color="#23d19e"/><stop offset="13.57%" stop-color="#1fcfa2"/><stop offset="14.34%" stop-color="#27d29b"/><stop offset="15.89%" stop-color="#5bdc75"/><stop offset="18.99%" stop-color="#8adf5a"/><stop offset="27.52%" stop-color="#add746"/><stop offset="46.9%" stop-color="#b1d544"/><stop offset="56.98%" stop-color="#9add51"/><stop offset="60.08%" stop-color="#88df5c"/><stop offset="62.4%" stop-color="#66dd6f"/><stop offset="64.73%" stop-color="#1fd0a1"/><stop offset="65.5%" stop-color="#17ccad"/><stop offset="70.16%" stop-color="#17ccad"/><stop offset="70.93%" stop-color="#10c3c5"/><stop offset="80.23%" stop-color="#11ace5"/><stop offset="99.61%" stop-color="#13a4eb"/></linearGradient>
<linearGradient id="e2"><stop offset="0.39%" stop-color="#1ccea6"/><stop offset="1.16%" stop-color="#29d299"/><stop offset="1.94%" stop-color="#4bda7f"/><stop offset="2.71%" stop-color="#63dd70"/><stop offset="3.49%" stop-color="#5cdc75"/><stop offset="5.04%" stop-color="#28d299"/><stop offset="7.36%" stop-color="#20d0a1"/><stop offset="14.34%" stop-color="#21d09f"/><stop offset="15.89%" stop-color="#55db78"/><stop offset="18.99%" stop-color="#88df5b"/><stop offset="28.29%" stop-color="#aed746"/><stop offset="49.22%" stop-color="#aed645"/><stop offset="58.53%" stop-color="#92de55"/><stop offset="62.4%" stop-color="#63dd70"/><stop offset="64.73%" stop-color="#1ecfa4"/><stop offset="66.28%" stop-color="#17cbae"/><stop offset="70.16%" stop-color="#17cbae"/><stop offset="70.93%" stop-color="#10c3c5"/><stop offset="80.23%" stop-color="#11ace5"/><stop offset="99.61%" stop-color="#13a4eb"/></linearGradient>
<linearGradient id="e3"><stop offset="0.39%" stop-color="#1bcea7"/><stop offset="1.16%" stop-color="#26d29b"/><stop offset="1.94%" stop-color="#48da80"/><stop offset="2.71%" stop-color="#60dd72"/><stop offset="3.49%" stop-color="#58dc77"/><stop offset="5.04%" stop-color="#24d19d"/><stop offset="14.34%" stop-color="#1dcfa4"/><stop offset="16.67%" stop-color="#63dd71"/><stop offset="20.54%" stop-color="#92de56"/><stop offset="30.62%" stop-color="#afd645"/><stop offset="50.78%" stop-color="#acd847"/><stop offset="59.3%" stop-color="#89df5b"/><stop offset="62.4%" stop-color="#5cdc74"/><stop offset="63.95%" stop-color="#2ad298"/><stop offset="65.5%" stop-color="#16cbaf"/><stop offset="69.38%" stop-color="#18ccac"/><stop offset="70.16%" stop-color="#10c5c0"/><stop offset="80.23%" stop-color="#11ace5"/><stop offset="99.61%" stop-color="#13a4eb"/></linearGradient>
<linearGradient id="e4"><stop offset="0.39%" stop-color="#1bcda8"/><stop offset="1.16%" stop-color="#25d19c"/><stop offset="2.71%" stop-color="#5ddc74"/><stop offset="3.49%" stop-color="#55db79"/><stop offset="5.04%" stop-color="#20d0a0"/><stop offset="14.34%" stop-color="#19cdaa"/><stop offset="15.12%" stop-color="#25d19c"/><stop offset="16.67%" stop-color="#58dc77"/><stop offset="19.77%" stop-color="#88df5b"/><stop offset="29.07%" stop-color="#acd847"/><stop offset="50%" stop-color="#abd947"/><stop offset="58.53%" stop-color="#8bdf5a"/><stop offset="61.63%" stop-color="#61dd72"/><stop offset="63.95%" stop-color="#1fd0a1"/><stop offset="64.73%" stop-color="#16cbaf"/><stop offset="69.38%" stop-color="#1ccea6"/><stop offset="70.16%" stop-color="#10c5c0"/><stop offset="80.23%" stop-color="#11ace5"/><stop offset="99.61%" stop-color="#13a4eb"/></linearGradient>
<linearGradient id="e5"><stop offset="0.39%" stop-color="#1bcda8"/><stop offset="1.16%" stop-color="#23d19d"/><stop offset="2.71%" stop-color="#5adc75"/><stop offset="3.49%" stop-color="#52db7a"/><stop offset="5.04%" stop-color="#1fcfa2"/><stop offset="14.34%" stop-color="#18ccad"/><stop offset="15.12%" stop-color="#1dcea5"/><stop offset="17.44%" stop-color="#60dd72"/><stop offset="21.32%" stop-color="#91de56"/><stop offset="32.17%" stop-color="#aed746"/><stop offset="50.78%" stop-color="#a7db4a"/><stop offset="58.53%" stop-color="#83e05e"/><stop offset="61.63%" stop-color="#54db79"/><stop offset="63.18%" stop-color="#27d29b"/><stop offset="64.73%" stop-color="#17cbae"/><stop offset="68.6%" stop-color="#1fd0a1"/><stop offset="69.38%" stop-color="#10c7bb"/><stop offset="79.46%" stop-color="#11ade4"/><stop offset="99.61%" stop-color="#13a4eb"/></linearGradient>
<linearGradient id="e6"><stop offset="0.39%" stop-color="#1bcda8"/><stop offset="1.16%" stop-color="#22d19e"/><stop offset="2.71%" stop-color="#59dc77"/><stop offset="3.49%" stop-color="#50db7c"/><stop offset="5.04%" stop-color="#1ecfa3"/><stop offset="15.12%" stop-color="#15cbb0"/><stop offset="15.89%" stop-color="#1fcfa2"/><stop offset="18.22%" stop-color="#62dd71"/><stop offset="22.09%" stop-color="#90de56"/><stop offset="32.95%" stop-color="#add746"/><stop offset="50%" stop-color="#a5dc4b"/><stop offset="57.75%" stop-color="#81e060"/><stop offset="60.85%" stop-color="#55db79"/><stop offset="63.18%" stop-color="#1dcfa4"/><stop offset="64.73%" stop-color="#18ccac"/><stop offset="67.83%" stop-color="#27d29a"/><stop offset="68.6%" stop-color="#12c9b6"/><stop offset="79.46%" stop-color="#11ade4"/><stop offset="99.61%" stop-color="#13a4eb"/></linearGradient>
<linearGradient id="e7"><stop offset="0.39%" stop-color="#1acda8"/><stop offset="1.16%" stop-color="#22d19e"/><stop offset="2.71%" stop-color="#57dc77"/><stop offset="3.49%" stop-color="#4edb7d"/><stop offset="4.26%" stop-color="#2fd494"/><stop offset="5.04%" stop-color="#1dcea5"/><stop offset="15.89%" stop-color="#15cbb0"/><stop offset="16.67%" stop-color="#1fd0a1"/><stop offset="18.99%" stop-color="#62dd71"/><stop offset="22.87%" stop-color="#8fde57"/><stop offset="34.5%" stop-color="#acd847"/><stop offset="48.45%" stop-color="#a4dc4b"/><stop offset="56.2%" stop-color="#85e05d"/><stop offset="60.08%" stop-color="#52db7a"/><stop offset="62.4%" stop-color="#1ecfa3"/><stop offset="63.95%" stop-color="#19ccab"/><stop offset="66.28%" stop-color="#21d09f"/><stop offset="67.83%" stop-color="#45d983"/><stop offset="68.6%" stop-color="#12c9b6"/><stop offset="79.46%" stop-color="#11ade4"/><stop offset="99.61%" stop-color="#13a4eb"/></linearGradient>
<linearGradient id="e8"><stop offset="0.39%" stop-color="#1bcda8"/><stop offset="1.16%" stop-color="#22d19e"/><stop offset="2.71%" stop-color="#57dc77"/><stop offset="3.49%" stop-color="#4cda7e"/><stop offset="4.26%" stop-color="#2dd396"/><stop offset="5.04%" stop-color="#1ccea6"/><stop offset="15.89%" stop-color="#11c8b7"/><stop offset="17.44%" stop-color="#1ecfa2"/><stop offset="19.77%" stop-color="#5edc73"/><stop offset="24.42%" stop-color="#91de56"/><stop offset="36.82%" stop-color="#a9da48"/><stop offset="48.45%" stop-color="#9ddd4f"/><stop offset="55.43%" stop-color="#80e060"/><stop offset="59.3%" stop-color="#4bda7e"/><stop offset="61.63%" stop-color="#1ecfa3"/><stop offset="63.18%" stop-color="#19cdaa"/><stop offset="65.5%" stop-color="#26d29b"/><stop offset="67.05%" stop-color="#4fdb7c"/><stop offset="67.83%" stop-color="#15cab1"/><stop offset="77.91%" stop-color="#11b0e1"/><stop offset="98.06%" stop-color="#13a4eb"/><stop offset="99.61%" stop-color="#13a4eb"/></linearGradient>
<linearGradient id="e9"><stop offset="0.39%" stop-color="#1bcda8"/><stop offset="1.16%" stop-color="#23d19e"/><stop offset="2.71%" stop-color="#57dc78"/><stop offset="3.49%" stop-color="#4bda7e"/><stop offset="4.26%" stop-color="#2bd398"/><stop offset="5.81%" stop-color="#17ccad"/><stop offset="16.67%" stop-color="#10c7bb"/><stop offset="18.22%" stop-color="#1ccea6"/><stop offset="21.32%" stop-color="#64dd70"/><stop offset="25.97%" stop-color="#91de56"/><stop offset="39.92%" stop-color="#a5dc4a"/><stop offset="53.1%" stop-color="#86df5d"/><stop offset="57.75%" stop-color="#52db7a"/><stop offset="60.08%" stop-color="#23d19e"/><stop offset="61.63%" stop-color="#18ccac"/><stop offset="63.95%" stop-color="#1fd0a1"/><stop offset="65.5%" stop-color="#3dd789"/><stop offset="66.28%" stop-color="#57dc77"/><stop offset="67.05%" stop-color="#19ccab"/><stop offset="74.81%" stop-color="#10b9d6"/><stop offset="86.43%" stop-color="#13a6eb"/><stop offset="99.61%" stop-color="#13a4eb"/></linearGradient>
<linearGradient id="e10"><stop offset="0.39%" stop-color="#1bcea7"/><stop offset="1.16%" stop-color="#24d19d"/><stop offset="2.71%" stop-color="#57dc78"/><stop offset="3.49%" stop-color="#4ada7f"/><stop offset="4.26%" stop-color="#29d299"/><stop offset="5.81%" stop-color="#16cbaf"/><stop offset="18.22%" stop-color="#10c6bd"/><stop offset="19.77%" stop-color="#20d0a1"/><stop offset="22.09%" stop-color="#5bdc75"/><stop offset="26.74%" stop-color="#8adf5a"/><stop offset="38.37%" stop-color="#9edd4e"/><stop offset="50.78%" stop-color="#88df5c"/><stop offset="56.2%" stop-color="#53db7a"/><stop offset="59.3%" stop-color="#1fcfa2"/><stop offset="61.63%" stop-color="#1acda8"/><stop offset="63.18%" stop-color="#21d09f"/><stop offset="64.73%" stop-color="#42d984"/><stop offset="65.5%" stop-color="#5edc73"/><stop offset="66.28%" stop-color="#1ecfa4"/><stop offset="70.93%" stop-color="#10c3c5"/><stop offset="80.23%" stop-color="#11ace5"/><stop offset="99.61%" stop-color="#13a4eb"/></linearGradient>
<linearGradient id="e11"><stop offset="0.39%" stop-color="#1ccea6"/><stop offset="1.16%" stop-color="#25d19c"/><stop offset="2.71%" stop-color="#56dc78"/><stop offset="3.49%" stop-color="#49da80"/><stop offset="4.26%" stop-color="#27d29a"/><stop offset="5.81%" stop-color="#15cbb0"/><stop offset="18.99%" stop-color="#10c3c5"/><stop offset="21.32%" stop-color="#23d19e"/><stop offset="23.64%" stop-color="#59dc76"/><stop offset="28.29%" stop-color="#86df5d"/><stop offset="36.82%" stop-color="#97de53"/><stop offset="48.45%" stop-color="#88df5b"/><stop offset="54.65%" stop-color="#52db7a"/><stop offset="57.75%" stop-color="#1fd0a1"/><stop offset="60.08%" stop-color="#19ccab"/><stop offset="62.4%" stop-color="#23d19e"/><stop offset="63.95%" stop-color="#47da81"/><stop offset="64.73%" stop-color="#63dd70"/><stop offset="65.5%" stop-color="#28d299"/><stop offset="69.38%" stop-color="#10c7bb"/><stop offset="79.46%" stop-color="#11aee3"/><stop offset="99.61%" stop-color="#13a5eb"/></linearGradient>
<linearGradient id="e12"><stop offset="0.39%" stop-color="#1dcea5"/><stop offset="1.16%" stop-color="#26d29b"/><stop offset="2.71%" stop-color="#56dc78"/><stop offset="3.49%" stop-color="#48da80"/><stop offset="4.26%" stop-color="#25d19c"/><stop offset="5.81%" stop-color="#14cab2"/><stop offset="19.77%" stop-color="#10c1c9"/><stop offset="21.32%" stop-color="#11c8b7"/><stop offset="22.87%" stop-color="#20d0a0"/><stop offset="25.97%" stop-color="#60dd72"/><stop offset="32.17%" stop-color="#89df5b"/><stop offset="43.02%" stop-color="#8ddf59"/><stop offset="48.45%" stop-color="#77df65"/><stop offset="53.1%" stop-color="#4edb7d"/><stop offset="56.2%" stop-color="#1ecfa2"/><stop offset="58.53%" stop-color="#17ccad"/><stop offset="61.63%" stop-color="#24d19c"/><stop offset="63.18%" stop-color="#49da7f"/><stop offset="64.73%" stop-color="#8bdf5a"/><stop offset="65.5%" stop-color="#28d299"/><stop offset="69.38%" stop-color="#10c7bb"/><stop offset="79.46%" stop-color="#11aee3"/><stop offset="99.61%" stop-color="#13a5eb"/></linearGradient>
<linearGradient id="e13"><stop offset="0.39%" stop-color="#1ecfa3"/><stop offset="1.16%" stop-color="#28d299"/><stop offset="2.71%" stop-color="#56dc78"/><stop offset="3.49%" stop-color="#47da81"/><stop offset="4.26%" stop-color="#24d19d"/><stop offset="5.81%" stop-color="#13cab3"/><stop offset="18.99%" stop-color="#10c0cb"/><stop offset="22.09%" stop-color="#10c2c7"/><stop offset="25.19%" stop-color="#25d19c"/><stop offset="29.07%" stop-color="#63dd70"/><stop offset="36.05%" stop-color="#82e05f"/><stop offset="43.8%" stop-color="#7be063"/><stop offset="50.78%" stop-color="#4ddb7d"/><stop offset="53.88%" stop-color="#20d0a0"/><stop offset="56.98%" stop-color="#16cbaf"/><stop offset="60.85%" stop-color="#25d19c"/><stop offset="62.4%" stop-color="#4bda7e"/><stop offset="63.95%" stop-color="#8cdf59"/><stop offset="64.73%" stop-color="#37d68d"/><stop offset="67.05%" stop-color="#19ccab"/><stop offset="74.81%" stop-color="#10b9d5"/><stop offset="87.21%" stop-color="#12a7ea"/><stop offset="99.61%" stop-color="#13a6eb"/></linearGradient>
<linearGradient id="e14"><stop offset="0.39%" stop-color="#1fcfa2"/><stop offset="1.16%" stop-color="#2ad298"/><stop offset="2.71%" stop-color="#56dc78"/><stop offset="3.49%" stop-color="#47da81"/><stop offset="4.26%" stop-color="#23d19e"/><stop offset="5.81%" stop-color="#12c9b4"/><stop offset="18.22%" stop-color="#10becd"/><stop offset="23.64%" stop-color="#10bfcc"/><stop offset="26.74%" stop-color="#1ccea6"/><stop offset="32.17%" stop-color="#5edc74"/><stop offset="39.92%" stop-color="#6dde6b"/><stop offset="46.9%" stop-color="#54db79"/><stop offset="52.33%" stop-color="#1bcea7"/><stop offset="54.65%" stop-color="#14cab3"/><stop offset="60.08%" stop-color="#25d19c"/><stop offset="61.63%" stop-color="#4bda7e"/><stop offset="63.18%" stop-color="#8cdf59"/><stop offset="63.95%" stop-color="#48da80"/><stop offset="66.28%" stop-color="#1ecfa4"/><stop offset="70.93%" stop-color="#10c3c5"/><stop offset="80.23%" stop-color="#11aee4"/><stop offset="99.61%" stop-color="#13a6eb"/></linearGradient>
<linearGradient id="e15"><stop offset="0.39%" stop-color="#20d0a1"/><stop offset="1.16%" stop-color="#2cd397"/><stop offset="2.71%" stop-color="#56dc78"/><stop offset="3.49%" stop-color="#46da81"/><stop offset="4.26%" stop-color="#22d19e"/><stop offset="5.81%" stop-color="#12c9b5"/><stop offset="17.44%" stop-color="#10bece"/><stop offset="26.74%" stop-color="#10c2c7"/><stop offset="31.4%" stop-color="#23d19d"/><stop offset="36.82%" stop-color="#49da7f"/><stop offset="42.25%" stop-color="#47da81"/><stop offset="50.78%" stop-color="#12c9b5"/><stop offset="58.53%" stop-color="#1ecfa3"/><stop offset="60.08%" stop-color="#35d58f"/><stop offset="61.63%" stop-color="#6ade6d"/><stop offset="62.4%" stop-color="#8ddf59"/><stop offset="63.18%" stop-color="#59dc76"/><stop offset="66.28%" stop-color="#1ecfa4"/><stop offset="70.93%" stop-color="#10c3c5"/><stop offset="80.23%" stop-color="#11aee3"/><stop offset="99.61%" stop-color="#13a7eb"/></linearGradient>
<linearGradient id="e16"><stop offset="0.39%" stop-color="#21d09f"/><stop offset="1.16%" stop-color="#2dd395"/><stop offset="2.71%" stop-color="#56dc78"/><stop offset="3.49%" stop-color="#47da81"/><stop offset="4.26%" stop-color="#21d09f"/><stop offset="5.81%" stop-color="#11c9b6"/><stop offset="17.44%" stop-color="#10bdcf"/><stop offset="29.84%" stop-color="#10c0ca"/><stop offset="36.82%" stop-color="#1dcea5"/><stop offset="44.57%" stop-color="#18ccac"/><stop offset="48.45%" stop-color="#10c8b8"/><stop offset="57.75%" stop-color="#1ecfa3"/><stop offset="59.3%" stop-color="#37d68e"/><stop offset="60.85%" stop-color="#6cde6b"/><stop offset="61.63%" stop-color="#8fde57"/><stop offset="62.4%" stop-color="#6bde6c"/><stop offset="66.28%" stop-color="#1ecfa4"/><stop offset="70.93%" stop-color="#10c3c5"/><stop offset="80.23%" stop-color="#11afe3"/><stop offset="99.61%" stop-color="#12a7ea"/></linearGradient>
<linearGradient id="e17"><stop offset="0.39%" stop-color="#24d19d"/><stop offset="1.16%" stop-color="#2fd494"/><stop offset="2.71%" stop-color="#57dc78"/><stop offset="3.49%" stop-color="#47da81"/><stop offset="4.26%" stop-color="#21d09f"/><stop offset="5.81%" stop-color="#10c8b7"/><stop offset="17.44%" stop-color="#10bcd0"/><stop offset="39.15%" stop-color="#10c5c1"/><stop offset="56.2%" stop-color="#1bcea7"/><stop offset="57.75%" stop-color="#28d29a"/><stop offset="59.3%" stop-color="#50db7b"/><stop offset="60.85%" stop-color="#89df5b"/><stop offset="66.28%" stop-color="#1ecfa4"/><stop offset="70.93%" stop-color="#10c3c5"/><stop offset="80.23%" stop-color="#11afe2"/><stop offset="99.61%" stop-color="#12a8ea"/></linearGradient>
<linearGradient id="e18"><stop offset="0.39%" stop-color="#27d29a"/><stop offset="1.16%" stop-color="#32d492"/><stop offset="2.71%" stop-color="#57dc77"/><stop offset="3.49%" stop-color="#47da81"/><stop offset="4.26%" stop-color="#20d0a0"/><stop offset="5.81%" stop-color="#10c8b8"/><stop offset="16.67%" stop-color="#10bcd1"/><stop offset="37.6%" stop-color="#10c3c5"/><stop offset="54.65%" stop-color="#19cdaa"/><stop offset="56.98%" stop-color="#2ad298"/><stop offset="58.53%" stop-color="#54db79"/><stop offset="60.08%" stop-color="#95de54"/><stop offset="63.95%" stop-color="#48da80"/><stop offset="66.28%" stop-color="#1ecfa4"/><stop offset="70.93%" stop-color="#10c3c5"/><stop offset="80.23%" stop-color="#11b0e1"/><stop offset="99.61%" stop-color="#12a8e9"/></linearGradient>
<linearGradient id="e19"><stop offset="0.39%" stop-color="#2ad398"/><stop offset="1.16%" stop-color="#34d590"/><stop offset="2.71%" stop-color="#58dc77"/><stop offset="3.49%" stop-color="#47da81"/><stop offset="4.26%" stop-color="#20d0a0"/><stop offset="5.81%" stop-color="#10c8b9"/><stop offset="16.67%" stop-color="#10bbd2"/><stop offset="38.37%" stop-color="#10c3c5"/><stop offset="53.88%" stop-color="#1acdaa"/><stop offset="55.43%" stop-color="#20d0a1"/><stop offset="56.98%" stop-color="#40d887"/><stop offset="59.3%" stop-color="#9bdd50"/><stop offset="61.63%" stop-color="#7ce062"/><stop offset="66.28%" stop-color="#1ecfa4"/><stop offset="70.93%" stop-color="#10c3c5"/><stop offset="80.23%" stop-color="#11b0e1"/><stop offset="99.61%" stop-color="#12a9e9"/></linearGradient>
<linearGradient id="e20"><stop offset="0.39%" stop-color="#2dd395"/><stop offset="1.16%" stop-color="#36d68e"/><stop offset="2.71%" stop-color="#59dc76"/><stop offset="3.49%" stop-color="#47da81"/><stop offset="4.26%" stop-color="#20d0a0"/><stop offset="5.81%" stop-color="#10c7ba"/><stop offset="16.67%" stop-color="#10bbd3"/><stop offset="38.37%" stop-color="#10c3c6"/><stop offset="53.1%" stop-color="#1acda9"/><stop offset="54.65%" stop-color="#22d09f"/><stop offset="56.2%" stop-color="#45d982"/><stop offset="58.53%" stop-color="#a1dd4d"/><stop offset="60.85%" stop-color="#89df5b"/><stop offset="66.28%" stop-color="#1ecfa4"/><stop offset="70.93%" stop-color="#10c3c5"/><stop offset="80.23%" stop-color="#11b1e0"/><stop offset="99.61%" stop-color="#12aae8"/></linearGradient>
<linearGradient id="e21"><stop offset="0.39%" stop-color="#31d493"/><stop offset="1.16%" stop-color="#39d68c"/><stop offset="2.71%" stop-color="#5adc76"/><stop offset="3.49%" stop-color="#47da80"/><stop offset="4.26%" stop-color="#20d0a0"/><stop offset="5.81%" stop-color="#10c7ba"/><stop offset="16.67%" stop-color="#10bad4"/><stop offset="38.37%" stop-color="#10c2c7"/><stop offset="52.33%" stop-color="#1bcda8"/><stop offset="53.88%" stop-color="#25d19c"/><stop offset="55.43%" stop-color="#4cda7e"/><stop offset="57.75%" stop-color="#a7db4a"/><stop offset="60.85%" stop-color="#89df5b"/><stop offset="66.28%" stop-color="#1ecfa4"/><stop offset="70.93%" stop-color="#10c4c5"/><stop offset="80.23%" stop-color="#11b1e0"/><stop offset="99.61%" stop-color="#12aae7"/></linearGradient>
<linearGradient id="e22"><stop offset="0.39%" stop-color="#34d590"/><stop offset="1.16%" stop-color="#3bd78a"/><stop offset="2.71%" stop-color="#5cdc75"/><stop offset="3.49%" stop-color="#48da80"/><stop offset="4.26%" stop-color="#20d0a0"/><stop offset="5.81%" stop-color="#10c7bb"/><stop offset="16.67%" stop-color="#10bad4"/><stop offset="38.37%" stop-color="#10c2c7"/><stop offset="50.78%" stop-color="#19cdaa"/><stop offset="53.1%" stop-color="#2ad298"/><stop offset="54.65%" stop-color="#54db79"/><stop offset="55.43%" stop-color="#75df66"/><stop offset="56.2%" stop-color="#afd645"/><stop offset="60.85%" stop-color="#89df5b"/><stop offset="66.28%" stop-color="#1ecfa4"/><stop offset="70.93%" stop-color="#10c4c5"/><stop offset="80.23%" stop-color="#11b1df"/><stop offset="99.61%" stop-color="#12abe7"/></linearGradient>
<linearGradient id="e23"><stop offset="0.39%" stop-color="#37d68e"/><stop offset="1.16%" stop-color="#3ed788"/><stop offset="2.71%" stop-color="#5ddc74"/><stop offset="3.49%" stop-color="#48da80"/><stop offset="4.26%" stop-color="#20d0a0"/><stop offset="5.81%" stop-color="#10c7bb"/><stop offset="16.67%" stop-color="#10b9d5"/><stop offset="38.37%" stop-color="#10c2c8"/><stop offset="50%" stop-color="#1acda9"/><stop offset="51.55%" stop-color="#21d09f"/><stop offset="53.1%" stop-color="#43d984"/><stop offset="54.65%" stop-color="#82e05f"/><stop offset="55.43%" stop-color="#b3d343"/><stop offset="60.08%" stop-color="#95de54"/><stop offset="63.95%" stop-color="#48da80"/><stop offset="66.28%" stop-color="#1ecfa4"/><stop offset="70.93%" stop-color="#10c4c5"/><stop offset="80.23%" stop-color="#11b2df"/><stop offset="99.61%" stop-color="#11ace6"/></linearGradient>
<linearGradient id="e24"><stop offset="0.39%" stop-color="#3ad78b"/><stop offset="1.16%" stop-color="#41d886"/><stop offset="2.71%" stop-color="#5fdc73"/><stop offset="3.49%" stop-color="#49da7f"/><stop offset="4.26%" stop-color="#20d0a0"/><stop offset="5.81%" stop-color="#10c7bb"/><stop offset="16.67%" stop-color="#10b9d5"/><stop offset="38.37%" stop-color="#10c2c8"/><stop offset="48.45%" stop-color="#18ccac"/><stop offset="50.78%" stop-color="#26d19c"/><stop offset="52.33%" stop-color="#4cda7d"/><stop offset="53.88%" stop-color="#8edf58"/><stop offset="54.65%" stop-color="#b8d040"/><stop offset="60.08%" stop-color="#95de54"/><stop offset="63.95%" stop-color="#48da80"/><stop offset="66.28%" stop-color="#1ecfa4"/><stop offset="70.93%" stop-color="#10c4c5"/><stop offset="80.23%" stop-color="#11b2de"/><stop offset="99.61%" stop-color="#11ace5"/></linearGradient>
<linearGradient id="e25"><stop offset="0.39%" stop-color="#3ed788"/><stop offset="1.16%" stop-color="#43d984"/><stop offset="2.71%" stop-color="#61dd72"/><stop offset="3.49%" stop-color="#4bda7e"/><stop offset="4.26%" stop-color="#21d09f"/><stop offset="5.81%" stop-color="#10c7ba"/><stop offset="16.67%" stop-color="#10b9d6"/><stop offset="38.37%" stop-color="#10c1c8"/><stop offset="47.67%" stop-color="#19ccab"/><stop offset="49.22%" stop-color="#1fd0a1"/><stop offset="50.78%" stop-color="#3ed888"/><stop offset="52.33%" stop-color="#7bdf63"/><stop offset="53.1%" stop-color="#c9c737"/><stop offset="60.85%" stop-color="#89df5b"/><stop offset="66.28%" stop-color="#1ecfa4"/><stop offset="70.93%" stop-color="#10c4c5"/><stop offset="80.23%" stop-color="#10b3de"/><stop offset="99.61%" stop-color="#11ade5"/></linearGradient>
<linearGradient id="e26"><stop offset="0.39%" stop-color="#41d886"/><stop offset="1.16%" stop-color="#46da81"/><stop offset="2.71%" stop-color="#63dd71"/><stop offset="3.49%" stop-color="#4ddb7d"/><stop offset="4.26%" stop-color="#23d19e"/><stop offset="5.81%" stop-color="#10c8b9"/><stop offset="15.89%" stop-color="#10b9d5"/><stop offset="36.05%" stop-color="#10bfcc"/><stop offset="46.12%" stop-color="#16cbae"/><stop offset="48.45%" stop-color="#22d19e"/><stop offset="50%" stop-color="#49da80"/><stop offset="51.55%" stop-color="#8adf5a"/><stop offset="52.33%" stop-color="#d2c333"/><stop offset="56.2%" stop-color="#afd645"/><stop offset="60.85%" stop-color="#89df5b"/><stop offset="66.28%" stop-color="#1ecfa4"/><stop offset="70.93%" stop-color="#10c4c5"/><stop offset="80.23%" stop-color="#10b3dd"/><stop offset="99.61%" stop-color="#11ade4"/></linearGradient>
<linearGradient id="e27"><stop offset="0.39%" stop-color="#44d983"/><stop offset="1.16%" stop-color="#49da7f"/><stop offset="2.71%" stop-color="#66dd6f"/><stop offset="3.49%" stop-color="#50db7c"/><stop offset="4.26%" stop-color="#25d19c"/><stop offset="5.81%" stop-color="#10c8b8"/><stop offset="15.12%" stop-color="#10b9d5"/><stop offset="34.5%" stop-color="#10bece"/><stop offset="44.57%" stop-color="#14cab2"/><stop offset="47.67%" stop-color="#29d299"/><stop offset="49.22%" stop-color="#56db78"/><stop offset="50%" stop-color="#78df64"/><stop offset="50.78%" stop-color="#edb31f"/><stop offset="53.88%" stop-color="#c1cc3c"/><stop offset="60.85%" stop-color="#89df5b"/><stop offset="66.28%" stop-color="#1ecfa4"/><stop offset="70.93%" stop-color="#10c4c5"/><stop offset="80.23%" stop-color="#10b3dd"/><stop offset="99.61%" stop-color="#11ade4"/></linearGradient>
<linearGradient id="e28"><stop offset="0.39%" stop-color="#47da81"/><stop offset="1.16%" stop-color="#4cda7d"/><stop offset="2.71%" stop-color="#68dd6d"/><stop offset="3.49%" stop-color="#52db7a"/><stop offset="4.26%" stop-color="#28d29a"/><stop offset="5.81%" stop-color="#10c8b7"/><stop offset="14.34%" stop-color="#10bad4"/><stop offset="32.17%" stop-color="#10bcd1"/><stop offset="42.25%" stop-color="#10c8b9"/><stop offset="46.12%" stop-color="#20d0a0"/><stop offset="47.67%" stop-color="#48da80"/><stop offset="49.22%" stop-color="#8adf5a"/><stop offset="50%" stop-color="#f3ad13"/><stop offset="53.1%" stop-color="#c9c737"/><stop offset="60.85%" stop-color="#89df5b"/><stop offset="66.28%" stop-color="#1ecfa4"/><stop offset="70.93%" stop-color="#10c4c5"/><stop offset="80.23%" stop-color="#10b4dd"/><stop offset="99.61%" stop-color="#11aee3"/></linearGradient>
<linearGradient id="e29"><stop offset="0.39%" stop-color="#4ada7f"/><stop offset="1.16%" stop-color="#4fdb7c"/><stop offset="2.71%" stop-color="#6bde6c"/><stop offset="3.49%" stop-color="#55db79"/><stop offset="4.26%" stop-color="#2bd397"/><stop offset="5.04%" stop-color="#18ccac"/><stop offset="8.91%" stop-color="#10c2c7"/><stop offset="21.32%" stop-color="#10b7d9"/><stop offset="39.15%" stop-color="#10c4c4"/><stop offset="44.57%" stop-color="#1dcea5"/><stop offset="46.12%" stop-color="#3cd78a"/><stop offset="47.67%" stop-color="#7bdf63"/><stop offset="48.45%" stop-color="#f9a409"/><stop offset="50.78%" stop-color="#edb31f"/><stop offset="53.88%" stop-color="#c1cc3c"/><stop offset="60.85%" stop-color="#89df5b"/><stop offset="66.28%" stop-color="#1ecfa4"/><stop offset="70.93%" stop-color="#10c4c5"/><stop offset="80.23%" stop-color="#10b4dd"/><stop offset="99.61%" stop-color="#11aee3"/></linearGradient>
<linearGradient id="e30"><stop offset="0.39%" stop-color="#4ddb7d"/><stop offset="1.16%" stop-color="#52db7a"/><stop offset="2.71%" stop-color="#6ede6a"/><stop offset="3.49%" stop-color="#58dc77"/><stop offset="4.26%" stop-color="#2dd395"/><stop offset="5.04%" stop-color="#19ccab"/><stop offset="8.91%" stop-color="#10c2c7"/><stop offset="21.32%" stop-color="#10b7d8"/><stop offset="39.15%" stop-color="#10c5c1"/><stop offset="43.8%" stop-color="#1fd0a1"/><stop offset="45.35%" stop-color="#4ada7f"/><stop offset="46.9%" stop-color="#8ede58"/><stop offset="47.67%" stop-color="#fc9f06"/><stop offset="50.78%" stop-color="#edb31f"/><stop offset="53.88%" stop-color="#c1cc3c"/><stop offset="60.85%" stop-color="#89df5b"/><stop offset="66.28%" stop-color="#1ecfa4"/><stop offset="70.93%" stop-color="#10c4c5"/><stop offset="80.23%" stop-color="#10b4dd"/><stop offset="99.61%" stop-color="#11aee3"/></linearGradient>
<linearGradient id="e31"><stop offset="0.39%" stop-color="#50db7c"/><stop offset="1.16%" stop-color="#55db79"/><stop offset="2.71%" stop-color="#71de69"/><stop offset="3.49%" stop-color="#5adc75"/><stop offset="4.26%" stop-color="#30d493"/><stop offset="5.04%" stop-color="#19cdaa"/><stop offset="8.91%" stop-color="#10c3c6"/><stop offset="20.54%" stop-color="#10b7d8"/><stop offset="37.6%" stop-color="#10c4c4"/><stop offset="41.47%" stop-color="#18ccac"/><stop offset="43.02%" stop-color="#28d299"/><stop offset="44.57%" stop-color="#5ddc74"/><stop offset="45.35%" stop-color="#82e05f"/><stop offset="46.12%" stop-color="#ff9600"/><stop offset="50%" stop-color="#f3ad13"/><stop offset="53.1%" stop-color="#c9c737"/><stop offset="60.85%" stop-color="#89df5b"/><stop offset="66.28%" stop-color="#1ecfa4"/><stop offset="70.93%" stop-color="#10c4c5"/><stop offset="80.23%" stop-color="#10b4dd"/><stop offset="99.61%" stop-color="#11aee3"/></linearGradient>
<linearGradient id="e32"><stop offset="0.39%" stop-color="#52db7a"/><stop offset="1.16%" stop-color="#58dc77"/><stop offset="2.71%" stop-color="#74df67"/><stop offset="3.49%" stop-color="#5ddc74"/><stop offset="4.26%" stop-color="#33d591"/><stop offset="5.04%" stop-color="#1acda8"/><stop offset="8.14%" stop-color="#10c5c2"/><stop offset="18.22%" stop-color="#10b8d7"/><stop offset="36.05%" stop-color="#10c3c6"/><stop offset="40.7%" stop-color="#1acda9"/><stop offset="41.47%" stop-color="#20d0a0"/><stop offset="43.02%" stop-color="#51db7b"/><stop offset="43.8%" stop-color="#74df67"/><stop offset="44.57%" stop-color="#ff9000"/><stop offset="49.22%" stop-color="#f7a80d"/><stop offset="51.55%" stop-color="#e1bb2a"/><stop offset="55.43%" stop-color="#b3d343"/><stop offset="60.08%" stop-color="#95de54"/><stop offset="63.95%" stop-color="#48da80"/><stop offset="66.28%" stop-color="#1ecfa4"/><stop offset="70.93%" stop-color="#10c4c5"/><stop offset="80.23%" stop-color="#10b4dd"/><stop offset="99.61%" stop-color="#11aee3"/></linearGradient>
<linearGradient id="e33"><stop offset="0.39%" stop-color="#55db79"/><stop offset="1.16%" stop-color="#5bdc75"/><stop offset="2.71%" stop-color="#77df65"/><stop offset="3.49%" stop-color="#61dd72"/><stop offset="4.26%" stop-color="#36d68e"/><stop offset="5.04%" stop-color="#1ccea7"/><stop offset="8.14%" stop-color="#10c5c1"/><stop offset="17.44%" stop-color="#10b8d6"/><stop offset="34.5%" stop-color="#10c3c6"/><stop offset="39.15%" stop-color="#18ccac"/><stop offset="40.7%" stop-color="#2dd396"/><stop offset="42.25%" stop-color="#67dd6e"/><stop offset="43.02%" stop-color="#8cdf59"/><stop offset="43.8%" stop-color="#ff8d00"/><stop offset="49.22%" stop-color="#f7a80d"/><stop offset="51.55%" stop-color="#e1bb2a"/><stop offset="55.43%" stop-color="#b3d343"/><stop offset="60.08%" stop-color="#95de54"/><stop offset="63.95%" stop-color="#48da80"/><stop offset="66.28%" stop-color="#1ecfa4"/><stop offset="70.93%" stop-color="#10c4c5"/><stop offset="80.23%" stop-color="#10b4dd"/><stop offset="99.61%" stop-color="#11aee3"/></linearGradient>
<linearGradient id="e34"><stop offset="0.39%" stop-color="#58dc77"/><stop offset="1.16%" stop-color="#5ddc74"/><stop offset="2.71%" stop-color="#7adf63"/><stop offset="3.49%" stop-color="#64dd70"/><stop offset="4.26%" stop-color="#3ad68b"/><stop offset="5.04%" stop-color="#1dcea5"/><stop offset="8.91%" stop-color="#10c4c4"/><stop offset="18.99%" stop-color="#10b8d6"/><stop offset="34.5%" stop-color="#10c5c2"/><stop offset="38.37%" stop-color="#1bcea7"/><stop offset="39.15%" stop-color="#25d19c"/><stop offset="40.7%" stop-color="#5cdc74"/><stop offset="41.47%" stop-color="#83e05e"/><stop offset="42.25%" stop-color="#ff8900"/><stop offset="48.45%" stop-color="#f9a409"/><stop offset="50.78%" stop-color="#edb31f"/><stop offset="53.88%" stop-color="#c1cc3c"/><stop offset="60.85%" stop-color="#89df5b"/><stop offset="66.28%" stop-color="#1ecfa4"/><stop offset="70.93%" stop-color="#10c4c5"/><stop offset="80.23%" stop-color="#10b4dd"/><stop offset="99.61%" stop-color="#11aee3"/></linearGradient>
<linearGradient id="e35"><stop offset="0.39%" stop-color="#5adc76"/><stop offset="1.16%" stop-color="#60dd72"/><stop offset="2.71%" stop-color="#7de062"/><stop offset="3.49%" stop-color="#67dd6e"/><stop offset="5.04%" stop-color="#1ecfa3"/><stop offset="8.91%" stop-color="#10c5c2"/><stop offset="18.22%" stop-color="#10b9d5"/><stop offset="32.95%" stop-color="#10c4c3"/><stop offset="36.82%" stop-color="#1acda9"/><stop offset="37.6%" stop-color="#20d0a0"/><stop offset="39.15%" stop-color="#53db7a"/><stop offset="39.92%" stop-color="#78df64"/><stop offset="40.7%" stop-color="#ff8900"/><stop offset="46.9%" stop-color="#fe9a02"/><stop offset="50%" stop-color="#f3ad13"/><stop offset="53.1%" stop-color="#c9c737"/><stop offset="60.85%" stop-color="#89df5b"/><stop offset="66.28%" stop-color="#1ecfa4"/><stop offset="70.93%" stop-color="#10c4c5"/><stop offset="80.23%" stop-color="#10b4dd"/><stop offset="99.61%" stop-color="#11aee3"/></linearGradient>
<linearGradient id="e36"><stop offset="0.39%" stop-color="#5cdc75"/><stop offset="1.16%" stop-color="#62dd71"/><stop offset="2.71%" stop-color="#80e060"/><stop offset="3.49%" stop-color="#6ade6c"/><stop offset="5.04%" stop-color="#1fd0a1"/><stop offset="8.91%" stop-color="#10c5c0"/><stop offset="17.44%" stop-color="#10bad4"/><stop offset="31.4%" stop-color="#10c4c4"/><stop offset="35.27%" stop-color="#19ccab"/><stop offset="36.05%" stop-color="#1ecfa3"/><stop offset="37.6%" stop-color="#4bda7e"/><stop offset="38.37%" stop-color="#6ede6a"/><stop offset="39.15%" stop-color="#ff8900"/><stop offset="45.35%" stop-color="#ff9300"/><stop offset="50%" stop-color="#f3ad13"/><stop offset="53.1%" stop-color="#c9c737"/><stop offset="60.85%" stop-color="#89df5b"/><stop offset="66.28%" stop-color="#1ecfa4"/><stop offset="70.93%" stop-color="#10c4c5"/><stop offset="80.23%" stop-color="#10b4dd"/><stop offset="99.61%" stop-color="#11aee3"/></linearGradient>
<linearGradient id="e37"><stop offset="0.39%" stop-color="#5ddc74"/><stop offset="1.16%" stop-color="#64dd70"/><stop offset="2.71%" stop-color="#81e05f"/><stop offset="3.49%" stop-color="#6dde6b"/><stop offset="5.04%" stop-color="#21d0a0"/><stop offset="8.91%" stop-color="#10c6bf"/><stop offset="16.67%" stop-color="#10bbd3"/><stop offset="29.84%" stop-color="#10c3c5"/><stop offset="33.72%" stop-color="#18ccad"/><stop offset="35.27%" stop-color="#2bd397"/><stop offset="36.82%" stop-color="#66dd6f"/><stop offset="37.6%" stop-color="#8bdf59"/><stop offset="38.37%" stop-color="#ff8900"/><stop offset="45.35%" stop-color="#ff9300"/><stop offset="50%" stop-color="#f3ad13"/><stop offset="53.1%" stop-color="#c9c737"/><stop offset="60.85%" stop-color="#89df5b"/><stop offset="66.28%" stop-color="#1ecfa4"/><stop offset="70.93%" stop-color="#10c4c5"/><stop offset="80.23%" stop-color="#10b4dd"/><stop offset="99.61%" stop-color="#11aee3"/></linearGradient>
<linearGradient id="e38"><stop offset="0.39%" stop-color="#5edc74"/><stop offset="1.16%" stop-color="#65dd70"/><stop offset="2.71%" stop-color="#82e05f"/><stop offset="3.49%" stop-color="#6fde6a"/><stop offset="5.04%" stop-color="#23d19e"/><stop offset="8.91%" stop-color="#10c6bd"/><stop offset="15.89%" stop-color="#10bbd2"/><stop offset="28.29%" stop-color="#10c3c6"/><stop offset="32.95%" stop-color="#1ccea7"/><stop offset="33.72%" stop-color="#27d29b"/><stop offset="35.27%" stop-color="#5fdc73"/><stop offset="36.05%" stop-color="#85df5d"/><stop offset="36.82%" stop-color="#ff8800"/><stop offset="44.57%" stop-color="#ff9000"/><stop offset="49.22%" stop-color="#f7a80d"/><stop offset="51.55%" stop-color="#e1bb2a"/><stop offset="55.43%" stop-color="#b3d343"/><stop offset="60.08%" stop-color="#95de54"/><stop offset="63.95%" stop-color="#48da80"/><stop offset="66.28%" stop-color="#1ecfa4"/><stop offset="70.93%" stop-color="#10c4c5"/><stop offset="80.23%" stop-color="#10b4dd"/><stop offset="99.61%" stop-color="#11aee3"/></linearGradient>
<linearGradient id="e39"><stop offset="0.39%" stop-color="#5ddc74"/><stop offset="1.16%" stop-color="#65dd6f"/><stop offset="2.71%" stop-color="#83e05e"/><stop offset="3.49%" stop-color="#70de69"/><stop offset="5.04%" stop-color="#25d19c"/><stop offset="8.91%" stop-color="#10c7bc"/><stop offset="15.89%" stop-color="#10bcd1"/><stop offset="27.52%" stop-color="#10c4c4"/><stop offset="31.4%" stop-color="#1acda8"/><stop offset="32.17%" stop-color="#22d19e"/><stop offset="33.72%" stop-color="#59dc76"/><stop offset="34.5%" stop-color="#80e060"/><stop offset="35.27%" stop-color="#ff8900"/><stop offset="44.57%" stop-color="#ff9000"/><stop offset="49.22%" stop-color="#f7a80d"/><stop offset="51.55%" stop-color="#e1bb2a"/><stop offset="55.43%" stop-color="#b3d343"/><stop offset="60.08%" stop-color="#95de54"/><stop offset="63.95%" stop-color="#48da80"/><stop offset="66.28%" stop-color="#1ecfa4"/><stop offset="70.93%" stop-color="#10c4c5"/><stop offset="80.23%" stop-color="#10b4dd"/><stop offset="99.61%" stop-color="#11aee3"/></linearGradient>
<linearGradient id="e40"><stop offset="0.39%" stop-color="#5ddc74"/><stop offset="1.16%" stop-color="#65dd6f"/><stop offset="2.71%" stop-color="#83e05e"/><stop offset="3.49%" stop-color="#71de69"/><stop offset="5.04%" stop-color="#27d29b"/><stop offset="8.14%" stop-color="#12c9b6"/><stop offset="14.34%" stop-color="#10bdcf"/><stop offset="25.97%" stop-color="#10c4c5"/><stop offset="29.84%" stop-color="#19cdaa"/><stop offset="30.62%" stop-color="#20d0a1"/><stop offset="32.17%" stop-color="#54db79"/><stop offset="32.95%" stop-color="#7adf64"/><stop offset="33.72%" stop-color="#ff8a00"/><stop offset="44.57%" stop-color="#ff9000"/><stop offset="49.22%" stop-color="#f7a80d"/><stop offset="51.55%" stop-color="#e1bb2a"/><stop offset="55.43%" stop-color="#b3d343"/><stop offset="60.08%" stop-color="#95de54"/><stop offset="63.95%" stop-color="#48da80"/><stop offset="66.28%" stop-color="#1ecfa4"/><stop offset="70.93%" stop-color="#10c4c5"/><stop offset="80.23%" stop-color="#10b4dd"/><stop offset="99.61%" stop-color="#11aee3"/></linearGradient>
<linearGradient id="e41"><stop offset="0.39%" stop-color="#5ddc74"/><stop offset="1.16%" stop-color="#65dd6f"/><stop offset="2.71%" stop-color="#84e05e"/><stop offset="3.49%" stop-color="#72de68"/><stop offset="5.04%" stop-color="#28d299"/><stop offset="7.36%" stop-color="#15cbb0"/><stop offset="13.57%" stop-color="#10becd"/><stop offset="25.19%" stop-color="#10c5c2"/><stop offset="29.07%" stop-color="#1fcfa2"/><stop offset="30.62%" stop-color="#50db7c"/><stop offset="31.4%" stop-color="#75df66"/><stop offset="32.17%" stop-color="#ff8b00"/><stop offset="44.57%" stop-color="#ff9000"/><stop offset="49.22%" stop-color="#f7a80d"/><stop offset="51.55%" stop-color="#e1bb2a"/><stop offset="55.43%" stop-color="#b3d343"/><stop offset="60.08%" stop-color="#95de54"/><stop offset="63.95%" stop-color="#48da80"/><stop offset="66.28%" stop-color="#1ecfa4"/><stop offset="70.93%" stop-color="#10c4c5"/><stop offset="80.23%" stop-color="#10b4dd"/><stop offset="99.61%" stop-color="#11aee3"/></linearGradient>
<linearGradient id="e42"><stop offset="0.39%" stop-color="#5ddc74"/><stop offset="1.16%" stop-color="#65dd6f"/><stop offset="2.71%" stop-color="#84e05e"/><stop offset="3.49%" stop-color="#72df68"/><stop offset="5.04%" stop-color="#2ad298"/><stop offset="6.59%" stop-color="#19cdaa"/><stop offset="12.79%" stop-color="#10c0ca"/><stop offset="23.64%" stop-color="#10c5c2"/><stop offset="27.52%" stop-color="#1ecfa3"/><stop offset="29.07%" stop-color="#4cda7d"/><stop offset="29.84%" stop-color="#70de69"/><stop offset="30.62%" stop-color="#ff8d00"/><stop offset="43.8%" stop-color="#ff8d00"/><stop offset="49.22%" stop-color="#f7a80d"/><stop offset="51.55%" stop-color="#e1bb2a"/><stop offset="55.43%" stop-color="#b3d343"/><stop offset="60.08%" stop-color="#95de54"/><stop offset="63.95%" stop-color="#48da80"/><stop offset="66.28%" stop-color="#1ecfa4"/><stop offset="70.93%" stop-color="#10c4c5"/><stop offset="80.23%" stop-color="#10b4dd"/><stop offset="99.61%" stop-color="#11aee3"/></linearGradient>
<linearGradient id="e43"><stop offset="0.39%" stop-color="#5ddc74"/><stop offset="1.16%" stop-color="#65dd6f"/><stop offset="2.71%" stop-color="#84e05e"/><stop offset="3.49%" stop-color="#73df68"/><stop offset="5.04%" stop-color="#2bd397"/><stop offset="6.59%" stop-color="#1acda9"/><stop offset="13.57%" stop-color="#10c0cb"/><stop offset="22.87%" stop-color="#10c6bd"/><stop offset="25.97%" stop-color="#1dcfa4"/><stop offset="27.52%" stop-color="#4ada7f"/><stop offset="28.29%" stop-color="#6dde6b"/><stop offset="29.07%" stop-color="#ff8e00"/><stop offset="43.8%" stop-color="#ff8d00"/><stop offset="49.22%" stop-color="#f7a80d"/><stop offset="51.55%" stop-color="#e1bb2a"/><stop offset="55.43%" stop-color="#b3d343"/><stop offset="60.08%" stop-color="#95de54"/><stop offset="63.95%" stop-color="#48da80"/><stop offset="66.28%" stop-color="#1ecfa4"/><stop offset="70.93%" stop-color="#10c4c5"/><stop offset="80.23%" stop-color="#10b4dd"/><stop offset="99.61%" stop-color="#11aee3"/></linearGradient>
<linearGradient id="e44"><stop offset="0.39%" stop-color="#5cdc74"/><stop offset="1.16%" stop-color="#65dd70"/><stop offset="2.71%" stop-color="#84e05e"/><stop offset="3.49%" stop-color="#73df68"/><stop offset="5.04%" stop-color="#2cd396"/><stop offset="6.59%" stop-color="#1acda8"/><stop offset="13.57%" stop-color="#10c1c9"/><stop offset="21.32%" stop-color="#10c7bc"/><stop offset="24.42%" stop-color="#1dcfa4"/><stop offset="25.97%" stop-color="#48da80"/><stop offset="27.52%" stop-color="#90de57"/><stop offset="28.29%" stop-color="#ff9000"/><stop offset="43.02%" stop-color="#ff8a00"/><stop offset="48.45%" stop-color="#f9a409"/><stop offset="50.78%" stop-color="#edb31f"/><stop offset="53.88%" stop-color="#c1cc3c"/><stop offset="60.85%" stop-color="#89df5b"/><stop offset="66.28%" stop-color="#1ecfa4"/><stop offset="70.93%" stop-color="#10c4c5"/><stop offset="80.23%" stop-color="#10b4dd"/><stop offset="99.61%" stop-color="#11aee3"/></linearGradient>
<linearGradient id="e45"><stop offset="0.39%" stop-color="#5cdc75"/><stop offset="1.16%" stop-color="#65dd70"/><stop offset="2.71%" stop-color="#84e05e"/><stop offset="3.49%" stop-color="#73df67"/><stop offset="5.04%" stop-color="#2dd395"/><stop offset="6.59%" stop-color="#1bcea7"/><stop offset="12.79%" stop-color="#10c2c7"/><stop offset="19.77%" stop-color="#10c7bb"/><stop offset="22.87%" stop-color="#1dcfa4"/><stop offset="24.42%" stop-color="#47da81"/><stop offset="25.97%" stop-color="#8edf58"/><stop offset="26.74%" stop-color="#ff9300"/><stop offset="43.02%" stop-color="#ff8a00"/><stop offset="48.45%" stop-color="#f9a409"/><stop offset="50.78%" stop-color="#edb31f"/><stop offset="53.88%" stop-color="#c1cc3c"/><stop offset="60.85%" stop-color="#89df5b"/><stop offset="66.28%" stop-color="#1ecfa4"/><stop offset="70.93%" stop-color="#10c4c5"/><stop offset="80.23%" stop-color="#10b4dd"/><stop offset="99.61%" stop-color="#11aee3"/></linearGradient>
<linearGradient id="e46"><stop offset="0.39%" stop-color="#5bdc75"/><stop offset="2.71%" stop-color="#84e05e"/><stop offset="3.49%" stop-color="#73df67"/><stop offset="5.04%" stop-color="#2ed495"/><stop offset="6.59%" stop-color="#1ccea7"/><stop offset="12.79%" stop-color="#10c3c5"/><stop offset="18.99%" stop-color="#11c9b6"/><stop offset="21.32%" stop-color="#1ecfa4"/><stop offset="22.87%" stop-color="#47da81"/><stop offset="24.42%" stop-color="#8ddf58"/><stop offset="25.19%" stop-color="#ff9700"/><stop offset="40.7%" stop-color="#ff8900"/><stop offset="46.9%" stop-color="#fe9a02"/><stop offset="50%" stop-color="#f3ad13"/><stop offset="53.1%" stop-color="#c9c737"/><stop offset="60.85%" stop-color="#89df5b"/><stop offset="66.28%" stop-color="#1ecfa4"/><stop offset="70.93%" stop-color="#10c4c5"/><stop offset="80.23%" stop-color="#10b4dd"/><stop offset="99.61%" stop-color="#11aee3"/></linearGradient>
<linearGradient id="e47"><stop offset="0.39%" stop-color="#5cdc75"/><stop offset="2.71%" stop-color="#84e05e"/><stop offset="3.49%" stop-color="#73df67"/><stop offset="5.04%" stop-color="#2fd494"/><stop offset="5.81%" stop-color="#1fd0a1"/><stop offset="12.79%" stop-color="#10c5c2"/><stop offset="18.22%" stop-color="#14cab1"/><stop offset="19.77%" stop-color="#1dcfa4"/><stop offset="21.32%" stop-color="#44d983"/><stop offset="22.87%" stop-color="#8adf5a"/><stop offset="23.64%" stop-color="#fd9d04"/><stop offset="36.82%" stop-color="#ff8800"/><stop offset="44.57%" stop-color="#ff9000"/><stop offset="49.22%" stop-color="#f7a80d"/><stop offset="51.55%" stop-color="#e1bb2a"/><stop offset="55.43%" stop-color="#b3d343"/><stop offset="60.08%" stop-color="#95de54"/><stop offset="63.95%" stop-color="#48da80"/><stop offset="66.28%" stop-color="#1ecfa4"/><stop offset="70.93%" stop-color="#10c4c5"/><stop offset="80.23%" stop-color="#10b4dd"/><stop offset="99.61%" stop-color="#11aee3"/></linearGradient>
<linearGradient id="e48"><stop offset="0.39%" stop-color="#5ddc74"/><stop offset="2.71%" stop-color="#84e05e"/><stop offset="3.49%" stop-color="#74df67"/><stop offset="5.04%" stop-color="#31d493"/><stop offset="5.81%" stop-color="#20d0a0"/><stop offset="12.79%" stop-color="#10c6be"/><stop offset="17.44%" stop-color="#18ccad"/><stop offset="18.99%" stop-color="#27d29a"/><stop offset="20.54%" stop-color="#5edc73"/><stop offset="21.32%" stop-color="#85df5d"/><stop offset="22.09%" stop-color="#f9a40a"/><stop offset="32.17%" stop-color="#ff8c00"/><stop offset="44.57%" stop-color="#ff9000"/><stop offset="49.22%" stop-color="#f7a80d"/><stop offset="51.55%" stop-color="#e1bb2a"/><stop offset="55.43%" stop-color="#b3d343"/><stop offset="60.08%" stop-color="#95de54"/><stop offset="63.95%" stop-color="#48da80"/><stop offset="66.28%" stop-color="#1ecfa4"/><stop offset="70.93%" stop-color="#10c4c5"/><stop offset="80.23%" stop-color="#10b4dd"/><stop offset="99.61%" stop-color="#11aee3"/></linearGradient>
<linearGradient id="e49"><stop offset="0.39%" stop-color="#60dd73"/><stop offset="2.71%" stop-color="#84e05e"/><stop offset="3.49%" stop-color="#74df67"/><stop offset="5.04%" stop-color="#32d492"/><stop offset="5.81%" stop-color="#21d09f"/><stop offset="12.79%" stop-color="#10c7ba"/><stop offset="16.67%" stop-color="#1bcda8"/><stop offset="17.44%" stop-color="#21d09f"/><stop offset="18.99%" stop-color="#55db78"/><stop offset="19.77%" stop-color="#7de062"/><stop offset="20.54%" stop-color="#f5ac10"/><stop offset="29.07%" stop-color="#ff9000"/><stop offset="43.02%" stop-color="#ff8a00"/><stop offset="48.45%" stop-color="#f9a409"/><stop offset="50.78%" stop-color="#edb31f"/><stop offset="53.88%" stop-color="#c1cc3c"/><stop offset="60.85%" stop-color="#89df5b"/><stop offset="66.28%" stop-color="#1ecfa4"/><stop offset="70.93%" stop-color="#10c4c5"/><stop offset="80.23%" stop-color="#10b4dd"/><stop offset="99.61%" stop-color="#11aee3"/></linearGradient>
<linearGradient id="e50"><stop offset="0.39%" stop-color="#62dd71"/><stop offset="2.71%" stop-color="#85df5d"/><stop offset="3.49%" stop-color="#75df66"/><stop offset="5.04%" stop-color="#33d591"/><stop offset="6.59%" stop-color="#1ecfa3"/><stop offset="12.79%" stop-color="#12c9b6"/><stop offset="15.89%" stop-color="#1ecfa3"/><stop offset="17.44%" stop-color="#4ada7f"/><stop offset="18.22%" stop-color="#70de69"/><stop offset="18.99%" stop-color="#edb31f"/><stop offset="22.09%" stop-color="#f9a50a"/><stop offset="31.4%" stop-color="#ff8d00"/><stop offset="43.8%" stop-color="#ff8d00"/><stop offset="49.22%" stop-color="#f7a80d"/><stop offset="51.55%" stop-color="#e1bb2a"/><stop offset="55.43%" stop-color="#b3d343"/><stop offset="60.08%" stop-color="#95de54"/><stop offset="63.95%" stop-color="#48da80"/><stop offset="66.28%" stop-color="#1ecfa4"/><stop offset="70.93%" stop-color="#10c4c5"/><stop offset="80.23%" stop-color="#10b4dd"/><stop offset="99.61%" stop-color="#11aee3"/></linearGradient>
<linearGradient id="e51"><stop offset="0.39%" stop-color="#64dd70"/><stop offset="2.71%" stop-color="#86df5d"/><stop offset="3.49%" stop-color="#76df66"/><stop offset="5.04%" stop-color="#34d590"/><stop offset="6.59%" stop-color="#1ecfa2"/><stop offset="12.79%" stop-color="#15cbb0"/><stop offset="15.12%" stop-color="#25d19c"/><stop offset="16.67%" stop-color="#5fdd73"/><stop offset="17.44%" stop-color="#ddbd2c"/><stop offset="20.54%" stop-color="#f6aa0f"/><stop offset="29.07%" stop-color="#ff8f00"/><stop offset="43.02%" stop-color="#ff8a00"/><stop offset="48.45%" stop-color="#f9a409"/><stop offset="50.78%" stop-color="#edb31f"/><stop offset="53.88%" stop-color="#c1cc3c"/><stop offset="60.85%" stop-color="#89df5b"/><stop offset="66.28%" stop-color="#1ecfa4"/><stop offset="70.93%" stop-color="#10c4c5"/><stop offset="80.23%" stop-color="#10b4dd"/><stop offset="99.61%" stop-color="#11aee3"/></linearGradient>
<linearGradient id="e52"><stop offset="0.39%" stop-color="#66dd6f"/><stop offset="2.71%" stop-color="#87df5c"/><stop offset="3.49%" stop-color="#77df65"/><stop offset="5.04%" stop-color="#36d58f"/><stop offset="6.59%" stop-color="#1fd0a1"/><stop offset="12.02%" stop-color="#18ccac"/><stop offset="13.57%" stop-color="#1fcfa2"/><stop offset="14.34%" stop-color="#30d493"/><stop offset="15.12%" stop-color="#bfcd3d"/><stop offset="18.22%" stop-color="#edb21e"/><stop offset="22.09%" stop-color="#faa309"/><stop offset="34.5%" stop-color="#ff8900"/><stop offset="44.57%" stop-color="#ff9000"/><stop offset="49.22%" stop-color="#f7a80d"/><stop offset="51.55%" stop-color="#e1bb2a"/><stop offset="55.43%" stop-color="#b3d343"/><stop offset="60.08%" stop-color="#95de54"/><stop offset="63.95%" stop-color="#48da80"/><stop offset="66.28%" stop-color="#1ecfa4"/><stop offset="70.93%" stop-color="#10c4c5"/><stop offset="80.23%" stop-color="#10b4dd"/><stop offset="99.61%" stop-color="#11aee3"/></linearGradient>
<linearGradient id="e53"><stop offset="0.39%" stop-color="#68dd6e"/><stop offset="2.71%" stop-color="#88df5b"/><stop offset="3.49%" stop-color="#79df64"/><stop offset="5.04%" stop-color="#38d68d"/><stop offset="6.59%" stop-color="#20d0a0"/><stop offset="11.24%" stop-color="#1bcda8"/><stop offset="12.79%" stop-color="#25d19c"/><stop offset="13.57%" stop-color="#b5d241"/><stop offset="17.44%" stop-color="#edb21e"/><stop offset="22.09%" stop-color="#faa208"/><stop offset="35.27%" stop-color="#ff8900"/><stop offset="44.57%" stop-color="#ff9000"/><stop offset="49.22%" stop-color="#f7a80d"/><stop offset="51.55%" stop-color="#e1bb2a"/><stop offset="55.43%" stop-color="#b3d343"/><stop offset="60.08%" stop-color="#95de54"/><stop offset="63.95%" stop-color="#48da80"/><stop offset="66.28%" stop-color="#1ecfa4"/><stop offset="70.93%" stop-color="#10c4c5"/><stop offset="80.23%" stop-color="#10b4dd"/><stop offset="99.61%" stop-color="#11aee3"/></linearGradient>
<linearGradient id="e54"><stop offset="0.39%" stop-color="#69dd6d"/><stop offset="2.71%" stop-color="#8adf5a"/><stop offset="3.49%" stop-color="#7ce062"/><stop offset="5.04%" stop-color="#3ad78b"/><stop offset="6.59%" stop-color="#23d19e"/><stop offset="11.24%" stop-color="#20d0a1"/><stop offset="12.02%" stop-color="#b2d443"/><stop offset="16.67%" stop-color="#edb21f"/><stop offset="22.09%" stop-color="#fba107"/><stop offset="36.05%" stop-color="#ff8800"/><stop offset="44.57%" stop-color="#ff9000"/><stop offset="49.22%" stop-color="#f7a80d"/><stop offset="51.55%" stop-color="#e1bb2a"/><stop offset="55.43%" stop-color="#b3d343"/><stop offset="60.08%" stop-color="#95de54"/><stop offset="63.95%" stop-color="#48da80"/><stop offset="66.28%" stop-color="#1ecfa4"/><stop offset="70.93%" stop-color="#10c4c5"/><stop offset="80.23%" stop-color="#10b4dd"/><stop offset="99.61%" stop-color="#11aee3"/></linearGradient>
<linearGradient id="e55"><stop offset="0.39%" stop-color="#6ade6d"/><stop offset="2.71%" stop-color="#8cdf59"/><stop offset="3.49%" stop-color="#80e060"/><stop offset="5.04%" stop-color="#3dd788"/><stop offset="6.59%" stop-color="#26d29b"/><stop offset="9.69%" stop-color="#20d0a1"/><stop offset="10.47%" stop-color="#b1d544"/><stop offset="15.89%" stop-color="#edb21f"/><stop offset="21.32%" stop-color="#faa208"/><stop offset="36.05%" stop-color="#ff8800"/><stop offset="44.57%" stop-color="#ff9000"/><stop offset="49.22%" stop-color="#f7a80d"/><stop offset="51.55%" stop-color="#e1bb2a"/><stop offset="55.43%" stop-color="#b3d343"/><stop offset="60.08%" stop-color="#95de54"/><stop offset="63.95%" stop-color="#48da80"/><stop offset="66.28%" stop-color="#1ecfa4"/><stop offset="70.93%" stop-color="#10c4c5"/><stop offset="80.23%" stop-color="#10b4dd"/><stop offset="99.61%" stop-color="#11aee3"/></linearGradient>
<linearGradient id="e56"><stop offset="0.39%" stop-color="#6bde6c"/><stop offset="2.71%" stop-color="#8fde57"/><stop offset="3.49%" stop-color="#83e05e"/><stop offset="5.04%" stop-color="#41d886"/><stop offset="6.59%" stop-color="#2ad398"/><stop offset="8.14%" stop-color="#24d19d"/><stop offset="8.91%" stop-color="#b1d444"/><stop offset="15.12%" stop-color="#edb31f"/><stop offset="20.54%" stop-color="#f9a309"/><stop offset="34.5%" stop-color="#ff8900"/><stop offset="44.57%" stop-color="#ff9000"/><stop offset="49.22%" stop-color="#f7a80d"/><stop offset="51.55%" stop-color="#e1bb2a"/><stop offset="55.43%" stop-color="#b3d343"/><stop offset="60.08%" stop-color="#95de54"/><stop offset="63.95%" stop-color="#48da80"/><stop offset="66.28%" stop-color="#1ecfa4"/><stop offset="70.93%" stop-color="#10c4c5"/><stop offset="80.23%" stop-color="#10b4dd"/><stop offset="99.61%" stop-color="#11aee3"/></linearGradient>
<linearGradient id="e57"><stop offset="0.39%" stop-color="#6dde6b"/><stop offset="2.71%" stop-color="#92de55"/><stop offset="3.49%" stop-color="#86df5d"/><stop offset="5.04%" stop-color="#44d983"/><stop offset="6.59%" stop-color="#2dd396"/><stop offset="7.36%" stop-color="#b1d444"/><stop offset="14.34%" stop-color="#ecb321"/><stop offset="21.32%" stop-color="#fba107"/><stop offset="36.05%" stop-color="#ff8800"/><stop offset="44.57%" stop-color="#ff9000"/><stop offset="49.22%" stop-color="#f7a80d"/><stop offset="51.55%" stop-color="#e1bb2a"/><stop offset="55.43%" stop-color="#b3d343"/><stop offset="60.08%" stop-color="#95de54"/><stop offset="63.95%" stop-color="#48da80"/><stop offset="66.28%" stop-color="#1ecfa4"/><stop offset="70.93%" stop-color="#10c4c5"/><stop offset="80.23%" stop-color="#10b4dd"/><stop offset="99.61%" stop-color="#11aee3"/></linearGradient>
<linearGradient id="e58"><stop offset="0.39%" stop-color="#6ede6a"/><stop offset="2.71%" stop-color="#95de54"/><stop offset="3.49%" stop-color="#89df5b"/><stop offset="5.04%" stop-color="#47da81"/><stop offset="5.81%" stop-color="#b2d444"/><stop offset="14.34%" stop-color="#edb21e"/><stop offset="22.87%" stop-color="#fd9d04"/><stop offset="37.6%" stop-color="#ff8800"/><stop offset="44.57%" stop-color="#ff9000"/><stop offset="49.22%" stop-color="#f7a80d"/><stop offset="51.55%" stop-color="#e1bb2a"/><stop offset="55.43%" stop-color="#b3d343"/><stop offset="60.08%" stop-color="#95de54"/><stop offset="63.95%" stop-color="#48da80"/><stop offset="66.28%" stop-color="#1ecfa4"/><stop offset="70.93%" stop-color="#10c4c5"/><stop offset="80.23%" stop-color="#10b4dd"/><stop offset="99.61%" stop-color="#11aee3"/></linearGradient>
<linearGradient id="e59"><stop offset="0.39%" stop-color="#6fde6a"/><stop offset="2.71%" stop-color="#96de53"/><stop offset="3.49%" stop-color="#8adf5a"/><stop offset="4.26%" stop-color="#b1d444"/><stop offset="14.34%" stop-color="#eeb21c"/><stop offset="23.64%" stop-color="#fe9b02"/><stop offset="38.37%" stop-color="#ff8900"/><stop offset="45.35%" stop-color="#ff9300"/><stop offset="50%" stop-color="#f3ad13"/><stop offset="53.1%" stop-color="#c9c737"/><stop offset="60.85%" stop-color="#89df5b"/><stop offset="66.28%" stop-color="#1ecfa4"/><stop offset="70.93%" stop-color="#10c4c5"/><stop offset="80.23%" stop-color="#10b4dd"/><stop offset="99.61%" stop-color="#11aee3"/></linearGradient>
<linearGradient id="e60"><stop offset="0.39%" stop-color="#6fde6a"/><stop offset="1.94%" stop-color="#8ddf59"/><stop offset="2.71%" stop-color="#b1d544"/><stop offset="14.34%" stop-color="#efb11b"/><stop offset="25.19%" stop-color="#ff9700"/><stop offset="40.7%" stop-color="#ff8900"/><stop offset="46.9%" stop-color="#fe9a02"/><stop offset="50%" stop-color="#f3ad13"/><stop offset="53.1%" stop-color="#c9c737"/><stop offset="60.85%" stop-color="#89df5b"/><stop offset="66.28%" stop-color="#1ecfa4"/><stop offset="70.93%" stop-color="#10c4c5"/><stop offset="80.23%" stop-color="#10b4dd"/><stop offset="99.61%" stop-color="#11aee3"/></linearGradient>
<linearGradient id="e61"><stop offset="0.39%" stop-color="#6fde6a"/><stop offset="1.16%" stop-color="#b0d645"/><stop offset="15.12%" stop-color="#f1af17"/><stop offset="28.29%" stop-color="#ff9000"/><stop offset="43.02%" stop-color="#ff8a00"/><stop offset="48.45%" stop-color="#f9a409"/><stop offset="50.78%" stop-color="#edb31f"/><stop offset="53.88%" stop-color="#c1cc3c"/><stop offset="60.85%" stop-color="#89df5b"/><stop offset="66.28%" stop-color="#1ecfa4"/><stop offset="70.93%" stop-color="#10c4c5"/><stop offset="80.23%" stop-color="#10b4dd"/><stop offset="99.61%" stop-color="#11aee3"/></linearGradient>
</defs>
<rect width="550" height="319" fill="#fff"/>
<g filter="url(#vb)"><rect x="28" y="21" width="129" height="2" fill="url(#a0)"/>
<rect x="28" y="23" width="129" height="2" fill="url(#a1)"/>
<rect x="28" y="25" width="129" height="2" fill="url(#a2)"/>
<rect x="28" y="27" width="129" height="2" fill="url(#a3)"/>
<rect x="28" y="29" width="129" height="2" fill="url(#a4)"/>
<rect x="28" y="31" width="129" height="2" fill="url(#a5)"/>
<rect x="28" y="33" width="129" height="2" fill="url(#a6)"/>
<rect x="28" y="35" width="129" height="2" fill="url(#a7)"/>
<rect x="28" y="37" width="129" height="2" fill="url(#a8)"/>
<rect x="28" y="39" width="129" height="2" fill="url(#a9)"/>
<rect x="28" y="41" width="129" height="2" fill="url(#a10)"/>
<rect x="28" y="43" width="129" height="2" fill="url(#a11)"/>
<rect x="28" y="45" width="129" height="2" fill="url(#a12)"/>
<rect x="28" y="47" width="129" height="2" fill="url(#a13)"/>
<rect x="28" y="49" width="129" height="2" fill="url(#a14)"/>
<rect x="28" y="51" width="129" height="2" fill="url(#a15)"/>
<rect x="28" y="53" width="129" height="2" fill="url(#a16)"/>
<rect x="28" y="55" width="129" height="2" fill="url(#a17)"/>
<rect x="28" y="57" width="129" height="2" fill="url(#a18)"/>
<rect x="28" y="59" width="129" height="2" fill="url(#a19)"/>
<rect x="28" y="61" width="129" height="2" fill="url(#a20)"/>
<rect x="28" y="63" width="129" height="2" fill="url(#a21)"/>
<rect x="28" y="65" width="129" height="2" fill="url(#a22)"/>
<rect x="28" y="67" width="129" height="2" fill="url(#a23)"/>
<rect x="28" y="69" width="129" height="2" fill="url(#a24)"/>
<rect x="28" y="71" width="129" height="2" fill="url(#a25)"/>
<rect x="28" y="73" width="129" height="2" fill="url(#a26)"/>
<rect x="28" y="75" width="129" height="2" fill="url(#a27)"/>
<rect x="28" y="77" width="129" height="2" fill="url(#a28)"/>
<rect x="28" y="79" width="129" height="2" fill="url(#a29)"/>
<rect x="28" y="81" width="129" height="2" fill="url(#a30)"/>
<rect x="28" y="83" width="129" height="2" fill="url(#a31)"/>
<rect x="28" y="85" width="129" height="2" fill="url(#a32)"/>
<rect x="28" y="87" width="129" height="2" fill="url(#a33)"/>
<rect x="28" y="89" width="129" height="2" fill="url(#a34)"/>
<rect x="28" y="91" width="129" height="2" fill="url(#a35)"/>
<rect x="28" y="93" width="129" height="2" fill="url(#a36)"/>
<rect x="28" y="95" width="129" height="2" fill="url(#a37)"/>
<rect x="28" y="97" width="129" height="2" fill="url(#a38)"/>
<rect x="28" y="99" width="129" height="2" fill="url(#a39)"/>
<rect x="28" y="101" width="129" height="2" fill="url(#a40)"/>
<rect x="28" y="103" width="129" height="2" fill="url(#a41)"/>
<rect x="28" y="105" width="129" height="2" fill="url(#a42)"/>
<rect x="28" y="107" width="129" height="2" fill="url(#a43)"/>
<rect x="28" y="109" width="129" height="2" fill="url(#a44)"/>
<rect x="28" y="111" width="129" height="2" fill="url(#a45)"/>
<rect x="28" y="113" width="129" height="2" fill="url(#a46)"/>
<rect x="28" y="115" width="129" height="2" fill="url(#a47)"/>
<rect x="28" y="117" width="129" height="2" fill="url(#a48)"/>
<rect x="28" y="119" width="129" height="2" fill="url(#a49)"/>
<rect x="28" y="121" width="129" height="2" fill="url(#a50)"/>
<rect x="28" y="123" width="129" height="2" fill="url(#a51)"/>
<rect x="28" y="125" width="129" height="2" fill="url(#a52)"/>
<rect x="28" y="127" width="129" height="2" fill="url(#a53)"/>
<rect x="28" y="129" width="129" height="2" fill="url(#a54)"/>
<rect x="28" y="131" width="129" height="2" fill="url(#a55)"/>
<rect x="28" y="133" width="129" height="2" fill="url(#a56)"/>
<rect x="28" y="135" width="129" height="2" fill="url(#a57)"/>
<rect x="28" y="137" width="129" height="2" fill="url(#a58)"/>
<rect x="28" y="139" width="129" height="2" fill="url(#a59)"/>
<rect x="28" y="141" width="129" height="2" fill="url(#a60)"/>
<rect x="28" y="143" width="129" height="1" fill="url(#a61)"/></g>
<polyline points="28.57,143.3 30.75,141.23 32.93,139.16 35.11,137.09 37.28,135.02 39.45,132.95 41.62,130.88 43.78,128.81 45.92,126.74 48.06,124.67 50.19,122.61 52.31,120.54 54.41,118.47 56.49,116.4 58.57,114.33 60.62,112.26 62.66,110.19 64.68,108.12 66.68,106.05 68.65,103.98 70.61,101.91 72.54,99.84 74.44,97.77 76.32,95.7 78.18,93.63 80,91.56 81.8,89.49 83.57,87.42 85.3,85.35 87.01,83.28 88.68,81.22 90.32,79.15 91.92,77.08 93.49,75.01 95.02,72.94 96.52,70.87 97.97,68.8 99.39,66.73 100.77,64.66 102.11,62.59 103.4,60.52 104.66,58.45 105.87,56.38 107.04,54.31 108.16,52.24 109.24,50.17 110.28,48.1 111.27,46.03 112.21,43.96 113.1,41.89 113.95,39.83 114.75,37.76 115.51,35.69 116.21,33.62 116.87,31.55 117.47,29.48 118.03,27.41 118.53,25.34 118.99,23.27 119.39,21.2" fill="none" stroke="#111" stroke-width="1.2" stroke-dasharray="2.2 1.6"/>
<rect x="28.2" y="21.2" width="128.6" height="122.1" fill="none" stroke="#2a2a2a" stroke-width="0.9"/>
<line x1="26.2" y1="143.3" x2="28.2" y2="143.3" stroke="#2a2a2a" stroke-width="0.8"/>
<text x="25" y="145.65" font-size="6.6" text-anchor="end" fill="#1a1a1a" stroke="#1a1a1a" stroke-width="0.22">0</text>
<line x1="26.2" y1="128.04" x2="28.2" y2="128.04" stroke="#2a2a2a" stroke-width="0.8"/>
<text x="25" y="130.39" font-size="6.6" text-anchor="end" fill="#1a1a1a" stroke="#1a1a1a" stroke-width="0.22">10</text>
<line x1="26.2" y1="112.78" x2="28.2" y2="112.78" stroke="#2a2a2a" stroke-width="0.8"/>
<text x="25" y="115.12" font-size="6.6" text-anchor="end" fill="#1a1a1a" stroke="#1a1a1a" stroke-width="0.22">20</text>
<line x1="26.2" y1="97.51" x2="28.2" y2="97.51" stroke="#2a2a2a" stroke-width="0.8"/>
<text x="25" y="99.86" font-size="6.6" text-anchor="end" fill="#1a1a1a" stroke="#1a1a1a" stroke-width="0.22">30</text>
<line x1="26.2" y1="82.25" x2="28.2" y2="82.25" stroke="#2a2a2a" stroke-width="0.8"/>
<text x="25" y="84.6" font-size="6.6" text-anchor="end" fill="#1a1a1a" stroke="#1a1a1a" stroke-width="0.22">40</text>
<line x1="26.2" y1="66.99" x2="28.2" y2="66.99" stroke="#2a2a2a" stroke-width="0.8"/>
<text x="25" y="69.34" font-size="6.6" text-anchor="end" fill="#1a1a1a" stroke="#1a1a1a" stroke-width="0.22">50</text>
<line x1="26.2" y1="51.73" x2="28.2" y2="51.73" stroke="#2a2a2a" stroke-width="0.8"/>
<text x="25" y="54.08" font-size="6.6" text-anchor="end" fill="#1a1a1a" stroke="#1a1a1a" stroke-width="0.22">60</text>
<line x1="26.2" y1="36.46" x2="28.2" y2="36.46" stroke="#2a2a2a" stroke-width="0.8"/>
<text x="25" y="38.81" font-size="6.6" text-anchor="end" fill="#1a1a1a" stroke="#1a1a1a" stroke-width="0.22">70</text>
<line x1="26.2" y1="21.2" x2="28.2" y2="21.2" stroke="#2a2a2a" stroke-width="0.8"/>
<text x="25" y="23.55" font-size="6.6" text-anchor="end" fill="#1a1a1a" stroke="#1a1a1a" stroke-width="0.22">80</text>
<line x1="28.2" y1="143.3" x2="28.2" y2="145.3" stroke="#2a2a2a" stroke-width="0.8"/>
<text x="28.2" y="153" font-size="6.6" text-anchor="middle" fill="#1a1a1a" stroke="#1a1a1a" stroke-width="0.22">500</text>
<line x1="46.57" y1="143.3" x2="46.57" y2="145.3" stroke="#2a2a2a" stroke-width="0.8"/>
<text x="46.57" y="153" font-size="6.6" text-anchor="middle" fill="#1a1a1a" stroke="#1a1a1a" stroke-width="0.22">600</text>
<line x1="64.94" y1="143.3" x2="64.94" y2="145.3" stroke="#2a2a2a" stroke-width="0.8"/>
<text x="64.94" y="153" font-size="6.6" text-anchor="middle" fill="#1a1a1a" stroke="#1a1a1a" stroke-width="0.22">700</text>
<line x1="83.31" y1="143.3" x2="83.31" y2="145.3" stroke="#2a2a2a" stroke-width="0.8"/>
<text x="83.31" y="153" font-size="6.6" text-anchor="middle" fill="#1a1a1a" stroke="#1a1a1a" stroke-width="0.22">800</text>
<line x1="101.69" y1="143.3" x2="101.69" y2="145.3" stroke="#2a2a2a" stroke-width="0.8"/>
<text x="101.69" y="153" font-size="6.6" text-anchor="middle" fill="#1a1a1a" stroke="#1a1a1a" stroke-width="0.22">900</text>
<line x1="120.06" y1="143.3" x2="120.06" y2="145.3" stroke="#2a2a2a" stroke-width="0.8"/>
<text x="120.06" y="153" font-size="6.6" text-anchor="middle" fill="#1a1a1a" stroke="#1a1a1a" stroke-width="0.22">1000</text>
<line x1="138.43" y1="143.3" x2="138.43" y2="145.3" stroke="#2a2a2a" stroke-width="0.8"/>
<text x="138.43" y="153" font-size="6.6" text-anchor="middle" fill="#1a1a1a" stroke="#1a1a1a" stroke-width="0.22">1100</text>
<line x1="156.8" y1="143.3" x2="156.8" y2="145.3" stroke="#2a2a2a" stroke-width="0.8"/>
<text x="156.8" y="153" font-size="6.6" text-anchor="middle" fill="#1a1a1a" stroke="#1a1a1a" stroke-width="0.22">1200</text>
<text x="92.3" y="164.4" font-size="7.6" text-anchor="middle" fill="#1a1a1a" stroke="#1a1a1a" stroke-width="0.22">Wavelength (nm)</text>
<text x="11.4" y="82.85" font-size="7.6" text-anchor="middle" fill="#1a1a1a" stroke="#1a1a1a" stroke-width="0.22" transform="rotate(-90 11.4 82.85)" dy="2.6">θ (degree)</text>
<rect x="159.3" y="21.2" width="9.1" height="122.5" fill="url(#cmap)"/>
<rect x="159.3" y="142.8" width="9.1" height="0.9" fill="#1482d6"/>
<text x="172.4" y="26.8" font-size="6.6" text-anchor="start" fill="#1a1a1a" stroke="#1a1a1a" stroke-width="0.22">1</text>
<text x="173.4" y="141.6" font-size="6.6" text-anchor="start" fill="#1a1a1a" stroke="#1a1a1a" stroke-width="0.22">0</text>
<text x="33.8" y="29.1" font-size="9" text-anchor="start" fill="#e02424" stroke="#e02424" stroke-width="0.22">TM</text>
<text x="145.2" y="29.2" font-size="8.2" fill="#101830" stroke="#101830" stroke-width="0.25">R<tspan font-size="5.6" dy="1.9">0</tspan></text>
<text x="3.9" y="14.4" font-size="12.2" text-anchor="start" fill="#1a1a1a" stroke="#1a1a1a" stroke-width="0.22">(a)</text>
<text x="81.9" y="104.1" font-size="10.4" text-anchor="start" fill="#141414" stroke="#141414" stroke-width="0.35" textLength="29.6" lengthAdjust="spacingAndGlyphs">m = −1</text>
<g filter="url(#vb)"><rect x="201" y="21" width="129" height="2" fill="url(#b0)"/>
<rect x="201" y="23" width="129" height="2" fill="url(#b1)"/>
<rect x="201" y="25" width="129" height="2" fill="url(#b2)"/>
<rect x="201" y="27" width="129" height="2" fill="url(#b3)"/>
<rect x="201" y="29" width="129" height="2" fill="url(#b4)"/>
<rect x="201" y="31" width="129" height="2" fill="url(#b5)"/>
<rect x="201" y="33" width="129" height="2" fill="url(#b6)"/>
<rect x="201" y="35" width="129" height="2" fill="url(#b7)"/>
<rect x="201" y="37" width="129" height="2" fill="url(#b8)"/>
<rect x="201" y="39" width="129" height="2" fill="url(#b9)"/>
<rect x="201" y="41" width="129" height="2" fill="url(#b10)"/>
<rect x="201" y="43" width="129" height="2" fill="url(#b11)"/>
<rect x="201" y="45" width="129" height="2" fill="url(#b12)"/>
<rect x="201" y="47" width="129" height="2" fill="url(#b13)"/>
<rect x="201" y="49" width="129" height="2" fill="url(#b14)"/>
<rect x="201" y="51" width="129" height="2" fill="url(#b15)"/>
<rect x="201" y="53" width="129" height="2" fill="url(#b16)"/>
<rect x="201" y="55" width="129" height="2" fill="url(#b17)"/>
<rect x="201" y="57" width="129" height="2" fill="url(#b18)"/>
<rect x="201" y="59" width="129" height="2" fill="url(#b19)"/>
<rect x="201" y="61" width="129" height="2" fill="url(#b20)"/>
<rect x="201" y="63" width="129" height="2" fill="url(#b21)"/>
<rect x="201" y="65" width="129" height="2" fill="url(#b22)"/>
<rect x="201" y="67" width="129" height="2" fill="url(#b23)"/>
<rect x="201" y="69" width="129" height="2" fill="url(#b24)"/>
<rect x="201" y="71" width="129" height="2" fill="url(#b25)"/>
<rect x="201" y="73" width="129" height="2" fill="url(#b26)"/>
<rect x="201" y="75" width="129" height="2" fill="url(#b27)"/>
<rect x="201" y="77" width="129" height="2" fill="url(#b28)"/>
<rect x="201" y="79" width="129" height="2" fill="url(#b29)"/>
<rect x="201" y="81" width="129" height="2" fill="url(#b30)"/>
<rect x="201" y="83" width="129" height="2" fill="url(#b31)"/>
<rect x="201" y="85" width="129" height="2" fill="url(#b32)"/>
<rect x="201" y="87" width="129" height="2" fill="url(#b33)"/>
<rect x="201" y="89" width="129" height="2" fill="url(#b34)"/>
<rect x="201" y="91" width="129" height="2" fill="url(#b35)"/>
<rect x="201" y="93" width="129" height="2" fill="url(#b36)"/>
<rect x="201" y="95" width="129" height="2" fill="url(#b37)"/>
<rect x="201" y="97" width="129" height="2" fill="url(#b38)"/>
<rect x="201" y="99" width="129" height="2" fill="url(#b39)"/>
<rect x="201" y="101" width="129" height="2" fill="url(#b40)"/>
<rect x="201" y="103" width="129" height="2" fill="url(#b41)"/>
<rect x="201" y="105" width="129" height="2" fill="url(#b42)"/>
<rect x="201" y="107" width="129" height="2" fill="url(#b43)"/>
<rect x="201" y="109" width="129" height="2" fill="url(#b44)"/>
<rect x="201" y="111" width="129" height="2" fill="url(#b45)"/>
<rect x="201" y="113" width="129" height="2" fill="url(#b46)"/>
<rect x="201" y="115" width="129" height="2" fill="url(#b47)"/>
<rect x="201" y="117" width="129" height="2" fill="url(#b48)"/>
<rect x="201" y="119" width="129" height="2" fill="url(#b49)"/>
<rect x="201" y="121" width="129" height="2" fill="url(#b50)"/>
<rect x="201" y="123" width="129" height="2" fill="url(#b51)"/>
<rect x="201" y="125" width="129" height="2" fill="url(#b52)"/>
<rect x="201" y="127" width="129" height="2" fill="url(#b53)"/>
<rect x="201" y="129" width="129" height="2" fill="url(#b54)"/>
<rect x="201" y="131" width="129" height="2" fill="url(#b55)"/>
<rect x="201" y="133" width="129" height="2" fill="url(#b56)"/>
<rect x="201" y="135" width="129" height="2" fill="url(#b57)"/>
<rect x="201" y="137" width="129" height="2" fill="url(#b58)"/>
<rect x="201" y="139" width="129" height="2" fill="url(#b59)"/>
<rect x="201" y="141" width="129" height="2" fill="url(#b60)"/>
<rect x="201" y="143" width="129" height="1" fill="url(#b61)"/></g>
<polyline points="201.77,143.3 203.95,141.23 206.12,139.16 208.3,137.09 210.47,135.02 212.64,132.95 214.8,130.88 216.95,128.81 219.1,126.74 221.23,124.67 223.36,122.61 225.47,120.54 227.57,118.47 229.65,116.4 231.72,114.33 233.77,112.26 235.81,110.19 237.82,108.12 239.82,106.05 241.79,103.98 243.74,101.91 245.67,99.84 247.57,97.77 249.45,95.7 251.3,93.63 253.12,91.56 254.92,89.49 256.68,87.42 258.41,85.35 260.12,83.28 261.79,81.22 263.42,79.15 265.02,77.08 266.59,75.01 268.12,72.94 269.61,70.87 271.06,68.8 272.48,66.73 273.86,64.66 275.19,62.59 276.49,60.52 277.74,58.45 278.95,56.38 280.11,54.31 281.24,52.24 282.32,50.17 283.35,48.1 284.34,46.03 285.28,43.96 286.17,41.89 287.02,39.83 287.82,37.76 288.57,35.69 289.27,33.62 289.93,31.55 290.53,29.48 291.09,27.41 291.59,25.34 292.05,23.27 292.45,21.2" fill="none" stroke="#111" stroke-width="1.2" stroke-dasharray="2.2 1.6"/>
<rect x="201.4" y="21.2" width="128.4" height="122.1" fill="none" stroke="#2a2a2a" stroke-width="0.9"/>
<line x1="199.4" y1="143.3" x2="201.4" y2="143.3" stroke="#2a2a2a" stroke-width="0.8"/>
<text x="198.2" y="145.65" font-size="6.6" text-anchor="end" fill="#1a1a1a" stroke="#1a1a1a" stroke-width="0.22">0</text>
<line x1="199.4" y1="128.04" x2="201.4" y2="128.04" stroke="#2a2a2a" stroke-width="0.8"/>
<text x="198.2" y="130.39" font-size="6.6" text-anchor="end" fill="#1a1a1a" stroke="#1a1a1a" stroke-width="0.22">10</text>
<line x1="199.4" y1="112.78" x2="201.4" y2="112.78" stroke="#2a2a2a" stroke-width="0.8"/>
<text x="198.2" y="115.12" font-size="6.6" text-anchor="end" fill="#1a1a1a" stroke="#1a1a1a" stroke-width="0.22">20</text>
<line x1="199.4" y1="97.51" x2="201.4" y2="97.51" stroke="#2a2a2a" stroke-width="0.8"/>
<text x="198.2" y="99.86" font-size="6.6" text-anchor="end" fill="#1a1a1a" stroke="#1a1a1a" stroke-width="0.22">30</text>
<line x1="199.4" y1="82.25" x2="201.4" y2="82.25" stroke="#2a2a2a" stroke-width="0.8"/>
<text x="198.2" y="84.6" font-size="6.6" text-anchor="end" fill="#1a1a1a" stroke="#1a1a1a" stroke-width="0.22">40</text>
<line x1="199.4" y1="66.99" x2="201.4" y2="66.99" stroke="#2a2a2a" stroke-width="0.8"/>
<text x="198.2" y="69.34" font-size="6.6" text-anchor="end" fill="#1a1a1a" stroke="#1a1a1a" stroke-width="0.22">50</text>
<line x1="199.4" y1="51.73" x2="201.4" y2="51.73" stroke="#2a2a2a" stroke-width="0.8"/>
<text x="198.2" y="54.08" font-size="6.6" text-anchor="end" fill="#1a1a1a" stroke="#1a1a1a" stroke-width="0.22">60</text>
<line x1="199.4" y1="36.46" x2="201.4" y2="36.46" stroke="#2a2a2a" stroke-width="0.8"/>
<text x="198.2" y="38.81" font-size="6.6" text-anchor="end" fill="#1a1a1a" stroke="#1a1a1a" stroke-width="0.22">70</text>
<line x1="199.4" y1="21.2" x2="201.4" y2="21.2" stroke="#2a2a2a" stroke-width="0.8"/>
<text x="198.2" y="23.55" font-size="6.6" text-anchor="end" fill="#1a1a1a" stroke="#1a1a1a" stroke-width="0.22">80</text>
<line x1="201.4" y1="143.3" x2="201.4" y2="145.3" stroke="#2a2a2a" stroke-width="0.8"/>
<text x="201.4" y="153" font-size="6.6" text-anchor="middle" fill="#1a1a1a" stroke="#1a1a1a" stroke-width="0.22">500</text>
<line x1="219.74" y1="143.3" x2="219.74" y2="145.3" stroke="#2a2a2a" stroke-width="0.8"/>
<text x="219.74" y="153" font-size="6.6" text-anchor="middle" fill="#1a1a1a" stroke="#1a1a1a" stroke-width="0.22">600</text>
<line x1="238.09" y1="143.3" x2="238.09" y2="145.3" stroke="#2a2a2a" stroke-width="0.8"/>
<text x="238.09" y="153" font-size="6.6" text-anchor="middle" fill="#1a1a1a" stroke="#1a1a1a" stroke-width="0.22">700</text>
<line x1="256.43" y1="143.3" x2="256.43" y2="145.3" stroke="#2a2a2a" stroke-width="0.8"/>
<text x="256.43" y="153" font-size="6.6" text-anchor="middle" fill="#1a1a1a" stroke="#1a1a1a" stroke-width="0.22">800</text>
<line x1="274.77" y1="143.3" x2="274.77" y2="145.3" stroke="#2a2a2a" stroke-width="0.8"/>
<text x="274.77" y="153" font-size="6.6" text-anchor="middle" fill="#1a1a1a" stroke="#1a1a1a" stroke-width="0.22">900</text>
<line x1="293.11" y1="143.3" x2="293.11" y2="145.3" stroke="#2a2a2a" stroke-width="0.8"/>
<text x="293.11" y="153" font-size="6.6" text-anchor="middle" fill="#1a1a1a" stroke="#1a1a1a" stroke-width="0.22">1000</text>
<line x1="311.46" y1="143.3" x2="311.46" y2="145.3" stroke="#2a2a2a" stroke-width="0.8"/>
<text x="311.46" y="153" font-size="6.6" text-anchor="middle" fill="#1a1a1a" stroke="#1a1a1a" stroke-width="0.22">1100</text>
<line x1="329.8" y1="143.3" x2="329.8" y2="145.3" stroke="#2a2a2a" stroke-width="0.8"/>
<text x="329.8" y="153" font-size="6.6" text-anchor="middle" fill="#1a1a1a" stroke="#1a1a1a" stroke-width="0.22">1200</text>
<text x="265.4" y="164.4" font-size="7.6" text-anchor="middle" fill="#1a1a1a" stroke="#1a1a1a" stroke-width="0.22">Wavelength (nm)</text>
<text x="184.6" y="82.85" font-size="7.6" text-anchor="middle" fill="#1a1a1a" stroke="#1a1a1a" stroke-width="0.22" transform="rotate(-90 184.6 82.85)" dy="2.6">θ (degree)</text>
<rect x="332.5" y="21.2" width="8.8" height="122.5" fill="url(#cmap)"/>
<rect x="332.5" y="142.8" width="8.8" height="0.9" fill="#1482d6"/>
<text x="345.3" y="26.8" font-size="6.6" text-anchor="start" fill="#1a1a1a" stroke="#1a1a1a" stroke-width="0.22">1</text>
<text x="346.3" y="141.6" font-size="6.6" text-anchor="start" fill="#1a1a1a" stroke="#1a1a1a" stroke-width="0.22">0</text>
<text x="207" y="29.1" font-size="9" text-anchor="start" fill="#e02424" stroke="#e02424" stroke-width="0.22">TM</text>
<text x="318.2" y="29.2" font-size="8.2" fill="#101830" stroke="#101830" stroke-width="0.25">T<tspan font-size="5.6" dy="1.9">0</tspan></text>
<text x="182" y="14.3" font-size="12.2" text-anchor="start" fill="#1a1a1a" stroke="#1a1a1a" stroke-width="0.22">(b)</text>
<text x="253.4" y="104.1" font-size="10.4" text-anchor="start" fill="#141414" stroke="#141414" stroke-width="0.35" textLength="29.6" lengthAdjust="spacingAndGlyphs">m = −1</text>
<g filter="url(#vb)"><rect x="28" y="170" width="129" height="2" fill="url(#d0)"/>
<rect x="28" y="172" width="129" height="2" fill="url(#d1)"/>
<rect x="28" y="174" width="129" height="2" fill="url(#d2)"/>
<rect x="28" y="176" width="129" height="2" fill="url(#d3)"/>
<rect x="28" y="178" width="129" height="2" fill="url(#d4)"/>
<rect x="28" y="180" width="129" height="2" fill="url(#d5)"/>
<rect x="28" y="182" width="129" height="2" fill="url(#d6)"/>
<rect x="28" y="184" width="129" height="2" fill="url(#d7)"/>
<rect x="28" y="186" width="129" height="2" fill="url(#d8)"/>
<rect x="28" y="188" width="129" height="2" fill="url(#d9)"/>
<rect x="28" y="190" width="129" height="2" fill="url(#d10)"/>
<rect x="28" y="192" width="129" height="2" fill="url(#d11)"/>
<rect x="28" y="194" width="129" height="2" fill="url(#d12)"/>
<rect x="28" y="196" width="129" height="2" fill="url(#d13)"/>
<rect x="28" y="198" width="129" height="2" fill="url(#d14)"/>
<rect x="28" y="200" width="129" height="2" fill="url(#d15)"/>
<rect x="28" y="202" width="129" height="2" fill="url(#d16)"/>
<rect x="28" y="204" width="129" height="2" fill="url(#d17)"/>
<rect x="28" y="206" width="129" height="2" fill="url(#d18)"/>
<rect x="28" y="208" width="129" height="2" fill="url(#d19)"/>
<rect x="28" y="210" width="129" height="2" fill="url(#d20)"/>
<rect x="28" y="212" width="129" height="2" fill="url(#d21)"/>
<rect x="28" y="214" width="129" height="2" fill="url(#d22)"/>
<rect x="28" y="216" width="129" height="2" fill="url(#d23)"/>
<rect x="28" y="218" width="129" height="2" fill="url(#d24)"/>
<rect x="28" y="220" width="129" height="2" fill="url(#d25)"/>
<rect x="28" y="222" width="129" height="2" fill="url(#d26)"/>
<rect x="28" y="224" width="129" height="2" fill="url(#d27)"/>
<rect x="28" y="226" width="129" height="2" fill="url(#d28)"/>
<rect x="28" y="228" width="129" height="2" fill="url(#d29)"/>
<rect x="28" y="230" width="129" height="2" fill="url(#d30)"/>
<rect x="28" y="232" width="129" height="2" fill="url(#d31)"/>
<rect x="28" y="234" width="129" height="2" fill="url(#d32)"/>
<rect x="28" y="236" width="129" height="2" fill="url(#d33)"/>
<rect x="28" y="238" width="129" height="2" fill="url(#d34)"/>
<rect x="28" y="240" width="129" height="2" fill="url(#d35)"/>
<rect x="28" y="242" width="129" height="2" fill="url(#d36)"/>
<rect x="28" y="244" width="129" height="2" fill="url(#d37)"/>
<rect x="28" y="246" width="129" height="2" fill="url(#d38)"/>
<rect x="28" y="248" width="129" height="2" fill="url(#d39)"/>
<rect x="28" y="250" width="129" height="2" fill="url(#d40)"/>
<rect x="28" y="252" width="129" height="2" fill="url(#d41)"/>
<rect x="28" y="254" width="129" height="2" fill="url(#d42)"/>
<rect x="28" y="256" width="129" height="2" fill="url(#d43)"/>
<rect x="28" y="258" width="129" height="2" fill="url(#d44)"/>
<rect x="28" y="260" width="129" height="2" fill="url(#d45)"/>
<rect x="28" y="262" width="129" height="2" fill="url(#d46)"/>
<rect x="28" y="264" width="129" height="2" fill="url(#d47)"/>
<rect x="28" y="266" width="129" height="2" fill="url(#d48)"/>
<rect x="28" y="268" width="129" height="2" fill="url(#d49)"/>
<rect x="28" y="270" width="129" height="2" fill="url(#d50)"/>
<rect x="28" y="272" width="129" height="2" fill="url(#d51)"/>
<rect x="28" y="274" width="129" height="2" fill="url(#d52)"/>
<rect x="28" y="276" width="129" height="2" fill="url(#d53)"/>
<rect x="28" y="278" width="129" height="2" fill="url(#d54)"/>
<rect x="28" y="280" width="129" height="2" fill="url(#d55)"/>
<rect x="28" y="282" width="129" height="2" fill="url(#d56)"/>
<rect x="28" y="284" width="129" height="2" fill="url(#d57)"/>
<rect x="28" y="286" width="129" height="2" fill="url(#d58)"/>
<rect x="28" y="288" width="129" height="2" fill="url(#d59)"/>
<rect x="28" y="290" width="129" height="2" fill="url(#d60)"/>
<rect x="28" y="292" width="129" height="1" fill="url(#d61)"/></g>
<polyline points="28.57,292.9 30.75,290.83 32.93,288.75 35.11,286.68 37.28,284.61 39.45,282.54 41.62,280.46 43.78,278.39 45.92,276.32 48.06,274.24 50.19,272.17 52.31,270.1 54.41,268.03 56.49,265.95 58.57,263.88 60.62,261.81 62.66,259.73 64.68,257.66 66.68,255.59 68.65,253.52 70.61,251.44 72.54,249.37 74.44,247.3 76.32,245.22 78.18,243.15 80,241.08 81.8,239.01 83.57,236.93 85.3,234.86 87.01,232.79 88.68,230.71 90.32,228.64 91.92,226.57 93.49,224.49 95.02,222.42 96.52,220.35 97.97,218.28 99.39,216.2 100.77,214.13 102.11,212.06 103.4,209.98 104.66,207.91 105.87,205.84 107.04,203.77 108.16,201.69 109.24,199.62 110.28,197.55 111.27,195.47 112.21,193.4 113.1,191.33 113.95,189.26 114.75,187.18 115.51,185.11 116.21,183.04 116.87,180.96 117.47,178.89 118.03,176.82 118.53,174.75 118.99,172.67 119.39,170.6" fill="none" stroke="#111" stroke-width="1.2" stroke-dasharray="2.2 1.6"/>
<rect x="28.2" y="170.6" width="128.6" height="122.3" fill="none" stroke="#2a2a2a" stroke-width="0.9"/>
<line x1="26.2" y1="292.9" x2="28.2" y2="292.9" stroke="#2a2a2a" stroke-width="0.8"/>
<text x="25" y="295.25" font-size="6.6" text-anchor="end" fill="#1a1a1a" stroke="#1a1a1a" stroke-width="0.22">0</text>
<line x1="26.2" y1="277.61" x2="28.2" y2="277.61" stroke="#2a2a2a" stroke-width="0.8"/>
<text x="25" y="279.96" font-size="6.6" text-anchor="end" fill="#1a1a1a" stroke="#1a1a1a" stroke-width="0.22">10</text>
<line x1="26.2" y1="262.32" x2="28.2" y2="262.32" stroke="#2a2a2a" stroke-width="0.8"/>
<text x="25" y="264.68" font-size="6.6" text-anchor="end" fill="#1a1a1a" stroke="#1a1a1a" stroke-width="0.22">20</text>
<line x1="26.2" y1="247.04" x2="28.2" y2="247.04" stroke="#2a2a2a" stroke-width="0.8"/>
<text x="25" y="249.39" font-size="6.6" text-anchor="end" fill="#1a1a1a" stroke="#1a1a1a" stroke-width="0.22">30</text>
<line x1="26.2" y1="231.75" x2="28.2" y2="231.75" stroke="#2a2a2a" stroke-width="0.8"/>
<text x="25" y="234.1" font-size="6.6" text-anchor="end" fill="#1a1a1a" stroke="#1a1a1a" stroke-width="0.22">40</text>
<line x1="26.2" y1="216.46" x2="28.2" y2="216.46" stroke="#2a2a2a" stroke-width="0.8"/>
<text x="25" y="218.81" font-size="6.6" text-anchor="end" fill="#1a1a1a" stroke="#1a1a1a" stroke-width="0.22">50</text>
<line x1="26.2" y1="201.17" x2="28.2" y2="201.17" stroke="#2a2a2a" stroke-width="0.8"/>
<text x="25" y="203.52" font-size="6.6" text-anchor="end" fill="#1a1a1a" stroke="#1a1a1a" stroke-width="0.22">60</text>
<line x1="26.2" y1="185.89" x2="28.2" y2="185.89" stroke="#2a2a2a" stroke-width="0.8"/>
<text x="25" y="188.24" font-size="6.6" text-anchor="end" fill="#1a1a1a" stroke="#1a1a1a" stroke-width="0.22">70</text>
<line x1="26.2" y1="170.6" x2="28.2" y2="170.6" stroke="#2a2a2a" stroke-width="0.8"/>
<text x="25" y="172.95" font-size="6.6" text-anchor="end" fill="#1a1a1a" stroke="#1a1a1a" stroke-width="0.22">80</text>
<line x1="28.2" y1="292.9" x2="28.2" y2="294.9" stroke="#2a2a2a" stroke-width="0.8"/>
<text x="28.2" y="302.6" font-size="6.6" text-anchor="middle" fill="#1a1a1a" stroke="#1a1a1a" stroke-width="0.22">500</text>
<line x1="46.57" y1="292.9" x2="46.57" y2="294.9" stroke="#2a2a2a" stroke-width="0.8"/>
<text x="46.57" y="302.6" font-size="6.6" text-anchor="middle" fill="#1a1a1a" stroke="#1a1a1a" stroke-width="0.22">600</text>
<line x1="64.94" y1="292.9" x2="64.94" y2="294.9" stroke="#2a2a2a" stroke-width="0.8"/>
<text x="64.94" y="302.6" font-size="6.6" text-anchor="middle" fill="#1a1a1a" stroke="#1a1a1a" stroke-width="0.22">700</text>
<line x1="83.31" y1="292.9" x2="83.31" y2="294.9" stroke="#2a2a2a" stroke-width="0.8"/>
<text x="83.31" y="302.6" font-size="6.6" text-anchor="middle" fill="#1a1a1a" stroke="#1a1a1a" stroke-width="0.22">800</text>
<line x1="101.69" y1="292.9" x2="101.69" y2="294.9" stroke="#2a2a2a" stroke-width="0.8"/>
<text x="101.69" y="302.6" font-size="6.6" text-anchor="middle" fill="#1a1a1a" stroke="#1a1a1a" stroke-width="0.22">900</text>
<line x1="120.06" y1="292.9" x2="120.06" y2="294.9" stroke="#2a2a2a" stroke-width="0.8"/>
<text x="120.06" y="302.6" font-size="6.6" text-anchor="middle" fill="#1a1a1a" stroke="#1a1a1a" stroke-width="0.22">1000</text>
<line x1="138.43" y1="292.9" x2="138.43" y2="294.9" stroke="#2a2a2a" stroke-width="0.8"/>
<text x="138.43" y="302.6" font-size="6.6" text-anchor="middle" fill="#1a1a1a" stroke="#1a1a1a" stroke-width="0.22">1100</text>
<line x1="156.8" y1="292.9" x2="156.8" y2="294.9" stroke="#2a2a2a" stroke-width="0.8"/>
<text x="156.8" y="302.6" font-size="6.6" text-anchor="middle" fill="#1a1a1a" stroke="#1a1a1a" stroke-width="0.22">1200</text>
<text x="92.3" y="314" font-size="7.6" text-anchor="middle" fill="#1a1a1a" stroke="#1a1a1a" stroke-width="0.22">Wavelength (nm)</text>
<text x="11.4" y="232.35" font-size="7.6" text-anchor="middle" fill="#1a1a1a" stroke="#1a1a1a" stroke-width="0.22" transform="rotate(-90 11.4 232.35)" dy="2.6">θ (degree)</text>
<rect x="159.3" y="170.6" width="9.1" height="122.7" fill="url(#cmap)"/>
<rect x="159.3" y="292.4" width="9.1" height="0.9" fill="#1482d6"/>
<text x="172.4" y="176.2" font-size="6.6" text-anchor="start" fill="#1a1a1a" stroke="#1a1a1a" stroke-width="0.22">1</text>
<text x="173.4" y="291.2" font-size="6.6" text-anchor="start" fill="#1a1a1a" stroke="#1a1a1a" stroke-width="0.22">0</text>
<text x="33.8" y="178.8" font-size="9" text-anchor="start" fill="#1f3fe6" stroke="#1f3fe6" stroke-width="0.22">TE</text>
<text x="145.2" y="178.6" font-size="8.2" fill="#101830" stroke="#101830" stroke-width="0.25">R<tspan font-size="5.6" dy="1.9">0</tspan></text>
<text x="3.9" y="164.2" font-size="12.2" text-anchor="start" fill="#1a1a1a" stroke="#1a1a1a" stroke-width="0.22">(d)</text>
<text x="79.8" y="251" font-size="10.4" text-anchor="start" fill="#141414" stroke="#141414" stroke-width="0.35" textLength="29.6" lengthAdjust="spacingAndGlyphs">m = −1</text>
<g filter="url(#vb)"><rect x="201" y="170" width="129" height="2" fill="url(#e0)"/>
<rect x="201" y="172" width="129" height="2" fill="url(#e1)"/>
<rect x="201" y="174" width="129" height="2" fill="url(#e2)"/>
<rect x="201" y="176" width="129" height="2" fill="url(#e3)"/>
<rect x="201" y="178" width="129" height="2" fill="url(#e4)"/>
<rect x="201" y="180" width="129" height="2" fill="url(#e5)"/>
<rect x="201" y="182" width="129" height="2" fill="url(#e6)"/>
<rect x="201" y="184" width="129" height="2" fill="url(#e7)"/>
<rect x="201" y="186" width="129" height="2" fill="url(#e8)"/>
<rect x="201" y="188" width="129" height="2" fill="url(#e9)"/>
<rect x="201" y="190" width="129" height="2" fill="url(#e10)"/>
<rect x="201" y="192" width="129" height="2" fill="url(#e11)"/>
<rect x="201" y="194" width="129" height="2" fill="url(#e12)"/>
<rect x="201" y="196" width="129" height="2" fill="url(#e13)"/>
<rect x="201" y="198" width="129" height="2" fill="url(#e14)"/>
<rect x="201" y="200" width="129" height="2" fill="url(#e15)"/>
<rect x="201" y="202" width="129" height="2" fill="url(#e16)"/>
<rect x="201" y="204" width="129" height="2" fill="url(#e17)"/>
<rect x="201" y="206" width="129" height="2" fill="url(#e18)"/>
<rect x="201" y="208" width="129" height="2" fill="url(#e19)"/>
<rect x="201" y="210" width="129" height="2" fill="url(#e20)"/>
<rect x="201" y="212" width="129" height="2" fill="url(#e21)"/>
<rect x="201" y="214" width="129" height="2" fill="url(#e22)"/>
<rect x="201" y="216" width="129" height="2" fill="url(#e23)"/>
<rect x="201" y="218" width="129" height="2" fill="url(#e24)"/>
<rect x="201" y="220" width="129" height="2" fill="url(#e25)"/>
<rect x="201" y="222" width="129" height="2" fill="url(#e26)"/>
<rect x="201" y="224" width="129" height="2" fill="url(#e27)"/>
<rect x="201" y="226" width="129" height="2" fill="url(#e28)"/>
<rect x="201" y="228" width="129" height="2" fill="url(#e29)"/>
<rect x="201" y="230" width="129" height="2" fill="url(#e30)"/>
<rect x="201" y="232" width="129" height="2" fill="url(#e31)"/>
<rect x="201" y="234" width="129" height="2" fill="url(#e32)"/>
<rect x="201" y="236" width="129" height="2" fill="url(#e33)"/>
<rect x="201" y="238" width="129" height="2" fill="url(#e34)"/>
<rect x="201" y="240" width="129" height="2" fill="url(#e35)"/>
<rect x="201" y="242" width="129" height="2" fill="url(#e36)"/>
<rect x="201" y="244" width="129" height="2" fill="url(#e37)"/>
<rect x="201" y="246" width="129" height="2" fill="url(#e38)"/>
<rect x="201" y="248" width="129" height="2" fill="url(#e39)"/>
<rect x="201" y="250" width="129" height="2" fill="url(#e40)"/>
<rect x="201" y="252" width="129" height="2" fill="url(#e41)"/>
<rect x="201" y="254" width="129" height="2" fill="url(#e42)"/>
<rect x="201" y="256" width="129" height="2" fill="url(#e43)"/>
<rect x="201" y="258" width="129" height="2" fill="url(#e44)"/>
<rect x="201" y="260" width="129" height="2" fill="url(#e45)"/>
<rect x="201" y="262" width="129" height="2" fill="url(#e46)"/>
<rect x="201" y="264" width="129" height="2" fill="url(#e47)"/>
<rect x="201" y="266" width="129" height="2" fill="url(#e48)"/>
<rect x="201" y="268" width="129" height="2" fill="url(#e49)"/>
<rect x="201" y="270" width="129" height="2" fill="url(#e50)"/>
<rect x="201" y="272" width="129" height="2" fill="url(#e51)"/>
<rect x="201" y="274" width="129" height="2" fill="url(#e52)"/>
<rect x="201" y="276" width="129" height="2" fill="url(#e53)"/>
<rect x="201" y="278" width="129" height="2" fill="url(#e54)"/>
<rect x="201" y="280" width="129" height="2" fill="url(#e55)"/>
<rect x="201" y="282" width="129" height="2" fill="url(#e56)"/>
<rect x="201" y="284" width="129" height="2" fill="url(#e57)"/>
<rect x="201" y="286" width="129" height="2" fill="url(#e58)"/>
<rect x="201" y="288" width="129" height="2" fill="url(#e59)"/>
<rect x="201" y="290" width="129" height="2" fill="url(#e60)"/>
<rect x="201" y="292" width="129" height="1" fill="url(#e61)"/></g>
<polyline points="201.77,292.9 203.95,290.83 206.12,288.75 208.3,286.68 210.47,284.61 212.64,282.54 214.8,280.46 216.95,278.39 219.1,276.32 221.23,274.24 223.36,272.17 225.47,270.1 227.57,268.03 229.65,265.95 231.72,263.88 233.77,261.81 235.81,259.73 237.82,257.66 239.82,255.59 241.79,253.52 243.74,251.44 245.67,249.37 247.57,247.3 249.45,245.22 251.3,243.15 253.12,241.08 254.92,239.01 256.68,236.93 258.41,234.86 260.12,232.79 261.79,230.71 263.42,228.64 265.02,226.57 266.59,224.49 268.12,222.42 269.61,220.35 271.06,218.28 272.48,216.2 273.86,214.13 275.19,212.06 276.49,209.98 277.74,207.91 278.95,205.84 280.11,203.77 281.24,201.69 282.32,199.62 283.35,197.55 284.34,195.47 285.28,193.4 286.17,191.33 287.02,189.26 287.82,187.18 288.57,185.11 289.27,183.04 289.93,180.96 290.53,178.89 291.09,176.82 291.59,174.75 292.05,172.67 292.45,170.6" fill="none" stroke="#111" stroke-width="1.2" stroke-dasharray="2.2 1.6"/>
<rect x="201.4" y="170.6" width="128.4" height="122.3" fill="none" stroke="#2a2a2a" stroke-width="0.9"/>
<line x1="199.4" y1="292.9" x2="201.4" y2="292.9" stroke="#2a2a2a" stroke-width="0.8"/>
<text x="198.2" y="295.25" font-size="6.6" text-anchor="end" fill="#1a1a1a" stroke="#1a1a1a" stroke-width="0.22">0</text>
<line x1="199.4" y1="277.61" x2="201.4" y2="277.61" stroke="#2a2a2a" stroke-width="0.8"/>
<text x="198.2" y="279.96" font-size="6.6" text-anchor="end" fill="#1a1a1a" stroke="#1a1a1a" stroke-width="0.22">10</text>
<line x1="199.4" y1="262.32" x2="201.4" y2="262.32" stroke="#2a2a2a" stroke-width="0.8"/>
<text x="198.2" y="264.68" font-size="6.6" text-anchor="end" fill="#1a1a1a" stroke="#1a1a1a" stroke-width="0.22">20</text>
<line x1="199.4" y1="247.04" x2="201.4" y2="247.04" stroke="#2a2a2a" stroke-width="0.8"/>
<text x="198.2" y="249.39" font-size="6.6" text-anchor="end" fill="#1a1a1a" stroke="#1a1a1a" stroke-width="0.22">30</text>
<line x1="199.4" y1="231.75" x2="201.4" y2="231.75" stroke="#2a2a2a" stroke-width="0.8"/>
<text x="198.2" y="234.1" font-size="6.6" text-anchor="end" fill="#1a1a1a" stroke="#1a1a1a" stroke-width="0.22">40</text>
<line x1="199.4" y1="216.46" x2="201.4" y2="216.46" stroke="#2a2a2a" stroke-width="0.8"/>
<text x="198.2" y="218.81" font-size="6.6" text-anchor="end" fill="#1a1a1a" stroke="#1a1a1a" stroke-width="0.22">50</text>
<line x1="199.4" y1="201.17" x2="201.4" y2="201.17" stroke="#2a2a2a" stroke-width="0.8"/>
<text x="198.2" y="203.52" font-size="6.6" text-anchor="end" fill="#1a1a1a" stroke="#1a1a1a" stroke-width="0.22">60</text>
<line x1="199.4" y1="185.89" x2="201.4" y2="185.89" stroke="#2a2a2a" stroke-width="0.8"/>
<text x="198.2" y="188.24" font-size="6.6" text-anchor="end" fill="#1a1a1a" stroke="#1a1a1a" stroke-width="0.22">70</text>
<line x1="199.4" y1="170.6" x2="201.4" y2="170.6" stroke="#2a2a2a" stroke-width="0.8"/>
<text x="198.2" y="172.95" font-size="6.6" text-anchor="end" fill="#1a1a1a" stroke="#1a1a1a" stroke-width="0.22">80</text>
<line x1="201.4" y1="292.9" x2="201.4" y2="294.9" stroke="#2a2a2a" stroke-width="0.8"/>
<text x="201.4" y="302.6" font-size="6.6" text-anchor="middle" fill="#1a1a1a" stroke="#1a1a1a" stroke-width="0.22">500</text>
<line x1="219.74" y1="292.9" x2="219.74" y2="294.9" stroke="#2a2a2a" stroke-width="0.8"/>
<text x="219.74" y="302.6" font-size="6.6" text-anchor="middle" fill="#1a1a1a" stroke="#1a1a1a" stroke-width="0.22">600</text>
<line x1="238.09" y1="292.9" x2="238.09" y2="294.9" stroke="#2a2a2a" stroke-width="0.8"/>
<text x="238.09" y="302.6" font-size="6.6" text-anchor="middle" fill="#1a1a1a" stroke="#1a1a1a" stroke-width="0.22">700</text>
<line x1="256.43" y1="292.9" x2="256.43" y2="294.9" stroke="#2a2a2a" stroke-width="0.8"/>
<text x="256.43" y="302.6" font-size="6.6" text-anchor="middle" fill="#1a1a1a" stroke="#1a1a1a" stroke-width="0.22">800</text>
<line x1="274.77" y1="292.9" x2="274.77" y2="294.9" stroke="#2a2a2a" stroke-width="0.8"/>
<text x="274.77" y="302.6" font-size="6.6" text-anchor="middle" fill="#1a1a1a" stroke="#1a1a1a" stroke-width="0.22">900</text>
<line x1="293.11" y1="292.9" x2="293.11" y2="294.9" stroke="#2a2a2a" stroke-width="0.8"/>
<text x="293.11" y="302.6" font-size="6.6" text-anchor="middle" fill="#1a1a1a" stroke="#1a1a1a" stroke-width="0.22">1000</text>
<line x1="311.46" y1="292.9" x2="311.46" y2="294.9" stroke="#2a2a2a" stroke-width="0.8"/>
<text x="311.46" y="302.6" font-size="6.6" text-anchor="middle" fill="#1a1a1a" stroke="#1a1a1a" stroke-width="0.22">1100</text>
<line x1="329.8" y1="292.9" x2="329.8" y2="294.9" stroke="#2a2a2a" stroke-width="0.8"/>
<text x="329.8" y="302.6" font-size="6.6" text-anchor="middle" fill="#1a1a1a" stroke="#1a1a1a" stroke-width="0.22">1200</text>
<text x="265.4" y="314" font-size="7.6" text-anchor="middle" fill="#1a1a1a" stroke="#1a1a1a" stroke-width="0.22">Wavelength (nm)</text>
<text x="184.6" y="232.35" font-size="7.6" text-anchor="middle" fill="#1a1a1a" stroke="#1a1a1a" stroke-width="0.22" transform="rotate(-90 184.6 232.35)" dy="2.6">θ (degree)</text>
<rect x="332.5" y="170.6" width="8.8" height="122.7" fill="url(#cmap)"/>
<rect x="332.5" y="292.4" width="8.8" height="0.9" fill="#1482d6"/>
<text x="345.3" y="176.2" font-size="6.6" text-anchor="start" fill="#1a1a1a" stroke="#1a1a1a" stroke-width="0.22">1</text>
<text x="346.3" y="291.2" font-size="6.6" text-anchor="start" fill="#1a1a1a" stroke="#1a1a1a" stroke-width="0.22">0</text>
<text x="207" y="178.8" font-size="9" text-anchor="start" fill="#1f3fe6" stroke="#1f3fe6" stroke-width="0.22">TE</text>
<text x="318.2" y="178.6" font-size="8.2" fill="#101830" stroke="#101830" stroke-width="0.25">T<tspan font-size="5.6" dy="1.9">0</tspan></text>
<text x="182" y="162.6" font-size="12.2" text-anchor="start" fill="#1a1a1a" stroke="#1a1a1a" stroke-width="0.22">(e)</text>
<text x="254.8" y="251.5" font-size="10.4" text-anchor="start" fill="#141414" stroke="#141414" stroke-width="0.35" textLength="29.6" lengthAdjust="spacingAndGlyphs">m = −1</text>
<clipPath id="clip22"><rect x="376.4" y="22.9" width="162" height="59.3"/></clipPath>
<g clip-path="url(#clip22)">
<polyline points="376.4,73.91 377.48,74.13 378.2,74.34 378.56,74.46 379.64,74.97 380.72,75.59 381.8,76.22 382.88,76.85 383.96,77.51 385.04,78.16 385.4,78.35 386.12,78.75 387.2,79.32 388.28,79.84 389,80.15 389.36,80.29 390.44,80.72 391.52,81.09 392.6,81.35 393.68,81.53 394.76,81.68 395.84,81.77 396.2,81.77 396.92,81.76 398,81.7 399.08,81.6 399.8,81.52 400.16,81.46 401.24,81.19 402.32,80.79 403.4,80.32 404.48,79.7 405.56,78.9 405.92,78.61 406.64,77.98 407.72,76.89 408.8,75.79 409.88,74.68 410.96,73.59 411.68,72.97 412.04,72.7 413.12,71.93 414.2,71.27 414.92,70.92 415.28,70.77 416.36,70.35 417.44,70.05 417.8,69.98 418.52,69.88 419.6,69.74 420.68,69.62 421.76,69.51 422.84,69.43 423.92,69.35 425,69.28 426.08,69.21 427.16,69.14 428.24,69.07 429.32,68.99 430.4,68.9 431.48,68.81 432.56,68.72 433.64,68.63 434.72,68.53 435.8,68.44 436.88,68.35 437.96,68.26 439.04,68.16 440.12,68.07 441.2,67.98 442.28,67.88 443.36,67.79 444.44,67.7 445.52,67.6 446.6,67.51 447.68,67.42 448.4,67.36 448.76,67.33 449.84,67.23 450.92,67.14 452,67.05 453.08,66.96 454.16,66.87 455.24,66.77 456.32,66.68 457.4,66.59 458.48,66.5 459.56,66.4 460.64,66.31 461.72,66.22 462.8,66.13 463.88,66.04 464.96,65.94 466.04,65.85 466.4,65.82 467.12,65.76 468.2,65.67 469.28,65.57 470.36,65.48 471.44,65.39 472.52,65.29 473.6,65.2 474.68,65.11 475.76,65.02 476.84,64.92 477.92,64.83 479,64.74 480.08,64.64 481.16,64.55 482.24,64.46 483.32,64.37 484.4,64.27 485.48,64.18 486.56,64.09 487.64,64 488.72,63.9 489.8,63.81 490.88,63.72 491.96,63.63 493.04,63.53 494.12,63.44 495.2,63.35 496.28,63.26 497.36,63.17 498.44,63.07 499.52,62.98 500.6,62.89 501.68,62.8 502.4,62.74 502.76,62.7 503.84,62.61 504.92,62.52 506,62.43 507.08,62.33 508.16,62.24 509.24,62.15 510.32,62.06 511.4,61.96 512.48,61.87 513.56,61.78 514.64,61.68 515.72,61.59 516.8,61.5 517.88,61.41 518.96,61.31 520.04,61.22 520.4,61.19 521.12,61.13 522.2,61.03 523.28,60.94 524.36,60.85 525.44,60.76 526.52,60.66 527.6,60.57 528.68,60.48 529.76,60.38 530.84,60.29 531.92,60.2 533,60.11 534.08,60.01 535.16,59.92 536.24,59.83 537.32,59.73 538.4,59.64" fill="none" stroke="#3a3a3a" stroke-width="1.35" stroke-linejoin="round"/>
<polyline points="376.4,71.43 377.48,72 378.56,72.51 379.28,72.8 379.64,72.93 380.72,73.33 381.8,73.68 382.88,73.96 383.6,74.08 383.96,74.13 385.04,74.23 386.12,74.31 387.2,74.37 388.28,74.45 389,74.51 389.36,74.55 390.44,74.67 391.52,74.82 392.6,74.97 393.68,75.11 394.4,75.19 394.76,75.23 395.84,75.34 396.92,75.44 398,75.54 399.08,75.64 399.8,75.71 400.16,75.74 401.24,75.84 402.32,75.94 403.4,76.04 404.48,76.14 405.2,76.22 405.56,76.26 406.64,76.39 407.72,76.52 408.8,76.65 409.88,76.73 410.96,76.84 411.32,76.9 412.04,77.25 412.76,77.93 413.12,78.6 413.84,80.49 414.2,81.37 414.74,82.2 415.28,80.48 416,75.36 416.36,71.84 417.08,63.4 417.44,59.56 417.8,57.42 418.52,61.69 419.6,69.38 420.68,70.24 421.76,70.22 422.84,70.19 423.92,70.14 425,70.07 426.08,70 427.16,69.92 428.24,69.85 429.32,69.78 430.4,69.72 431.48,69.68 432.56,69.63 433.64,69.58 434.72,69.53 435.8,69.49 436.88,69.44 437.96,69.39 439.04,69.34 440.12,69.29 441.2,69.24 442.28,69.19 443.36,69.15 444.44,69.1 445.52,69.05 446.6,69.01 447.68,68.96 448.76,68.92 449.84,68.88 450.92,68.84 452,68.8 453.08,68.77 454.16,68.73 455.24,68.7 456.32,68.67 457.4,68.64 458.48,68.62 459.56,68.6 460.64,68.58 461.72,68.56 462.8,68.55 463.88,68.54 464.96,68.53 466.04,68.53 466.4,68.53 467.12,68.54 468.2,68.59 469.28,68.67 470.36,68.78 471.44,68.91 471.8,68.96 472.52,69.11 473.6,69.49 474.68,69.94 475.4,70.24 475.76,70.4 476.84,70.96 477.92,71.26 479,71.24 480.08,71.17 480.8,71.09 481.16,70.9 482.24,69.11 482.96,67.67 483.32,66.98 484.4,64.57 485.48,62.55 486.56,61.17 487.64,60.17 488,59.98 488.72,59.72 489.8,59.4 490.88,59.19 491.6,59.13 491.96,59.11 493.04,59.07 494.12,59.02 495.2,58.98 496.28,58.94 497.36,58.89 498.44,58.86 499.52,58.82 500.6,58.78 501.68,58.75 502.76,58.72 503.84,58.68 504.92,58.66 506,58.63 507.08,58.6 508.16,58.57 509.24,58.55 510.32,58.53 511.4,58.5 512.48,58.48 513.56,58.46 514.64,58.45 515.72,58.43 516.8,58.41 517.88,58.4 518.96,58.38 520.04,58.37 521.12,58.36 522.2,58.35 523.28,58.34 524.36,58.33 525.44,58.32 526.52,58.31 527.6,58.3 528.68,58.3 529.76,58.29 530.84,58.29 531.92,58.28 533,58.28 534.08,58.28 535.16,58.28 536.24,58.28 537.32,58.28 538.4,58.27" fill="none" stroke="#1ddc9a" stroke-width="1.35" stroke-linejoin="round"/>
<polyline points="376.4,71.95 377.48,72.47 378.56,72.95 379.28,73.23 379.64,73.36 380.72,73.76 381.8,74.13 382.88,74.41 383.6,74.51 383.96,74.54 385.04,74.62 386.12,74.69 387.2,74.73 388.28,74.76 389,74.77 389.36,74.77 390.44,74.77 391.52,74.76 392.6,74.76 393.68,74.76 394.76,74.76 395.84,74.75 396.92,74.74 398,74.74 399.08,74.73 400.16,74.72 401.24,74.71 402.32,74.7 403.4,74.68 404.48,74.57 405.56,74.32 406.64,74.01 407,73.91 407.72,73.67 408.8,73.21 409.88,72.76 410.6,72.54 410.96,72.46 412.04,72.21 413.12,72.02 414.2,71.95 415.28,71.95 416.36,71.95 417.44,71.95 417.8,71.95 418.52,71.97 419.6,72.08 420.68,72.25 421.4,72.37 421.76,72.44 422.84,72.74 423.92,73.15 425,73.66 426.08,74.41 427.16,75.45 427.88,76.22 428.24,76.62 429.32,78.03 430.4,79.64 431.48,81.9 431.84,82.2 432.56,77.35 432.92,73.66 433.64,64.06 434,61.69 434.72,65.11 435.8,70.24 436.88,70.94 437.6,71.09 437.96,71.11 439.04,71.14 440.12,71.18 441.2,71.21 442.28,71.23 443.36,71.25 444.44,71.27 445.52,71.29 446.6,71.3 447.68,71.31 448.76,71.32 449.84,71.33 450.92,71.33 452,71.34 453.08,71.34 454.16,71.35 455.24,71.35 456.32,71.36 457.4,71.36 458.48,71.37 459.56,71.38 460.64,71.4 461.72,71.41 462.8,71.43 463.88,71.45 464.96,71.48 466.04,71.51 466.4,71.52 467.12,71.55 468.2,71.63 469.28,71.74 470.36,71.87 471.44,72.03 472.52,72.2 473.6,72.37 474.68,72.65 475.76,72.98 476.84,73.21 477.2,73.23 477.92,73.21 479,73.12 480.08,72.97 481.16,71.97 482.24,70.05 482.6,69.38 483.32,67.84 484.4,65.08 485.12,63.4 485.48,62.67 486.56,60.61 487.64,58.8 488,58.27 488.72,57.16 489.8,55.83 490.16,55.71 490.88,55.76 491.96,55.96 493.04,56.23 494.12,56.47 495.2,56.57 496.28,56.57 497.36,56.57 498.44,56.57 499.52,56.57 500.6,56.56 501.68,56.56 502.76,56.56 503.84,56.56 504.92,56.56 506,56.55 507.08,56.55 508.16,56.54 509.24,56.54 510.32,56.53 511.4,56.52 512.48,56.51 513.56,56.5 514.64,56.49 515.72,56.47 516.8,56.46 517.88,56.44 518.96,56.42 520.04,56.4 521.12,56.38 522.2,56.36 523.28,56.33 524.36,56.3 525.44,56.27 526.52,56.24 527.6,56.21 528.68,56.17 529.76,56.13 530.84,56.09 531.92,56.04 533,55.99 534.08,55.94 535.16,55.89 536.24,55.83 537.32,55.77 538.4,55.71" fill="none" stroke="#1e8cff" stroke-width="1.35" stroke-linejoin="round"/>
<polyline points="376.4,71.95 377.48,72.47 378.56,72.95 379.28,73.23 379.64,73.36 380.72,73.77 381.8,74.15 382.88,74.42 383.6,74.51 383.96,74.53 385.04,74.59 386.12,74.63 387.2,74.66 388.28,74.68 389,74.68 389.36,74.68 390.44,74.67 391.52,74.64 392.6,74.61 393.68,74.56 394.76,74.51 395.84,74.45 396.92,74.4 398,74.34 399.08,74.28 400.16,74.22 401.24,74.14 402.32,74.04 403.4,73.91 404.48,73.69 405.56,73.36 406.64,72.97 407.72,72.45 408.8,71.76 409.88,71.07 410.96,70.54 412.04,70.32 413.12,70.32 414.2,70.32 415.28,70.33 416.36,70.33 417.44,70.33 418.52,70.34 419.6,70.34 420.68,70.35 421.76,70.35 422.84,70.36 423.92,70.37 425,70.39 426.08,70.4 426.8,70.41 427.16,70.43 428.24,70.68 429.32,71.08 430.4,71.52 431.48,71.98 432.56,72.53 433.64,73.1 434.72,73.66 435.8,74.14 436.88,74.58 437.96,75.04 439.04,75.57 440.12,76.22 441.2,77.11 442.28,78.31 442.64,78.78 443.36,80.33 444.44,82.2 445.52,73.66 446.6,62.97 447.32,66.82 447.68,68.96 448.4,71.95 448.76,71.95 449.84,71.95 450.92,71.95 452,71.95 453.08,71.95 454.16,71.95 455.24,71.95 456.32,71.96 457.4,71.97 458.48,71.98 459.56,71.99 460.64,72.01 461.72,72.02 462.8,72.04 463.88,72.06 464.96,72.08 466.04,72.11 466.4,72.12 467.12,72.15 468.2,72.23 469.28,72.36 470.36,72.53 471.44,72.73 471.8,72.8 472.52,73.02 473.6,73.54 474.68,74.15 475.4,74.51 475.76,74.69 476.84,75.3 477.92,75.62 479,75.52 480.08,75.22 480.8,74.94 481.16,74.62 482.24,72.31 482.96,70.24 483.32,69 484.4,63.98 485.12,60.84 485.48,59.51 486.56,55.81 487.28,54 487.64,53.29 488.72,51.59 489.08,51.44 489.8,51.49 490.88,51.7 491.6,51.87 491.96,51.95 493.04,52.3 494.12,52.71 495.2,53.12 496.28,53.44 497,53.58 497.36,53.62 498.44,53.75 499.52,53.86 500.6,53.94 501.68,53.99 502.4,54 502.76,54 503.84,54 504.92,54 506,54 507.08,54 508.16,54 509.24,54 510.32,54 511.4,54 512.48,54 513.56,54 514.64,54 515.72,54 516.8,54 517.88,54 518.96,54 520.04,54 521.12,54 522.2,54 523.28,54 524.36,54 525.44,54 526.52,54 527.6,54 528.68,54 529.76,54 530.84,54 531.92,54 533,54 534.08,54 535.16,54 536.24,54 537.32,54 538.4,54" fill="none" stroke="#ff8c1a" stroke-width="1.35" stroke-linejoin="round"/>
</g>
<line x1="374.4" y1="82.2" x2="376.4" y2="82.2" stroke="#2a2a2a" stroke-width="0.7"/>
<text x="373.5" y="84.35" font-size="6.1" text-anchor="end" fill="#1a1a1a" stroke="#1a1a1a" stroke-width="0.1">0.0</text>
<line x1="374.4" y1="65.11" x2="376.4" y2="65.11" stroke="#2a2a2a" stroke-width="0.7"/>
<text x="373.5" y="67.26" font-size="6.1" text-anchor="end" fill="#1a1a1a" stroke="#1a1a1a" stroke-width="0.1">0.2</text>
<line x1="374.4" y1="48.02" x2="376.4" y2="48.02" stroke="#2a2a2a" stroke-width="0.7"/>
<text x="373.5" y="50.17" font-size="6.1" text-anchor="end" fill="#1a1a1a" stroke="#1a1a1a" stroke-width="0.1">0.4</text>
<line x1="374.4" y1="30.93" x2="376.4" y2="30.93" stroke="#2a2a2a" stroke-width="0.7"/>
<text x="373.5" y="33.08" font-size="6.1" text-anchor="end" fill="#1a1a1a" stroke="#1a1a1a" stroke-width="0.1">0.6</text>
<line x1="375.2" y1="73.66" x2="376.4" y2="73.66" stroke="#2a2a2a" stroke-width="0.6"/>
<line x1="375.2" y1="56.57" x2="376.4" y2="56.57" stroke="#2a2a2a" stroke-width="0.6"/>
<line x1="375.2" y1="39.48" x2="376.4" y2="39.48" stroke="#2a2a2a" stroke-width="0.6"/>
<text x="381.4" y="31.9" font-size="8.6" text-anchor="start" fill="#ff2a2a" stroke="#ff2a2a" stroke-width="0.22">TM</text>
<text x="400" y="31.9" font-size="8.6" text-anchor="start" fill="#1a1a1a" stroke="#1a1a1a" stroke-width="0.22">Sim.</text>
<clipPath id="clip82"><rect x="376.4" y="82.2" width="162" height="59.7"/></clipPath>
<g clip-path="url(#clip82)">
<polyline points="376.4,128.8 377.48,129.16 378.56,129.54 379.64,129.95 380.72,130.38 381.8,130.84 382.88,131.35 383.96,131.92 385.04,132.52 386.12,133.14 387.2,133.75 388.28,134.32 389,134.67 389.36,134.84 390.44,135.37 391.52,135.9 392.6,136.38 393.68,136.77 394.4,136.97 394.76,137.05 395.84,137.29 396.92,137.49 398,137.62 398.72,137.65 399.08,137.64 400.16,137.53 401.24,137.32 402.32,137.06 403.4,136.8 404.48,136.51 405.56,136.16 406.64,135.77 407.72,135.35 408.8,134.93 409.88,134.51 410.6,134.25 410.96,134.12 412.04,133.71 413.12,133.3 414.2,132.9 415.28,132.52 416,132.29 416.36,132.18 417.44,131.85 418.52,131.53 419.6,131.21 420.68,130.91 421.76,130.64 422.84,130.39 423.92,130.17 425,129.99 426.08,129.84 427.16,129.7 428.24,129.57 429.32,129.45 430.4,129.34 431.48,129.23 432.56,129.13 433.64,129.04 434.72,128.95 435.8,128.86 436.88,128.78 437.96,128.7 439.04,128.62 440.12,128.54 441.2,128.46 442.28,128.38 443.36,128.3 444.44,128.22 445.52,128.13 446.6,128.03 447.68,127.94 448.4,127.87 448.76,127.83 449.84,127.73 450.92,127.62 452,127.51 453.08,127.41 454.16,127.3 455.24,127.19 456.32,127.08 457.4,126.97 458.48,126.86 459.56,126.74 460.64,126.63 461.72,126.52 462.8,126.41 463.88,126.29 464.96,126.18 466.04,126.06 467.12,125.95 468.2,125.83 469.28,125.71 470.36,125.6 471.44,125.48 472.52,125.36 473.6,125.24 474.68,125.13 475.76,125.01 476.84,124.89 477.92,124.77 479,124.65 480.08,124.53 481.16,124.41 482.24,124.28 483.32,124.16 484.4,124.04 485.48,123.91 486.56,123.78 487.64,123.63 488.72,123.49 489.8,123.34 490.88,123.2 491.96,123.07 493.04,122.95 494.12,122.85 495.2,122.77 496.28,122.69 497.36,122.62 498.44,122.55 499.52,122.49 500.6,122.43 501.68,122.37 502.76,122.31 503.84,122.26 504.92,122.22 506,122.18 507.08,122.14 508.16,122.11 509.24,122.09 509.6,122.09 510.32,122.07 511.4,122.06 512.48,122.04 513.56,122.02 514.64,122.01 515.72,121.99 516.8,121.98 517.88,121.97 518.96,121.95 520.04,121.94 521.12,121.93 522.2,121.92 523.28,121.91 524.36,121.9 525.44,121.89 526.52,121.88 527.6,121.87 528.68,121.86 529.76,121.86 530.84,121.85 531.92,121.84 533,121.84 534.08,121.84 535.16,121.83 536.24,121.83 537.32,121.83 538.4,121.83" fill="none" stroke="#3a3a3a" stroke-width="1.35" stroke-linejoin="round"/>
<polyline points="376.4,126.59 377.48,127.03 378.56,127.47 379.64,127.89 380.72,128.31 381.8,128.72 382.88,129.14 383.96,129.6 385.04,130.05 386.12,130.47 387.2,130.84 388.28,131.13 389,131.27 389.36,131.32 390.44,131.46 391.52,131.56 392.6,131.65 393.68,131.72 394.76,131.8 395.84,131.88 396.92,131.99 398,132.12 399.08,132.3 400.16,132.53 401.24,132.8 402.32,133.09 403.4,133.4 404.48,133.75 405.56,134.17 406.64,134.6 407.72,134.99 408.8,135.27 409.88,135.48 410.96,135.66 412.04,135.77 412.4,135.78 413.12,135.74 414.2,135.55 415.28,135.29 416,135.1 416.36,134.99 417.44,134.53 418.52,133.96 419.6,133.35 420.68,132.82 421.4,132.55 421.76,132.43 422.84,132.12 423.92,131.85 425,131.61 426.08,131.39 426.8,131.27 427.16,131.21 428.24,131.05 429.32,130.9 430.4,130.77 431.48,130.65 432.56,130.53 433.64,130.42 434.72,130.31 435.8,130.2 436.88,130.08 437.6,129.99 437.96,129.95 439.04,129.82 440.12,129.7 441.2,129.57 442.28,129.44 443.36,129.31 444.44,129.19 445.52,129.06 446.6,128.93 447.68,128.8 448.76,128.68 449.84,128.55 450.92,128.42 452,128.29 453.08,128.17 454.16,128.04 455.24,127.92 456.32,127.79 457.4,127.67 458.48,127.54 459.56,127.42 460.64,127.29 461.72,127.17 462.8,127.04 463.88,126.91 464.96,126.77 466.04,126.64 466.4,126.59 467.12,126.5 468.2,126.36 469.28,126.23 470.36,126.1 471.44,125.96 472.52,125.83 473.6,125.69 474.68,125.55 475.76,125.41 476.84,125.27 477.92,125.11 479,124.96 480.08,124.79 481.16,124.62 482.24,124.43 483.32,124.24 484.4,124.04 485.48,123.79 486.56,123.47 487.64,123.1 488.72,122.71 489.8,122.31 490.88,121.94 491.96,121.6 493.04,121.33 494.12,121.14 495.2,121.06 496.28,121.05 497.36,121.03 498.44,121.02 499.52,121.01 500.6,120.99 501.68,120.98 502.76,120.97 503.84,120.96 504.92,120.95 506,120.94 507.08,120.93 508.16,120.92 509.24,120.91 510.32,120.9 511.4,120.89 512.48,120.89 513.56,120.88 514.64,120.87 515.72,120.87 516.8,120.86 517.88,120.85 518.96,120.85 520.04,120.84 521.12,120.84 522.2,120.84 523.28,120.83 524.36,120.83 525.44,120.83 526.52,120.82 527.6,120.82 528.68,120.82 529.76,120.82 530.84,120.81 531.92,120.81 533,120.81 534.08,120.81 535.16,120.81 536.24,120.81 537.32,120.81 538.4,120.81" fill="none" stroke="#1ddc9a" stroke-width="1.35" stroke-linejoin="round"/>
<polyline points="376.4,126.59 377.48,127.03 378.56,127.47 379.64,127.89 380.72,128.31 381.8,128.72 382.88,129.15 383.96,129.6 385.04,130.06 386.12,130.49 387.2,130.86 388.28,131.14 389,131.27 389.36,131.32 390.44,131.46 391.52,131.59 392.6,131.71 393.68,131.81 394.76,131.91 395.84,131.98 396.92,132.05 398,132.09 399.08,132.12 399.8,132.12 400.16,132.12 401.24,132.1 402.32,132.07 403.4,132.03 404.48,131.97 405.56,131.91 406.64,131.84 407.72,131.77 408.8,131.69 409.88,131.59 410.96,131.44 412.04,131.27 413.12,131.1 414.2,130.95 415.28,130.86 416,130.84 416.36,130.84 417.44,130.84 418.52,130.84 419.6,130.84 420.32,130.84 420.68,130.87 421.76,131.26 422.84,131.95 423.92,132.73 425,133.4 426.08,133.99 427.16,134.61 428.24,135.19 429.32,135.67 430.4,135.95 431.48,136.1 432.56,136.22 433.64,136.28 434,136.29 434.72,136.19 435.8,135.74 436.88,135.09 437.96,134.44 438.32,134.25 439.04,133.87 440.12,133.23 441.2,132.57 442.28,131.93 443.36,131.37 444.44,130.95 444.8,130.84 445.52,130.67 446.6,130.45 447.68,130.26 448.76,130.1 449.84,129.95 450.92,129.82 452,129.68 453.08,129.54 454.16,129.39 455.24,129.21 455.6,129.14 456.32,129 457.4,128.77 458.48,128.52 459.56,128.26 460.64,127.99 461.72,127.71 462.8,127.44 463.88,127.17 464.96,126.91 466.04,126.67 466.4,126.59 467.12,126.45 468.2,126.25 469.28,126.06 470.36,125.88 471.44,125.7 472.52,125.51 473.6,125.3 474.68,125.06 475.4,124.89 475.76,124.8 476.84,124.47 477.92,124.1 479,123.68 480.08,123.24 481.16,122.79 482.24,122.34 483.32,121.9 484.4,121.49 485.48,121.07 486.56,120.6 487.64,120.14 488.72,119.7 489.8,119.33 490.88,119.05 491.6,118.94 491.96,118.9 493.04,118.78 494.12,118.68 495.2,118.58 496.28,118.5 497.36,118.42 498.44,118.36 499.52,118.31 500.6,118.28 501.68,118.26 502.4,118.26 502.76,118.26 503.84,118.26 504.92,118.26 506,118.26 507.08,118.26 508.16,118.26 509.24,118.26 510.32,118.26 511.4,118.26 512.48,118.26 513.56,118.26 514.64,118.26 515.72,118.26 516.8,118.26 517.88,118.26 518.96,118.26 520.04,118.26 521.12,118.26 522.2,118.26 523.28,118.26 524.36,118.26 525.44,118.26 526.52,118.26 527.6,118.26 528.68,118.26 529.76,118.26 530.84,118.26 531.92,118.26 533,118.26 534.08,118.26 535.16,118.26 536.24,118.26 537.32,118.26 538.4,118.26" fill="none" stroke="#1e8cff" stroke-width="1.35" stroke-linejoin="round"/>
<polyline points="376.4,126.08 377.48,126.63 378.56,127.16 379.64,127.69 380,127.87 380.72,128.23 381.8,128.79 382.88,129.35 383.96,129.87 385.04,130.3 385.4,130.42 386.12,130.64 387.2,130.98 388.28,131.3 389.36,131.58 390.44,131.81 391.52,131.96 392.6,132.04 393.68,132.05 394.76,132.07 395.84,132.09 396.92,132.1 398,132.11 399.08,132.11 400.16,132.12 401.24,132.12 401.6,132.12 402.32,132.11 403.4,132.06 404.48,131.98 405.56,131.87 406.64,131.73 407.72,131.58 408.8,131.41 409.88,131.24 410.96,131.07 412.04,130.9 412.4,130.84 413.12,130.72 414.2,130.48 415.28,130.21 416.36,129.94 417.44,129.71 418.52,129.55 419.6,129.48 420.68,129.5 421.76,129.54 422.84,129.61 423.92,129.7 425,129.8 426.08,129.91 426.8,129.99 427.16,130.04 428.24,130.25 429.32,130.55 430.4,130.9 431.48,131.28 432.56,131.66 433.64,132.01 434,132.12 434.72,132.33 435.8,132.66 436.88,133 437.96,133.33 439.04,133.66 440.12,133.97 441.2,134.26 442.28,134.52 443,134.67 443.36,134.74 444.44,134.97 445.52,135.19 446.6,135.4 447.68,135.58 448.76,135.71 449.84,135.77 450.2,135.78 450.92,135.76 452,135.67 453.08,135.53 454.16,135.34 455.24,135.13 456.32,134.9 457.4,134.67 458.48,134.42 459.56,134.14 460.64,133.81 461.72,133.45 462.8,133.07 463.88,132.67 464.96,132.26 466.04,131.84 466.4,131.69 467.12,131.41 468.2,130.95 469.28,130.46 470.36,129.95 471.44,129.41 472.52,128.86 473.6,128.29 474.68,127.72 475.76,127.13 476.84,126.5 477.92,125.82 479,125.06 480.08,124.12 481.16,122.99 482.24,121.81 483.32,120.7 484.4,119.79 485.48,119.06 486.56,118.38 487.64,117.78 488.72,117.25 489.8,116.81 490.88,116.4 491.96,116.02 493.04,115.81 493.4,115.79 494.12,115.79 495.2,115.79 496.28,115.79 497.36,115.79 498.44,115.79 499.52,115.79 500.6,115.79 501.68,115.79 502.76,115.79 503.84,115.79 504.92,115.79 506,115.8 507.08,115.8 508.16,115.8 509.24,115.8 510.32,115.8 511.4,115.8 512.48,115.8 513.56,115.81 514.64,115.81 515.72,115.81 516.8,115.82 517.88,115.82 518.96,115.82 520.04,115.83 521.12,115.83 522.2,115.84 523.28,115.84 524.36,115.85 525.44,115.85 526.52,115.86 527.6,115.87 528.68,115.87 529.76,115.88 530.84,115.89 531.92,115.9 533,115.91 534.08,115.92 535.16,115.93 536.24,115.94 537.32,115.95 538.4,115.96" fill="none" stroke="#ff8c1a" stroke-width="1.35" stroke-linejoin="round"/>
</g>
<line x1="374.4" y1="141.9" x2="376.4" y2="141.9" stroke="#2a2a2a" stroke-width="0.7"/>
<text x="373.5" y="144.05" font-size="6.1" text-anchor="end" fill="#1a1a1a" stroke="#1a1a1a" stroke-width="0.1">0.0</text>
<line x1="374.4" y1="124.89" x2="376.4" y2="124.89" stroke="#2a2a2a" stroke-width="0.7"/>
<text x="373.5" y="127.04" font-size="6.1" text-anchor="end" fill="#1a1a1a" stroke="#1a1a1a" stroke-width="0.1">0.2</text>
<line x1="374.4" y1="107.88" x2="376.4" y2="107.88" stroke="#2a2a2a" stroke-width="0.7"/>
<text x="373.5" y="110.03" font-size="6.1" text-anchor="end" fill="#1a1a1a" stroke="#1a1a1a" stroke-width="0.1">0.4</text>
<line x1="374.4" y1="90.87" x2="376.4" y2="90.87" stroke="#2a2a2a" stroke-width="0.7"/>
<text x="373.5" y="93.02" font-size="6.1" text-anchor="end" fill="#1a1a1a" stroke="#1a1a1a" stroke-width="0.1">0.6</text>
<line x1="375.2" y1="133.4" x2="376.4" y2="133.4" stroke="#2a2a2a" stroke-width="0.6"/>
<line x1="375.2" y1="116.39" x2="376.4" y2="116.39" stroke="#2a2a2a" stroke-width="0.6"/>
<line x1="375.2" y1="99.38" x2="376.4" y2="99.38" stroke="#2a2a2a" stroke-width="0.6"/>
<text x="381.4" y="91.2" font-size="8.6" text-anchor="start" fill="#ff2a2a" stroke="#ff2a2a" stroke-width="0.22">TM</text>
<text x="400" y="91.2" font-size="8.6" text-anchor="start" fill="#1a1a1a" stroke="#1a1a1a" stroke-width="0.22">Exp.</text>
<line x1="498" y1="86.9" x2="512" y2="86.9" stroke="#3a3a3a" stroke-width="1.7"/>
<text x="514.8" y="89.1" font-size="5.9" text-anchor="start" fill="#4a4a4a" stroke="#4a4a4a" stroke-width="0.15">ϑ=0°</text>
<line x1="498" y1="94.8" x2="512" y2="94.8" stroke="#1ddc9a" stroke-width="1.7"/>
<text x="514.8" y="97" font-size="5.9" text-anchor="start" fill="#4a4a4a" stroke="#4a4a4a" stroke-width="0.15">ϑ=17.5°</text>
<line x1="498" y1="102.7" x2="512" y2="102.7" stroke="#1e8cff" stroke-width="1.7"/>
<text x="514.8" y="104.9" font-size="5.9" text-anchor="start" fill="#4a4a4a" stroke="#4a4a4a" stroke-width="0.15">ϑ=23.5°</text>
<line x1="498" y1="110.6" x2="512" y2="110.6" stroke="#ff8c1a" stroke-width="1.7"/>
<text x="514.8" y="112.8" font-size="5.9" text-anchor="start" fill="#4a4a4a" stroke="#4a4a4a" stroke-width="0.15">ϑ=28.5°</text>
<clipPath id="clip172"><rect x="376.4" y="172" width="162" height="59.4"/></clipPath>
<g clip-path="url(#clip172)">
<polyline points="376.4,210.79 377.48,210.19 378.56,209.59 379.64,208.99 380.72,208.39 381.8,207.79 382.88,207.19 383.96,206.59 385.04,205.98 385.4,205.78 386.12,205.38 387.2,204.77 388.28,204.15 389.36,203.54 390.44,202.92 391.52,202.3 392.6,201.68 393.68,201.05 394.76,200.42 395.84,199.79 396.92,199.15 398,198.51 399.08,197.86 400.16,197.2 401.24,196.53 402.32,195.85 403.4,195.16 404.48,194.46 405.56,193.74 406.64,193.02 407.72,192.28 408.8,191.55 409.88,190.81 410.96,190.09 412.04,189.37 413.12,188.66 413.84,188.21 414.2,187.98 415.28,187.31 416.36,186.66 417.44,186.02 418.52,185.4 419.6,184.77 420.68,184.15 421.4,183.74 421.76,183.53 422.84,182.91 423.92,182.28 425,181.67 426.08,181.07 427.16,180.49 428.24,179.93 428.6,179.75 429.32,179.39 430.4,178.89 431.48,178.41 432.56,177.97 433.64,177.56 434.72,177.19 435.8,176.85 436.88,176.55 437.96,176.29 439.04,176.07 440.12,175.89 441.2,175.75 442.28,175.65 443.36,175.6 444.44,175.6 445.52,175.63 446.6,175.72 447.68,175.84 448.76,176.01 449.84,176.2 450.92,176.41 452,176.64 453.08,176.89 454.16,177.14 455.24,177.4 455.6,177.48 456.32,177.65 457.4,177.89 458.48,178.13 459.56,178.37 460.64,178.6 461.72,178.83 462.8,179.06 463.88,179.29 464.96,179.51 466.04,179.75 467.12,179.98 468.2,180.22 469.28,180.47 470.36,180.74 471.44,181.04 472.52,181.36 473.6,181.71 474.68,182.11 475.76,182.55 476.84,183.03 477.92,183.56 479,184.12 480.08,184.72 481.16,185.34 482.24,185.98 483.32,186.64 484.4,187.31 485.48,187.98 485.84,188.21 486.56,188.65 487.64,189.32 488.72,189.98 489.8,190.64 490.88,191.29 491.96,191.94 493.04,192.59 494.12,193.23 495.2,193.87 496.28,194.5 497.36,195.12 498.44,195.74 499.52,196.36 500.6,196.96 501.68,197.56 502.76,198.15 503.84,198.74 504.2,198.93 504.92,199.31 506,199.88 507.08,200.43 508.16,200.98 509.24,201.52 510.32,202.05 511.4,202.56 512.48,203.07 513.2,203.4 513.56,203.56 514.64,204.04 515.72,204.51 516.8,204.97 517.88,205.41 518.96,205.83 520.04,206.23 521.12,206.61 522.2,206.97 523.28,207.31 524.36,207.63 525.44,207.94 526.52,208.24 527.6,208.53 528.68,208.83 529.76,209.14 530.48,209.36 530.84,209.46 531.92,209.8 533,210.15 534.08,210.52 535.16,210.89 536.24,211.27 537.32,211.65 538.4,212.04" fill="none" stroke="#3a3a3a" stroke-width="1.35" stroke-linejoin="round"/>
<polyline points="376.4,212.75 377.48,213.46 378.56,214.15 379.64,214.81 380.72,215.4 381.8,215.91 382.88,216.33 383.96,216.67 385.04,216.95 386.12,217.18 387.2,217.4 388.28,217.6 389.36,217.8 390.44,217.97 391.52,218.12 392.6,218.22 393.68,218.28 394.76,218.29 395.84,218.24 396.92,218.13 398,217.97 399.08,217.76 400.16,217.5 401.24,217.21 401.6,217.1 402.32,216.88 403.4,216.51 404.48,216.1 405.56,215.65 405.92,215.49 406.64,215.15 407.72,214.49 408.8,213.53 409.88,212.1 410.6,210.79 410.96,210 412.04,207.31 412.4,206.38 413.12,204.58 414.2,202.21 415.28,200.42 416.36,199.09 417.44,198.05 417.8,197.74 418.52,197.12 419.6,196.21 420.68,195.32 421.76,194.44 422.48,193.87 422.84,193.58 423.92,192.72 425,191.87 426.08,191.02 427.16,190.18 428.24,189.35 429.32,188.51 430.4,187.68 431.48,186.85 432.2,186.3 432.56,186.02 433.64,185.2 434.72,184.38 435.8,183.58 436.88,182.79 437.96,182.03 439.04,181.3 440.12,180.61 441.2,179.95 441.56,179.75 442.28,179.35 443.36,178.79 444.44,178.28 445.52,177.82 446.6,177.41 447.68,177.05 448.76,176.74 449.84,176.49 450.92,176.29 452,176.14 453.08,176.05 454.16,176 454.52,175.99 455.24,175.99 456.32,176.03 457.4,176.12 458.48,176.27 459.56,176.48 460.64,176.77 461,176.89 461.72,177.14 462.8,177.57 463.88,178.04 464.96,178.52 466.04,178.97 467.12,179.38 468.2,179.75 469.28,180.1 470.36,180.43 471.44,180.75 472.52,181.09 473.6,181.44 474.68,181.82 475.76,182.25 476.84,182.72 477.92,183.25 479,183.81 480.08,184.41 481.16,185.04 482.24,185.68 483.32,186.34 484.4,187.01 485.48,187.68 485.84,187.91 486.56,188.35 487.64,189.01 488.72,189.67 489.8,190.32 490.88,190.97 491.96,191.61 493.04,192.26 494.12,192.91 495.2,193.57 496.28,194.23 497.36,194.89 498.44,195.54 499.52,196.2 500.6,196.85 501.68,197.49 502.76,198.12 503.84,198.73 504.2,198.93 504.92,199.32 506,199.9 507.08,200.47 508.16,201.01 509.24,201.55 510.32,202.07 511.4,202.57 512.48,203.07 513.2,203.4 513.56,203.56 514.64,204.04 515.72,204.51 516.8,204.96 517.88,205.4 518.96,205.82 520.04,206.23 521.12,206.61 522.2,206.97 523.28,207.31 524.36,207.63 525.44,207.94 526.52,208.24 527.6,208.54 528.68,208.84 529.76,209.14 530.48,209.36 530.84,209.46 531.92,209.8 533,210.15 534.08,210.52 535.16,210.89 536.24,211.27 537.32,211.65 538.4,212.04" fill="none" stroke="#1ddc9a" stroke-width="1.35" stroke-linejoin="round"/>
<polyline points="376.4,212.75 377.48,213.44 378.56,214.11 379.64,214.75 380.72,215.36 381.8,215.91 382.88,216.4 383.96,216.83 385.04,217.21 386.12,217.55 387.2,217.85 388.28,218.12 389,218.29 389.36,218.37 390.44,218.6 391.52,218.81 392.6,218.99 393.68,219.13 394.76,219.23 395.84,219.29 396.56,219.31 396.92,219.3 398,219.26 399.08,219.18 400.16,219.06 401.24,218.92 402.32,218.76 403.4,218.59 404.48,218.41 405.2,218.29 405.56,218.24 406.64,218.07 407.72,217.9 408.8,217.72 409.88,217.53 410.96,217.3 412.04,217.04 413.12,216.74 413.84,216.51 414.2,216.38 415.28,215.96 416.36,215.47 417.44,214.9 418.52,214.24 419.6,213.49 420.32,212.93 420.68,212.63 421.76,211.67 422.84,210.6 423.92,209.43 425,208.16 426.08,206.78 427.16,205.19 427.52,204.59 428.24,203.28 429.32,201.15 429.68,200.42 430.4,198.99 431.48,196.93 432.56,195.06 433.64,193.43 434.72,192.03 435.8,190.82 436.88,189.77 437.96,188.86 439.04,188.04 440.12,187.27 441.2,186.54 441.56,186.3 442.28,185.81 443.36,185.06 444.44,184.3 445.52,183.53 446.6,182.76 447.68,182 448.76,181.24 449.84,180.48 450.92,179.75 452,179.03 453.08,178.34 454.16,177.7 455.24,177.13 456.32,176.65 457.4,176.26 458.48,175.99 459.56,175.85 460.64,175.86 461.72,176 462.8,176.29 463.88,176.72 464.96,177.24 466.04,177.78 467.12,178.29 468.2,178.77 469.28,179.23 470.36,179.68 471.44,180.11 472.52,180.55 473.6,181 474.68,181.46 475.76,181.95 476.84,182.47 477.92,183.02 479,183.6 480.08,184.2 481.16,184.82 482.24,185.45 483.32,186.09 484.4,186.74 485.48,187.39 485.84,187.61 486.56,188.04 487.64,188.69 488.72,189.34 489.8,189.99 490.88,190.64 491.96,191.29 493.04,191.95 494.12,192.61 495.2,193.27 496.28,193.94 497.36,194.61 498.44,195.28 499.52,195.95 500.6,196.61 501.68,197.26 502.76,197.91 503.84,198.54 504.2,198.75 504.92,199.16 506,199.76 507.08,200.35 508.16,200.92 509.24,201.48 510.32,202.02 511.4,202.55 512.48,203.06 513.2,203.4 513.56,203.56 514.64,204.05 515.72,204.52 516.8,204.98 517.88,205.41 518.96,205.83 520.04,206.23 521.12,206.61 522.2,206.97 523.28,207.31 524.36,207.63 525.44,207.94 526.52,208.24 527.6,208.53 528.68,208.83 529.76,209.14 530.48,209.36 530.84,209.47 531.92,209.8 533,210.15 534.08,210.52 535.16,210.89 536.24,211.27 537.32,211.65 538.4,212.04" fill="none" stroke="#1e8cff" stroke-width="1.35" stroke-linejoin="round"/>
<polyline points="376.4,212.75 377.48,213.54 378.56,214.31 379.64,215.07 380.72,215.8 381.8,216.51 382.88,217.17 383.96,217.79 385.04,218.36 386.12,218.89 387.2,219.38 388.28,219.81 389,220.08 389.36,220.2 390.44,220.55 391.52,220.84 392.6,221.08 393.68,221.27 394.76,221.4 395.84,221.49 396.56,221.51 396.92,221.51 398,221.49 399.08,221.41 400.16,221.3 401.24,221.14 402.32,220.96 403.4,220.76 404.48,220.53 405.2,220.38 405.56,220.3 406.64,220.05 407.72,219.8 408.8,219.55 409.88,219.28 410.96,219.02 412.04,218.75 413.12,218.48 413.84,218.29 414.2,218.2 415.28,217.93 416.36,217.65 417.44,217.37 418.52,217.1 419.6,216.82 420.68,216.54 421.76,216.27 422.84,216 423.2,215.91 423.92,215.73 425,215.46 426.08,215.17 427.16,214.87 428.24,214.53 429.32,214.16 430.4,213.75 431.48,213.28 432.56,212.75 433.64,212.15 434.72,211.48 435.8,210.74 436.88,209.94 437.6,209.36 437.96,209.05 439.04,208.08 440.12,206.97 441.2,205.57 442.28,203.28 442.64,202.21 443.36,199.54 444.44,194.94 445.52,190.89 446.6,188.39 447.68,186.94 448.4,186.12 448.76,185.66 449.84,184.11 450.92,182.55 452,181.21 453.08,180.13 454.16,179.26 455.24,178.55 456.32,177.96 456.68,177.78 457.4,177.44 458.48,176.99 459.56,176.61 460.64,176.31 461.72,176.09 462.44,175.99 462.8,175.96 463.88,175.93 464.96,176.01 466.04,176.2 466.4,176.29 467.12,176.51 468.2,176.94 469.28,177.47 470.36,178.08 471.44,178.74 472.52,179.45 473.6,180.19 474.68,180.92 475.76,181.65 476.84,182.35 477.92,183.03 479,183.68 480.08,184.31 481.16,184.92 482.24,185.53 483.32,186.12 484.4,186.72 485.48,187.31 486.56,187.9 487.64,188.49 488.72,189.09 489.8,189.69 490.88,190.31 491.96,190.93 493.04,191.56 494.12,192.19 495.2,192.83 496.28,193.48 497.36,194.13 498.44,194.78 499.52,195.43 499.88,195.65 500.6,196.09 501.68,196.75 502.76,197.4 503.84,198.05 504.92,198.7 506,199.34 507.08,199.98 508.16,200.6 509.24,201.21 509.96,201.61 510.32,201.81 511.4,202.39 512.48,202.96 513.56,203.52 514.64,204.06 515.72,204.58 516.8,205.09 517.88,205.59 518.96,206.07 519.68,206.38 520.04,206.53 521.12,206.98 522.2,207.41 523.28,207.83 524.36,208.25 525.44,208.65 526.52,209.05 527.6,209.45 528.68,209.85 529.76,210.25 530.84,210.65 531.92,211.06 533,211.46 534.08,211.87 535.16,212.29 536.24,212.7 537.32,213.11 538.4,213.53" fill="none" stroke="#ff8c1a" stroke-width="1.35" stroke-linejoin="round"/>
</g>
<line x1="374.4" y1="231.4" x2="376.4" y2="231.4" stroke="#2a2a2a" stroke-width="0.7"/>
<text x="373.5" y="233.55" font-size="6.1" text-anchor="end" fill="#1a1a1a" stroke="#1a1a1a" stroke-width="0.1">0.0</text>
<line x1="374.4" y1="213.53" x2="376.4" y2="213.53" stroke="#2a2a2a" stroke-width="0.7"/>
<text x="373.5" y="215.68" font-size="6.1" text-anchor="end" fill="#1a1a1a" stroke="#1a1a1a" stroke-width="0.1">0.3</text>
<line x1="374.4" y1="195.65" x2="376.4" y2="195.65" stroke="#2a2a2a" stroke-width="0.7"/>
<text x="373.5" y="197.8" font-size="6.1" text-anchor="end" fill="#1a1a1a" stroke="#1a1a1a" stroke-width="0.1">0.6</text>
<line x1="374.4" y1="177.78" x2="376.4" y2="177.78" stroke="#2a2a2a" stroke-width="0.7"/>
<text x="373.5" y="179.93" font-size="6.1" text-anchor="end" fill="#1a1a1a" stroke="#1a1a1a" stroke-width="0.1">0.9</text>
<line x1="375.2" y1="222.46" x2="376.4" y2="222.46" stroke="#2a2a2a" stroke-width="0.6"/>
<line x1="375.2" y1="204.59" x2="376.4" y2="204.59" stroke="#2a2a2a" stroke-width="0.6"/>
<line x1="375.2" y1="186.72" x2="376.4" y2="186.72" stroke="#2a2a2a" stroke-width="0.6"/>
<text x="379.9" y="182.8" font-size="8.6" text-anchor="start" fill="#2a2aff" stroke="#2a2aff" stroke-width="0.22">TE</text>
<text x="397.2" y="182.8" font-size="8.6" text-anchor="start" fill="#1a1a1a" stroke="#1a1a1a" stroke-width="0.22">Sim.</text>
<line x1="500.3" y1="175.9" x2="514.3" y2="175.9" stroke="#3a3a3a" stroke-width="1.7"/>
<text x="517.1" y="178.1" font-size="5.9" text-anchor="start" fill="#4a4a4a" stroke="#4a4a4a" stroke-width="0.15">ϑ=0°</text>
<line x1="500.3" y1="183.8" x2="514.3" y2="183.8" stroke="#1ddc9a" stroke-width="1.7"/>
<text x="517.1" y="186" font-size="5.9" text-anchor="start" fill="#4a4a4a" stroke="#4a4a4a" stroke-width="0.15">ϑ=17.5°</text>
<line x1="500.3" y1="191.7" x2="514.3" y2="191.7" stroke="#1e8cff" stroke-width="1.7"/>
<text x="517.1" y="193.9" font-size="5.9" text-anchor="start" fill="#4a4a4a" stroke="#4a4a4a" stroke-width="0.15">ϑ=23.5°</text>
<line x1="500.3" y1="199.6" x2="514.3" y2="199.6" stroke="#ff8c1a" stroke-width="1.7"/>
<text x="517.1" y="201.8" font-size="5.9" text-anchor="start" fill="#4a4a4a" stroke="#4a4a4a" stroke-width="0.15">ϑ=28.5°</text>
<clipPath id="clip231"><rect x="376.4" y="231.4" width="162" height="60.3"/></clipPath>
<g clip-path="url(#clip231)">
<polyline points="376.4,268.79 377.48,268.23 378.56,267.68 379.64,267.13 380.72,266.58 381.8,266.04 382.88,265.5 383.96,264.96 385.04,264.44 385.4,264.26 386.12,263.92 387.2,263.41 388.28,262.91 389.36,262.41 390.44,261.92 391.52,261.44 392.6,260.97 393.68,260.5 394.76,260.04 395.84,259.59 396.92,259.14 398,258.7 399.08,258.26 400.16,257.83 401.24,257.4 402.32,256.97 403.4,256.54 404.48,256.12 405.56,255.7 406.64,255.29 407.72,254.87 408.8,254.45 409.88,254.04 410.96,253.62 412.04,253.2 413.12,252.78 413.84,252.5 414.2,252.37 415.28,251.94 416.36,251.52 417.44,251.1 418.52,250.68 419.6,250.26 420.68,249.85 421.76,249.43 422.84,249.02 423.2,248.89 423.92,248.62 425,248.22 426.08,247.82 427.16,247.43 428.24,247.05 429.32,246.67 430.4,246.3 431.48,245.93 432.56,245.57 433.64,245.22 434.72,244.87 435.8,244.53 436.88,244.2 437.96,243.88 439.04,243.56 440.12,243.26 441.2,242.96 441.56,242.86 442.28,242.66 443.36,242.38 444.44,242.11 445.52,241.84 446.6,241.6 447.68,241.36 448.76,241.14 449.84,240.93 450.92,240.75 452,240.58 453.08,240.43 454.16,240.3 455.24,240.19 456.32,240.09 457.4,240.02 458.48,239.97 459.56,239.94 460.64,239.93 461.72,239.94 462.8,239.96 463.88,240 464.96,240.06 466.04,240.14 467.12,240.23 468.2,240.34 469.28,240.47 470,240.57 470.36,240.62 471.44,240.78 472.52,240.96 473.6,241.17 474.68,241.4 475.76,241.65 476.84,241.93 477.92,242.23 479,242.56 480.08,242.92 481.16,243.3 482.24,243.71 483.32,244.15 484.4,244.61 485.48,245.1 485.84,245.27 486.56,245.62 487.64,246.15 488.72,246.7 489.8,247.26 490.88,247.81 491.96,248.35 493.04,248.87 494.12,249.36 495.2,249.81 495.92,250.09 496.28,250.22 497.36,250.59 498.44,250.91 499.52,251.2 500.6,251.47 501.68,251.72 502.76,251.96 503.84,252.21 504.92,252.47 506,252.75 507.08,253.05 508.16,253.37 509.24,253.72 510.32,254.1 511.4,254.49 512.48,254.91 513.56,255.34 514.64,255.79 515.72,256.26 516.08,256.42 516.8,256.75 517.88,257.25 518.96,257.76 520.04,258.27 521.12,258.79 522.2,259.3 523.28,259.81 524.36,260.32 525.44,260.81 526.16,261.13 526.52,261.29 527.6,261.75 528.68,262.19 529.76,262.62 530.84,263.04 531.92,263.45 533,263.85 534.08,264.25 535.16,264.63 536.24,265.01 537.32,265.39 538.4,265.77" fill="none" stroke="#3a3a3a" stroke-width="1.35" stroke-linejoin="round"/>
<polyline points="376.4,269.75 377.48,270.19 378.56,270.63 379.64,271.06 380.72,271.47 381.8,271.87 382.88,272.24 383.96,272.59 385.04,272.91 385.4,273.01 386.12,273.19 387.2,273.44 388.28,273.66 389.36,273.85 390.44,274.02 391.52,274.17 392.6,274.29 393.68,274.41 394.76,274.51 395.84,274.61 396.92,274.69 398,274.76 399.08,274.79 400.16,274.8 401.24,274.77 402.32,274.69 403.4,274.57 403.76,274.51 404.48,274.39 405.56,274.15 406.64,273.84 407.72,273.46 408.8,273.01 409.88,272.47 410.96,271.85 412.04,271.14 413.12,270.34 413.84,269.75 414.2,269.44 415.28,268.46 416.36,267.4 417.44,266.3 418.52,265.17 419.6,264.03 420.68,262.89 421.76,261.78 422.84,260.69 423.2,260.34 423.92,259.66 425,258.67 426.08,257.73 427.16,256.83 428.24,255.96 429.32,255.12 430.4,254.31 431.48,253.52 432.56,252.75 433.64,251.98 434.72,251.24 435.8,250.51 436.88,249.8 437.96,249.12 439.04,248.47 440.12,247.85 441.2,247.26 441.56,247.08 442.28,246.72 443.36,246.21 444.44,245.74 445.52,245.3 446.6,244.88 447.68,244.5 448.76,244.13 449.84,243.79 450.92,243.46 452,243.14 453.08,242.84 454.16,242.55 455.24,242.27 456.32,242.01 457.4,241.75 458.48,241.51 459.2,241.35 459.56,241.27 460.64,241.05 461.72,240.85 462.8,240.68 463.88,240.55 464.96,240.47 466.04,240.44 467.12,240.48 468.2,240.58 469.28,240.72 470.36,240.91 471.44,241.14 472.52,241.39 473.6,241.67 474.68,241.96 475.76,242.25 476.84,242.55 477.92,242.85 479,243.16 480.08,243.48 481.16,243.82 482.24,244.17 483.32,244.56 484.4,244.97 485.48,245.41 485.84,245.57 486.56,245.9 487.64,246.41 488.72,246.95 489.8,247.5 490.88,248.06 491.96,248.6 493.04,249.14 494.12,249.64 495.2,250.11 495.92,250.39 496.28,250.53 497.36,250.9 498.44,251.23 499.52,251.53 500.6,251.8 501.68,252.06 502.76,252.31 503.84,252.56 504.92,252.83 506,253.11 507.08,253.42 508.16,253.75 509.24,254.11 510.32,254.49 511.4,254.9 512.48,255.32 513.56,255.76 514.64,256.22 515.72,256.69 516.08,256.85 516.8,257.17 517.88,257.66 518.96,258.17 520.04,258.68 521.12,259.19 522.2,259.7 523.28,260.21 524.36,260.72 525.44,261.22 526.16,261.55 526.52,261.71 527.6,262.2 528.68,262.67 529.76,263.14 530.84,263.59 531.92,264.05 533,264.49 534.08,264.93 535.16,265.37 536.24,265.81 537.32,266.24 538.4,266.68" fill="none" stroke="#1ddc9a" stroke-width="1.35" stroke-linejoin="round"/>
<polyline points="376.4,269.75 377.48,270.27 378.56,270.79 379.64,271.3 380.72,271.79 381.8,272.26 382.88,272.71 383.96,273.12 385.04,273.49 385.4,273.61 386.12,273.83 387.2,274.12 388.28,274.37 389.36,274.6 390.44,274.79 391.52,274.97 392.6,275.13 393.68,275.28 394.76,275.42 395.84,275.56 396.92,275.7 398,275.83 399.08,275.97 400.16,276.1 401.24,276.23 402.32,276.36 403.4,276.5 404.48,276.62 405.56,276.75 406.64,276.88 407.72,276.99 408.8,277.09 409.88,277.17 410.96,277.23 412.04,277.25 413.12,277.25 413.84,277.23 414.2,277.21 415.28,277.13 416.36,277.01 417.44,276.85 418.52,276.66 419.6,276.43 420.68,276.17 421.76,275.87 422.84,275.54 423.2,275.42 423.92,275.17 425,274.77 426.08,274.32 427.16,273.81 428.24,273.22 428.6,273.01 429.32,272.55 430.4,271.77 431.48,270.85 432.56,269.75 433.64,268.46 434.72,267.04 435.8,265.56 436.88,264.08 437.96,262.68 439.04,261.36 440.12,260.11 441.2,258.92 441.56,258.53 442.28,257.79 443.36,256.7 444.44,255.66 445.52,254.66 446.6,253.7 447.68,252.77 448.76,251.86 449.84,250.97 450.92,250.09 452,249.23 453.08,248.38 454.16,247.56 455.24,246.75 456.32,245.98 457.4,245.24 458.48,244.53 459.56,243.87 460.28,243.46 460.64,243.26 461.72,242.7 462.8,242.19 463.88,241.75 464.96,241.36 466.04,241.05 467.12,240.8 468.2,240.64 469.28,240.55 470.36,240.57 471.44,240.68 471.8,240.75 472.52,240.91 473.6,241.22 474.68,241.58 475.76,241.95 476.84,242.31 477.92,242.64 479,242.96 480.08,243.29 481.16,243.61 482.24,243.95 483.32,244.31 484.4,244.7 485.48,245.12 485.84,245.27 486.56,245.58 487.64,246.09 488.72,246.62 489.8,247.17 490.88,247.73 491.96,248.28 493.04,248.82 494.12,249.33 495.2,249.8 495.92,250.09 496.28,250.23 497.36,250.6 498.44,250.93 499.52,251.22 500.6,251.49 501.68,251.74 502.76,251.98 503.84,252.22 504.92,252.47 506,252.75 507.08,253.04 508.16,253.37 509.24,253.72 510.32,254.09 511.4,254.49 512.48,254.9 513.56,255.34 514.64,255.79 515.72,256.26 516.08,256.42 516.8,256.75 517.88,257.25 518.96,257.76 520.04,258.27 521.12,258.79 522.2,259.3 523.28,259.81 524.36,260.32 525.44,260.81 526.16,261.13 526.52,261.28 527.6,261.75 528.68,262.19 529.76,262.62 530.84,263.04 531.92,263.45 533,263.85 534.08,264.25 535.16,264.63 536.24,265.01 537.32,265.39 538.4,265.77" fill="none" stroke="#1e8cff" stroke-width="1.35" stroke-linejoin="round"/>
<polyline points="376.4,270.59 377.48,271.08 378.56,271.57 379.64,272.04 380.72,272.5 381.8,272.94 382.88,273.36 383.96,273.75 385.04,274.1 385.4,274.21 386.12,274.42 387.2,274.71 388.28,274.96 389.36,275.19 390.44,275.41 391.52,275.62 392.6,275.83 393.68,276.04 394.76,276.26 395.84,276.5 396.92,276.75 398,277 399.08,277.25 400.16,277.49 401.24,277.71 402.32,277.91 403.4,278.08 403.76,278.13 404.48,278.22 405.56,278.32 406.64,278.38 407.72,278.41 408.8,278.42 409.88,278.4 410.96,278.35 412.04,278.28 413.12,278.2 413.84,278.13 414.2,278.1 415.28,277.98 416.36,277.86 417.44,277.72 418.52,277.58 419.6,277.43 420.68,277.28 421.76,277.13 422.84,276.98 423.2,276.93 423.92,276.83 425,276.68 426.08,276.53 427.16,276.38 428.24,276.21 429.32,276.04 430.4,275.85 431.48,275.65 432.56,275.42 433.64,275.17 434.72,274.89 435.8,274.59 436.88,274.27 437.96,273.92 439.04,273.55 440.12,273.15 441.2,272.73 441.56,272.58 442.28,272.28 443.36,271.8 444.44,271.27 445.52,270.67 446.6,269.99 447.68,269.21 448.76,268.3 449.84,267.22 450.92,265.95 452,264.46 453.08,262.8 454.16,261.01 455.24,259.16 455.6,258.53 456.32,257.29 457.4,255.43 458.48,253.61 459.56,251.84 460.28,250.7 460.64,250.14 461.72,248.53 462.8,247.03 463.88,245.67 464.96,244.47 466.04,243.46 467.12,242.65 468.2,242.02 469.28,241.57 470.36,241.26 471.44,241.1 472.52,241.04 472.88,241.05 473.6,241.09 474.68,241.21 475.76,241.41 476.84,241.66 477.92,241.94 479,242.25 480.08,242.58 481.16,242.92 482.24,243.28 483.32,243.66 484.4,244.07 485.48,244.51 485.84,244.67 486.56,244.99 487.64,245.49 488.72,246.02 489.8,246.57 490.88,247.12 491.96,247.66 493.04,248.2 494.12,248.71 495.2,249.19 495.92,249.49 496.28,249.63 497.36,250.04 498.44,250.4 499.52,250.74 500.6,251.05 501.68,251.35 502.76,251.64 503.84,251.92 504.92,252.21 506,252.5 507.08,252.81 508.16,253.14 509.24,253.48 510.32,253.84 511.4,254.22 512.48,254.62 513.56,255.05 514.64,255.49 515.72,255.96 516.08,256.12 516.8,256.45 517.88,256.97 518.96,257.5 520.04,258.05 521.12,258.6 522.2,259.15 523.28,259.7 524.36,260.25 525.44,260.78 526.16,261.13 526.52,261.3 527.6,261.79 528.68,262.27 529.76,262.74 530.84,263.18 531.92,263.62 533,264.04 534.08,264.46 535.16,264.87 536.24,265.27 537.32,265.67 538.4,266.07" fill="none" stroke="#ff8c1a" stroke-width="1.35" stroke-linejoin="round"/>
</g>
<line x1="374.4" y1="291.7" x2="376.4" y2="291.7" stroke="#2a2a2a" stroke-width="0.7"/>
<text x="373.5" y="293.85" font-size="6.1" text-anchor="end" fill="#1a1a1a" stroke="#1a1a1a" stroke-width="0.1">0.0</text>
<line x1="374.4" y1="273.61" x2="376.4" y2="273.61" stroke="#2a2a2a" stroke-width="0.7"/>
<text x="373.5" y="275.76" font-size="6.1" text-anchor="end" fill="#1a1a1a" stroke="#1a1a1a" stroke-width="0.1">0.3</text>
<line x1="374.4" y1="255.52" x2="376.4" y2="255.52" stroke="#2a2a2a" stroke-width="0.7"/>
<text x="373.5" y="257.67" font-size="6.1" text-anchor="end" fill="#1a1a1a" stroke="#1a1a1a" stroke-width="0.1">0.6</text>
<line x1="374.4" y1="237.43" x2="376.4" y2="237.43" stroke="#2a2a2a" stroke-width="0.7"/>
<text x="373.5" y="239.58" font-size="6.1" text-anchor="end" fill="#1a1a1a" stroke="#1a1a1a" stroke-width="0.1">0.9</text>
<line x1="375.2" y1="282.65" x2="376.4" y2="282.65" stroke="#2a2a2a" stroke-width="0.6"/>
<line x1="375.2" y1="264.56" x2="376.4" y2="264.56" stroke="#2a2a2a" stroke-width="0.6"/>
<line x1="375.2" y1="246.47" x2="376.4" y2="246.47" stroke="#2a2a2a" stroke-width="0.6"/>
<text x="379.9" y="242.2" font-size="8.6" text-anchor="start" fill="#2a2aff" stroke="#2a2aff" stroke-width="0.22">TE</text>
<text x="397.9" y="242.2" font-size="8.6" text-anchor="start" fill="#1a1a1a" stroke="#1a1a1a" stroke-width="0.22">Exp.</text>
<rect x="376.4" y="22.9" width="162" height="119" fill="none" stroke="#2a2a2a" stroke-width="0.9"/>
<line x1="376.4" y1="82.2" x2="538.4" y2="82.2" stroke="#2a2a2a" stroke-width="0.9"/>
<line x1="376.4" y1="141.9" x2="376.4" y2="143.1" stroke="#2a2a2a" stroke-width="0.7"/>
<line x1="394.4" y1="141.9" x2="394.4" y2="143.9" stroke="#2a2a2a" stroke-width="0.7"/>
<text x="394.4" y="150" font-size="6.1" text-anchor="middle" fill="#1a1a1a" stroke="#1a1a1a" stroke-width="0.1">600</text>
<line x1="412.4" y1="141.9" x2="412.4" y2="143.1" stroke="#2a2a2a" stroke-width="0.7"/>
<line x1="430.4" y1="141.9" x2="430.4" y2="143.9" stroke="#2a2a2a" stroke-width="0.7"/>
<text x="430.4" y="150" font-size="6.1" text-anchor="middle" fill="#1a1a1a" stroke="#1a1a1a" stroke-width="0.1">700</text>
<line x1="448.4" y1="141.9" x2="448.4" y2="143.1" stroke="#2a2a2a" stroke-width="0.7"/>
<line x1="466.4" y1="141.9" x2="466.4" y2="143.9" stroke="#2a2a2a" stroke-width="0.7"/>
<text x="466.4" y="150" font-size="6.1" text-anchor="middle" fill="#1a1a1a" stroke="#1a1a1a" stroke-width="0.1">800</text>
<line x1="484.4" y1="141.9" x2="484.4" y2="143.1" stroke="#2a2a2a" stroke-width="0.7"/>
<line x1="502.4" y1="141.9" x2="502.4" y2="143.9" stroke="#2a2a2a" stroke-width="0.7"/>
<text x="502.4" y="150" font-size="6.1" text-anchor="middle" fill="#1a1a1a" stroke="#1a1a1a" stroke-width="0.1">900</text>
<line x1="520.4" y1="141.9" x2="520.4" y2="143.1" stroke="#2a2a2a" stroke-width="0.7"/>
<line x1="538.4" y1="141.9" x2="538.4" y2="143.9" stroke="#2a2a2a" stroke-width="0.7"/>
<text x="538.4" y="150" font-size="6.1" text-anchor="middle" fill="#1a1a1a" stroke="#1a1a1a" stroke-width="0.1">1000</text>
<text x="457.5" y="161.3" font-size="7.6" text-anchor="middle" fill="#1a1a1a" stroke="#1a1a1a" stroke-width="0.22">Wavelength (nm)</text>
<text x="358.8" y="85.4" font-size="7.5" text-anchor="middle" fill="#1a1a1a" stroke="#1a1a1a" stroke-width="0.22" transform="rotate(-90 358.8 85.4)" dy="2.6">Transmission</text>
<rect x="376.4" y="172" width="162" height="119.7" fill="none" stroke="#2a2a2a" stroke-width="0.9"/>
<line x1="376.4" y1="231.4" x2="538.4" y2="231.4" stroke="#2a2a2a" stroke-width="0.9"/>
<line x1="376.4" y1="291.7" x2="376.4" y2="292.9" stroke="#2a2a2a" stroke-width="0.7"/>
<line x1="394.4" y1="291.7" x2="394.4" y2="293.7" stroke="#2a2a2a" stroke-width="0.7"/>
<text x="394.4" y="299.8" font-size="6.1" text-anchor="middle" fill="#1a1a1a" stroke="#1a1a1a" stroke-width="0.1">600</text>
<line x1="412.4" y1="291.7" x2="412.4" y2="292.9" stroke="#2a2a2a" stroke-width="0.7"/>
<line x1="430.4" y1="291.7" x2="430.4" y2="293.7" stroke="#2a2a2a" stroke-width="0.7"/>
<text x="430.4" y="299.8" font-size="6.1" text-anchor="middle" fill="#1a1a1a" stroke="#1a1a1a" stroke-width="0.1">700</text>
<line x1="448.4" y1="291.7" x2="448.4" y2="292.9" stroke="#2a2a2a" stroke-width="0.7"/>
<line x1="466.4" y1="291.7" x2="466.4" y2="293.7" stroke="#2a2a2a" stroke-width="0.7"/>
<text x="466.4" y="299.8" font-size="6.1" text-anchor="middle" fill="#1a1a1a" stroke="#1a1a1a" stroke-width="0.1">800</text>
<line x1="484.4" y1="291.7" x2="484.4" y2="292.9" stroke="#2a2a2a" stroke-width="0.7"/>
<line x1="502.4" y1="291.7" x2="502.4" y2="293.7" stroke="#2a2a2a" stroke-width="0.7"/>
<text x="502.4" y="299.8" font-size="6.1" text-anchor="middle" fill="#1a1a1a" stroke="#1a1a1a" stroke-width="0.1">900</text>
<line x1="520.4" y1="291.7" x2="520.4" y2="292.9" stroke="#2a2a2a" stroke-width="0.7"/>
<line x1="538.4" y1="291.7" x2="538.4" y2="293.7" stroke="#2a2a2a" stroke-width="0.7"/>
<text x="538.4" y="299.8" font-size="6.1" text-anchor="middle" fill="#1a1a1a" stroke="#1a1a1a" stroke-width="0.1">1000</text>
<text x="457.5" y="311.1" font-size="7.6" text-anchor="middle" fill="#1a1a1a" stroke="#1a1a1a" stroke-width="0.22">Wavelength (nm)</text>
<text x="358.8" y="234.6" font-size="7.5" text-anchor="middle" fill="#1a1a1a" stroke="#1a1a1a" stroke-width="0.22" transform="rotate(-90 358.8 234.6)" dy="2.6">Transmission</text>
<text x="354.8" y="14.8" font-size="12.2" text-anchor="start" fill="#1a1a1a" stroke="#1a1a1a" stroke-width="0.22">(c)</text>
<text x="358.2" y="162.6" font-size="12.2" text-anchor="start" fill="#1a1a1a" stroke="#1a1a1a" stroke-width="0.22">(f)</text>
</svg>
</body></html>
